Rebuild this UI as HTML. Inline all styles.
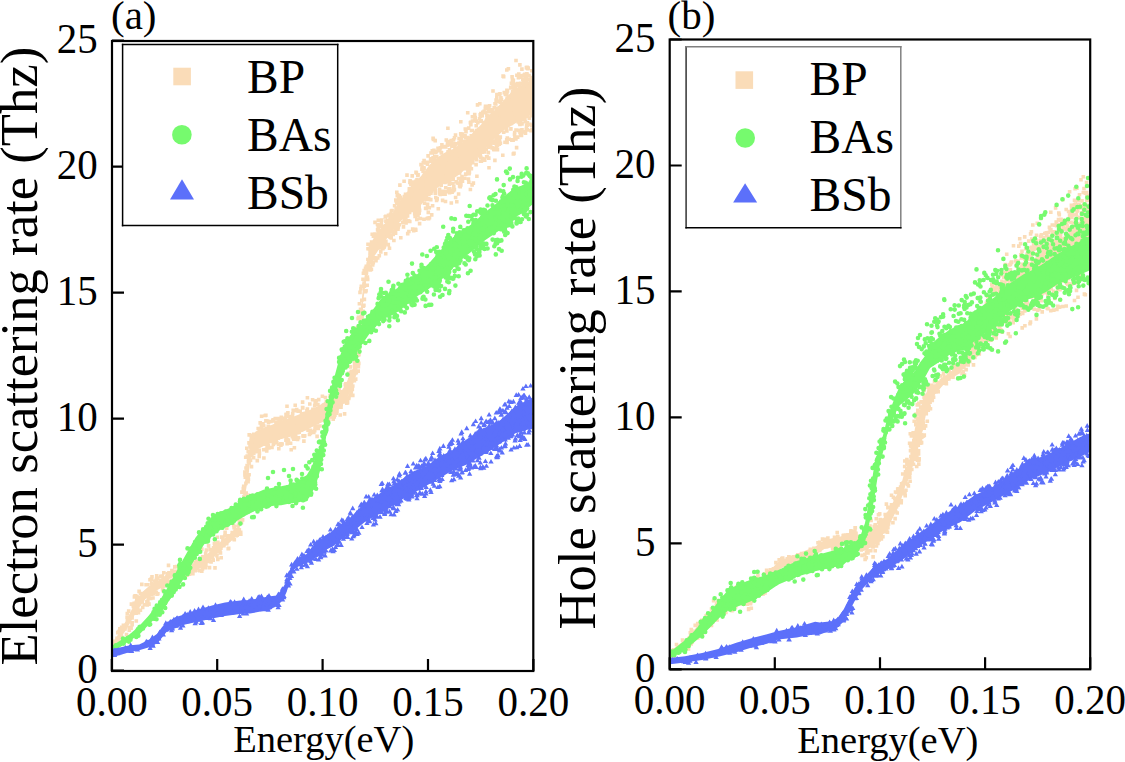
<!DOCTYPE html>
<html><head><meta charset="utf-8"><style>
html,body{margin:0;padding:0;background:#fff;width:1125px;height:762px;overflow:hidden}
svg{display:block}
text{font-family:"Liberation Serif",serif;fill:#000}
</style></head><body>
<svg width="1125" height="762" viewBox="0 0 1125 762">
<clipPath id="c10"><rect x="113" y="42" width="419.3" height="628.0"/></clipPath>
<g clip-path="url(#c10)">
<path d="M112.0 644.3L118.5 633.8L127.0 618.9L135.6 601.7L144.0 590.4L152.7 583.0L161.2 579.1L170.0 571.4L180.0 568.8L187.0 569.7L195.6 563.8L204.1 556.9L212.7 548.9L221.2 540.9L229.7 534.1L238.3 526.3L241.7 508.0L245.0 481.4L248.5 456.1L250.5 439.8L255.6 431.5L264.1 427.9L272.7 424.5L281.2 421.1L289.7 418.1L298.3 414.7L306.8 411.3L315.3 407.6L323.9 402.8L337.0 398.0L344.0 386.9L350.0 375.4L355.0 362.9L357.5 351.2L358.5 336.5L360.5 312.0L362.2 295.0L365.6 268.3L369.0 252.0L374.1 236.5L382.7 225.5L390.0 218.5L397.9 203.3L405.7 193.4L413.6 184.0L421.5 175.6L429.4 165.1L437.2 157.6L445.1 152.6L453.0 149.0L460.9 143.8L468.7 136.9L475.9 129.7L485.1 120.5L494.2 110.8L503.4 100.6L512.6 90.7L521.8 85.3L533.0 78.5L533.0 113.4L521.8 119.4L512.6 125.0L503.4 130.4L494.2 139.2L485.1 148.5L475.9 158.3L468.7 166.1L460.9 173.2L453.0 179.0L445.1 182.0L437.2 187.9L429.4 194.6L421.5 204.5L413.6 210.4L405.7 216.6L397.9 224.1L390.0 234.8L382.7 243.7L374.1 256.6L369.0 268.4L365.6 282.7L362.2 309.0L360.5 328.0L358.5 351.5L357.5 365.8L355.0 379.1L350.0 392.6L344.0 403.1L337.0 412.0L323.9 421.4L315.3 425.3L306.8 430.1L298.3 433.5L289.7 437.0L281.2 439.1L272.7 442.5L264.1 445.8L255.6 450.5L250.5 457.9L248.5 474.9L245.0 496.1L241.7 519.0L238.3 533.2L229.7 542.4L221.2 549.1L212.7 558.4L204.1 565.7L195.6 570.7L187.0 575.1L180.0 575.2L170.0 578.6L161.2 587.9L152.7 592.5L144.0 600.6L135.6 613.3L127.0 628.4L118.5 640.7L112.0 648.7Z" fill="#fadcb8"/>
<path d="M113.5 647.2h0M114.1 642.7h0M114.5 641.4h0M117.0 638.4h0M117.8 632.7h0M117.8 640.7h0M117.9 639.7h0M118.3 632.0h0M119.1 640.6h0M119.2 631.4h0M119.8 628.7h0M120.8 634.0h0M121.3 634.4h0M121.5 629.4h0M121.6 627.4h0M121.7 630.8h0M121.8 637.2h0M122.8 629.8h0M123.0 629.4h0M123.4 625.4h0M125.0 629.0h0M126.5 634.6h0M127.1 617.3h0M127.3 613.5h0M127.4 619.8h0M128.7 611.1h0M128.9 620.0h0M129.2 627.7h0M129.3 630.3h0M130.9 627.4h0M131.1 628.2h0M131.4 604.1h0M131.9 622.8h0M132.0 615.6h0M132.1 617.9h0M132.2 622.8h0M132.2 624.6h0M132.9 612.8h0M133.2 605.0h0M133.4 606.5h0M133.8 612.4h0M134.2 603.3h0M134.4 597.0h0M134.7 596.1h0M134.9 612.9h0M135.3 612.1h0M135.7 604.0h0M135.8 595.9h0M135.9 604.2h0M136.1 613.1h0M136.2 602.4h0M136.3 621.0h0M136.4 608.9h0M136.8 600.2h0M136.8 596.7h0M137.7 609.3h0M138.5 612.8h0M138.9 597.8h0M139.1 602.0h0M139.1 591.4h0M139.4 603.9h0M140.4 593.6h0M140.4 610.3h0M141.4 597.5h0M141.8 584.4h0M142.2 593.5h0M142.3 601.9h0M142.7 607.5h0M142.7 595.4h0M142.7 598.9h0M144.3 604.7h0M144.7 593.0h0M145.5 594.0h0M145.6 593.8h0M146.1 584.8h0M146.9 601.7h0M147.3 604.9h0M147.8 584.7h0M147.9 601.2h0M148.3 597.8h0M148.6 598.2h0M149.0 604.1h0M149.0 596.6h0M150.0 579.7h0M150.3 591.3h0M150.7 598.4h0M151.2 579.1h0M151.5 594.1h0M151.7 583.1h0M152.0 576.9h0M152.8 591.5h0M153.0 598.0h0M153.0 594.0h0M153.2 593.4h0M153.9 590.9h0M154.8 581.0h0M154.8 585.8h0M154.8 589.9h0M155.9 582.9h0M156.3 592.3h0M156.4 579.3h0M156.6 581.6h0M156.7 575.9h0M156.7 585.7h0M157.0 594.3h0M157.4 578.2h0M157.6 578.1h0M157.9 593.8h0M160.7 586.2h0M160.8 576.2h0M161.1 580.2h0M162.2 576.1h0M162.6 589.4h0M162.6 587.0h0M162.9 582.3h0M163.1 578.5h0M163.2 590.6h0M163.8 572.8h0M163.9 585.9h0M165.5 584.3h0M165.7 582.1h0M166.1 579.7h0M166.6 584.7h0M166.7 577.4h0M167.5 576.4h0M167.5 573.7h0M167.6 580.9h0M168.5 565.4h0M168.9 572.9h0M169.3 581.8h0M169.7 574.0h0M170.1 582.6h0M170.6 573.6h0M171.9 570.5h0M171.9 580.2h0M172.9 581.0h0M173.1 571.7h0M173.2 572.8h0M173.3 574.2h0M174.3 573.0h0M174.8 566.9h0M174.9 571.4h0M176.6 566.5h0M177.3 576.5h0M177.9 579.7h0M179.8 572.7h0M180.2 571.0h0M181.0 574.5h0M182.0 577.6h0M182.5 570.2h0M183.8 568.4h0M184.2 569.9h0M184.5 572.6h0M186.8 573.8h0M187.0 575.1h0M187.3 574.4h0M187.4 574.6h0M188.6 568.4h0M189.5 574.2h0M190.4 569.6h0M191.9 567.3h0M192.9 573.7h0M193.0 567.5h0M193.8 565.4h0M193.9 565.3h0M195.0 562.6h0M195.0 570.8h0M195.4 570.8h0M195.5 563.3h0M195.9 570.3h0M196.0 570.1h0M196.3 561.3h0M196.5 554.1h0M196.8 568.0h0M198.4 562.3h0M199.6 563.2h0M199.8 570.7h0M200.3 566.6h0M200.5 561.6h0M200.5 559.6h0M201.8 571.1h0M201.8 549.1h0M202.5 568.9h0M202.8 556.7h0M203.4 567.0h0M204.0 563.9h0M204.9 562.5h0M205.2 559.0h0M205.5 567.8h0M205.7 553.2h0M205.9 565.0h0M206.3 556.7h0M206.4 550.0h0M207.8 556.7h0M208.5 561.5h0M208.6 545.9h0M208.7 556.9h0M208.9 559.5h0M209.2 561.0h0M209.5 567.6h0M210.2 549.6h0M211.1 561.9h0M211.1 549.9h0M211.2 557.5h0M212.5 557.6h0M213.2 560.1h0M213.6 547.9h0M213.6 548.3h0M214.4 543.5h0M214.8 548.9h0M214.8 546.6h0M214.9 543.2h0M215.0 567.9h0M215.8 551.9h0M216.0 550.7h0M216.8 552.0h0M216.9 555.7h0M216.9 544.2h0M217.3 537.3h0M217.8 542.2h0M217.8 559.4h0M218.0 543.4h0M219.3 545.9h0M219.6 549.7h0M220.0 551.1h0M220.5 553.0h0M220.9 548.2h0M221.2 557.7h0M221.7 537.1h0M222.6 544.5h0M222.9 539.3h0M223.3 541.3h0M223.9 545.6h0M224.9 535.7h0M225.1 532.2h0M226.7 528.1h0M226.7 543.7h0M226.8 540.1h0M227.9 540.3h0M228.1 535.9h0M228.2 548.7h0M228.7 548.2h0M228.8 540.0h0M229.9 537.9h0M230.2 538.3h0M231.4 538.8h0M232.2 532.6h0M233.0 536.3h0M233.7 525.4h0M233.8 532.7h0M234.1 527.6h0M234.3 539.7h0M234.7 526.8h0M235.2 531.6h0M235.5 529.7h0M235.7 535.3h0M236.3 535.7h0M236.7 533.3h0M237.2 535.3h0M238.1 532.1h0M238.1 530.9h0M238.4 533.0h0M238.4 525.1h0M238.8 533.5h0M239.3 521.3h0M239.3 529.7h0M239.7 518.6h0M240.4 520.7h0M240.7 532.4h0M240.8 534.2h0M241.5 522.8h0M241.9 492.1h0M242.0 513.4h0M242.2 500.1h0M242.2 514.0h0M242.2 510.2h0M242.5 503.5h0M242.6 519.9h0M242.9 504.9h0M243.2 514.8h0M243.3 488.5h0M243.4 510.0h0M243.6 504.0h0M243.7 486.4h0M243.8 492.1h0M243.9 496.5h0M244.9 472.0h0M244.9 473.9h0M245.0 475.2h0M245.0 495.5h0M245.2 501.8h0M245.3 477.2h0M245.3 494.3h0M245.5 498.8h0M245.7 457.2h0M245.7 496.4h0M245.9 483.4h0M245.9 499.0h0M246.0 468.0h0M246.2 493.0h0M246.8 448.3h0M246.9 475.4h0M247.0 469.2h0M247.1 465.5h0M247.2 456.0h0M247.2 470.0h0M248.1 476.2h0M248.1 481.7h0M248.2 451.7h0M248.3 495.3h0M248.4 479.3h0M248.4 461.4h0M248.7 461.1h0M248.9 458.4h0M249.0 442.9h0M249.1 462.9h0M249.1 474.7h0M249.2 434.9h0M249.5 453.8h0M249.8 460.5h0M250.0 444.6h0M250.2 445.8h0M250.5 460.1h0M250.6 447.0h0M251.0 441.0h0M251.3 437.4h0M251.4 443.8h0M251.5 466.6h0M251.5 449.3h0M251.7 454.5h0M251.8 455.8h0M252.1 435.4h0M252.2 437.8h0M252.3 438.7h0M252.9 437.5h0M253.2 451.9h0M253.3 447.7h0M253.6 457.7h0M253.8 434.4h0M253.8 453.5h0M254.4 445.5h0M255.4 448.2h0M255.7 451.7h0M255.7 443.8h0M255.8 449.1h0M256.0 446.2h0M256.2 446.6h0M256.3 449.3h0M256.7 451.2h0M257.1 445.8h0M257.3 460.6h0M257.3 444.7h0M257.8 443.1h0M258.2 428.5h0M258.9 434.5h0M259.2 456.4h0M259.2 450.3h0M259.2 442.2h0M259.4 432.0h0M259.4 434.8h0M259.4 453.2h0M260.1 434.6h0M260.2 422.9h0M261.4 426.1h0M261.4 427.8h0M261.6 416.3h0M261.8 440.6h0M262.0 429.9h0M263.0 423.8h0M263.7 449.8h0M263.7 426.0h0M263.9 458.0h0M264.0 435.7h0M264.3 435.2h0M264.7 440.8h0M264.7 434.2h0M265.0 430.9h0M265.2 415.5h0M265.3 444.2h0M265.8 449.5h0M265.9 430.8h0M265.9 420.9h0M265.9 415.3h0M266.0 432.0h0M266.4 442.3h0M266.7 451.0h0M266.8 449.4h0M266.9 428.5h0M267.1 446.2h0M267.5 421.0h0M267.6 437.5h0M267.9 440.3h0M268.3 426.4h0M268.4 445.5h0M268.5 433.9h0M268.5 428.0h0M268.6 422.2h0M268.7 426.9h0M268.9 448.0h0M270.4 441.2h0M270.8 429.2h0M270.9 421.5h0M271.7 431.2h0M272.0 447.5h0M272.3 439.9h0M272.3 431.8h0M272.5 437.9h0M272.5 432.2h0M272.8 420.9h0M273.1 419.7h0M273.3 444.4h0M273.7 443.4h0M274.7 435.2h0M275.0 429.5h0M275.2 418.6h0M275.3 442.1h0M275.5 430.7h0M275.5 425.7h0M276.0 422.5h0M276.2 440.9h0M276.8 427.1h0M276.8 442.8h0M278.0 438.2h0M278.5 418.6h0M278.5 444.5h0M278.7 429.4h0M278.8 418.5h0M278.8 448.7h0M279.1 421.8h0M279.4 428.0h0M279.8 422.2h0M280.5 437.3h0M280.6 423.0h0M280.7 422.1h0M280.8 431.1h0M280.9 443.9h0M280.9 445.3h0M281.3 417.3h0M281.4 418.6h0M281.6 418.2h0M281.7 432.1h0M282.1 444.0h0M282.1 426.5h0M282.2 424.5h0M283.3 423.5h0M283.5 418.5h0M283.9 430.5h0M284.0 433.7h0M284.3 422.6h0M284.5 421.6h0M285.3 432.2h0M285.5 418.0h0M285.9 440.3h0M286.0 414.7h0M286.0 432.5h0M286.2 438.0h0M286.2 414.2h0M287.0 406.3h0M287.1 443.8h0M287.2 416.3h0M287.6 425.3h0M287.8 428.3h0M287.8 439.6h0M287.9 412.7h0M288.2 423.3h0M288.5 440.5h0M289.9 416.5h0M290.1 419.9h0M290.3 429.4h0M290.6 443.2h0M291.2 449.7h0M291.6 418.8h0M291.6 429.4h0M291.7 420.8h0M291.8 428.0h0M292.1 425.5h0M292.3 436.6h0M292.4 417.2h0M292.4 427.0h0M292.7 413.8h0M292.9 429.9h0M293.2 410.4h0M293.4 438.2h0M293.4 424.2h0M293.7 433.9h0M293.8 439.2h0M293.9 421.2h0M293.9 422.5h0M294.4 447.7h0M294.4 422.1h0M294.7 431.6h0M294.7 439.1h0M295.0 434.1h0M295.2 405.2h0M295.7 436.3h0M296.5 410.6h0M296.7 409.5h0M297.4 438.5h0M297.6 426.2h0M297.6 439.5h0M297.8 432.8h0M298.3 411.1h0M298.6 437.8h0M298.8 424.3h0M299.0 419.5h0M299.2 432.1h0M299.8 411.3h0M300.2 411.3h0M300.5 425.6h0M300.8 423.4h0M301.3 429.9h0M301.3 417.8h0M301.5 426.9h0M301.5 414.4h0M301.8 429.5h0M301.8 413.9h0M302.1 423.9h0M302.6 402.1h0M302.6 407.5h0M302.8 407.9h0M303.0 435.9h0M303.9 441.1h0M304.0 436.2h0M304.0 424.7h0M304.3 423.8h0M304.6 424.5h0M304.6 413.6h0M304.7 435.7h0M305.3 418.1h0M305.7 413.3h0M305.7 428.2h0M305.8 423.0h0M306.9 410.7h0M307.4 397.7h0M307.4 409.0h0M307.4 413.6h0M307.6 419.4h0M307.7 412.2h0M307.7 417.5h0M308.0 430.3h0M309.5 434.4h0M309.8 404.0h0M310.0 422.0h0M310.4 433.2h0M310.5 430.2h0M310.7 416.2h0M310.8 413.1h0M310.9 424.4h0M312.6 399.8h0M312.8 413.8h0M312.9 409.3h0M313.1 409.6h0M313.1 420.2h0M313.3 431.5h0M313.8 409.4h0M313.8 432.4h0M314.1 410.9h0M314.2 419.1h0M314.4 413.3h0M314.7 430.6h0M314.7 405.5h0M314.8 409.7h0M314.8 411.4h0M315.0 426.3h0M315.1 427.6h0M315.2 402.1h0M315.5 403.2h0M315.9 413.4h0M316.0 413.7h0M316.3 400.7h0M316.4 412.1h0M316.8 426.1h0M316.9 413.3h0M316.9 426.9h0M317.1 422.3h0M317.1 436.4h0M317.3 428.2h0M317.5 427.8h0M317.8 417.6h0M317.9 404.5h0M318.1 408.7h0M318.2 428.4h0M318.3 418.0h0M318.7 399.6h0M319.2 420.7h0M319.3 408.9h0M319.7 413.2h0M320.0 426.0h0M320.1 418.7h0M320.3 411.7h0M320.3 407.8h0M320.8 406.7h0M322.0 420.1h0M322.4 396.3h0M322.7 408.6h0M323.1 418.1h0M323.6 405.1h0M324.3 417.7h0M324.4 426.2h0M324.7 426.4h0M325.4 397.5h0M325.5 404.0h0M326.0 417.0h0M326.1 422.3h0M326.2 414.2h0M326.2 425.2h0M326.3 401.6h0M327.5 421.8h0M327.8 420.7h0M327.9 410.4h0M328.0 418.7h0M328.0 408.1h0M328.7 418.8h0M328.7 419.6h0M328.9 414.4h0M329.3 404.5h0M329.7 416.1h0M330.1 395.6h0M330.4 408.8h0M330.8 417.0h0M330.9 403.5h0M331.2 412.2h0M331.3 405.7h0M332.9 399.0h0M332.9 402.3h0M333.2 419.3h0M333.7 405.2h0M334.2 417.0h0M334.2 405.3h0M334.5 404.4h0M334.9 415.1h0M335.1 405.2h0M335.2 405.3h0M335.8 394.9h0M335.9 409.3h0M336.0 412.8h0M336.3 400.6h0M336.3 410.3h0M336.4 413.1h0M336.4 392.2h0M337.0 411.2h0M337.3 394.6h0M338.7 393.6h0M339.1 389.6h0M339.3 407.1h0M339.8 406.5h0M340.1 403.2h0M340.2 415.0h0M340.2 393.6h0M340.7 400.4h0M340.7 391.7h0M341.0 407.2h0M341.2 404.5h0M341.5 399.1h0M341.7 393.8h0M341.8 399.1h0M341.8 401.5h0M342.4 401.1h0M342.9 397.5h0M343.4 402.0h0M343.6 394.9h0M344.5 401.1h0M344.6 413.9h0M344.7 397.8h0M345.0 397.4h0M345.0 390.6h0M345.3 384.8h0M345.5 400.2h0M345.6 391.4h0M345.8 386.8h0M345.8 391.6h0M345.9 383.9h0M346.3 387.8h0M346.4 399.6h0M346.8 403.1h0M347.1 400.5h0M347.2 400.4h0M347.5 400.5h0M347.6 402.8h0M348.3 375.2h0M348.5 398.4h0M348.6 373.3h0M348.8 398.4h0M349.0 397.0h0M349.0 382.9h0M349.7 379.9h0M350.1 375.6h0M350.2 395.0h0M350.4 366.9h0M350.9 372.7h0M351.0 393.1h0M351.1 395.4h0M351.2 380.5h0M351.3 391.5h0M351.4 371.4h0M351.8 378.1h0M351.9 386.2h0M352.3 389.4h0M352.6 379.2h0M352.8 386.0h0M352.8 395.4h0M353.9 373.7h0M354.1 374.9h0M354.2 380.5h0M354.4 348.1h0M354.4 380.7h0M354.5 366.0h0M354.6 362.9h0M354.8 367.1h0M354.9 373.4h0M355.0 367.1h0M355.1 362.9h0M355.5 350.6h0M355.6 368.7h0M355.6 342.9h0M355.7 379.1h0M356.3 372.6h0M356.6 366.7h0M356.9 361.8h0M356.9 328.1h0M357.2 350.0h0M357.3 341.3h0M357.3 336.5h0M357.7 355.2h0M357.8 362.1h0M358.0 361.4h0M358.1 318.7h0M358.2 371.1h0M358.2 349.2h0M358.3 348.7h0M358.4 366.7h0M358.5 317.3h0M358.8 338.0h0M358.8 363.4h0M358.9 354.7h0M358.9 326.6h0M359.2 349.1h0M359.2 332.6h0M359.4 303.7h0M359.7 317.2h0M360.0 326.1h0M360.0 292.4h0M360.2 336.8h0M360.2 342.2h0M360.5 309.3h0M360.6 342.0h0M360.9 288.7h0M360.9 311.4h0M361.2 309.7h0M361.2 316.6h0M361.3 318.5h0M361.3 286.3h0M361.8 300.3h0M362.0 342.3h0M362.1 311.2h0M362.2 316.6h0M363.0 311.3h0M363.0 279.3h0M363.2 306.1h0M363.4 273.3h0M363.9 323.1h0M363.9 305.4h0M363.9 284.7h0M364.1 283.0h0M364.2 270.5h0M364.4 299.4h0M364.4 286.3h0M365.3 291.1h0M365.5 268.4h0M365.5 291.7h0M366.1 273.1h0M366.1 290.7h0M366.1 269.1h0M366.3 266.4h0M366.4 272.1h0M366.5 272.8h0M366.9 269.4h0M367.2 285.2h0M367.4 279.2h0M367.4 267.0h0M367.4 277.0h0M367.7 279.4h0M367.9 259.5h0M368.0 244.3h0M368.0 248.7h0M368.4 263.8h0M368.9 261.4h0M368.9 262.8h0M369.2 262.1h0M369.3 248.9h0M369.3 248.5h0M369.7 259.2h0M369.9 261.7h0M370.0 262.1h0M370.1 259.3h0M370.1 252.4h0M370.2 253.4h0M370.3 266.7h0M370.5 246.1h0M370.5 269.9h0M370.9 256.2h0M371.1 244.7h0M371.4 269.3h0M371.6 253.6h0M371.6 242.1h0M371.7 260.5h0M372.2 234.3h0M372.5 245.8h0M372.6 245.2h0M372.7 265.0h0M373.3 262.6h0M373.4 236.1h0M373.6 258.4h0M374.5 241.4h0M374.8 257.9h0M374.9 234.1h0M375.0 222.4h0M375.6 236.0h0M376.0 260.7h0M376.1 258.5h0M377.0 240.2h0M377.5 224.5h0M377.6 229.9h0M377.8 258.0h0M378.0 247.6h0M378.2 227.5h0M378.3 220.3h0M378.5 232.9h0M378.7 244.8h0M379.2 242.2h0M379.3 232.9h0M379.3 255.7h0M379.6 225.1h0M379.6 230.9h0M380.1 234.7h0M380.2 239.3h0M380.4 248.0h0M380.8 251.9h0M380.8 244.8h0M380.9 237.9h0M381.0 232.6h0M381.4 223.6h0M381.7 226.2h0M381.7 220.1h0M381.8 244.7h0M381.9 247.2h0M381.9 242.4h0M382.2 231.2h0M382.9 248.7h0M383.1 237.5h0M383.2 226.9h0M383.3 237.5h0M383.3 226.5h0M383.6 247.5h0M383.8 240.2h0M383.9 234.2h0M384.2 246.9h0M384.6 245.6h0M384.6 231.1h0M385.2 241.7h0M385.3 216.9h0M385.5 243.5h0M385.7 253.8h0M385.8 227.7h0M385.9 221.1h0M385.9 241.3h0M385.9 216.4h0M387.6 231.1h0M387.7 220.6h0M387.9 235.5h0M388.1 236.2h0M388.1 225.4h0M388.3 244.6h0M388.5 215.3h0M389.0 229.2h0M389.3 230.2h0M389.5 248.3h0M390.0 217.3h0M390.1 237.3h0M390.5 214.4h0M390.6 235.0h0M390.8 218.7h0M391.0 221.1h0M391.2 237.9h0M391.3 222.2h0M391.4 211.0h0M391.8 219.6h0M392.0 214.9h0M392.1 210.6h0M392.6 215.8h0M392.7 231.3h0M393.2 234.5h0M393.9 240.5h0M394.0 231.0h0M394.6 205.8h0M395.2 221.0h0M395.5 230.3h0M395.5 227.1h0M395.6 233.2h0M395.8 200.0h0M395.8 224.4h0M396.1 209.5h0M396.2 209.1h0M396.3 201.1h0M396.4 213.3h0M396.6 215.0h0M396.6 223.8h0M396.7 203.2h0M396.8 192.2h0M397.2 214.6h0M397.3 195.8h0M397.4 228.6h0M397.7 194.9h0M397.8 201.8h0M398.0 229.1h0M398.3 201.6h0M398.3 227.0h0M398.6 217.8h0M398.6 196.0h0M398.7 199.0h0M398.8 210.5h0M399.2 209.8h0M399.2 224.8h0M399.2 195.9h0M399.3 215.0h0M399.9 199.0h0M399.9 185.1h0M400.5 197.4h0M400.8 237.8h0M401.1 208.1h0M401.5 203.2h0M402.3 209.7h0M402.4 211.6h0M402.5 216.1h0M402.7 222.7h0M402.9 208.0h0M403.3 216.9h0M403.4 216.2h0M403.5 226.9h0M403.6 215.4h0M404.1 181.2h0M404.1 221.2h0M404.4 210.8h0M404.5 196.6h0M404.5 205.7h0M404.7 218.6h0M404.7 218.9h0M405.4 221.4h0M405.5 194.3h0M405.8 217.2h0M405.9 216.8h0M406.1 222.9h0M406.8 202.0h0M407.0 175.1h0M407.3 203.5h0M407.4 199.8h0M407.4 200.8h0M407.6 216.0h0M407.6 221.0h0M407.7 233.6h0M407.7 210.5h0M407.8 208.0h0M408.3 197.6h0M408.3 205.5h0M408.4 205.7h0M408.6 203.4h0M408.6 220.7h0M408.6 210.7h0M408.6 206.6h0M408.9 231.5h0M409.1 212.4h0M409.3 189.4h0M409.4 188.8h0M409.5 212.1h0M409.6 212.5h0M409.7 208.1h0M409.8 221.5h0M409.9 182.4h0M410.1 180.9h0M410.3 205.3h0M410.9 184.4h0M411.0 192.7h0M411.1 202.1h0M411.2 202.5h0M412.1 203.0h0M412.2 182.1h0M412.2 175.9h0M412.4 182.2h0M412.4 210.4h0M412.5 185.9h0M412.6 206.5h0M412.7 229.1h0M412.9 201.6h0M413.7 230.6h0M414.2 196.4h0M414.2 185.2h0M414.4 195.6h0M414.6 186.1h0M414.7 213.7h0M414.8 184.6h0M414.8 197.7h0M414.9 210.8h0M415.0 194.7h0M415.1 216.5h0M415.2 192.3h0M415.5 229.2h0M415.6 198.0h0M415.6 208.7h0M415.8 230.1h0M415.9 181.3h0M416.0 199.8h0M416.0 194.1h0M416.0 172.2h0M416.2 195.8h0M416.4 210.1h0M416.4 207.3h0M416.4 173.0h0M416.4 202.3h0M416.7 199.9h0M416.8 219.5h0M417.0 179.8h0M417.0 213.4h0M417.2 182.9h0M417.5 185.8h0M417.6 198.3h0M417.7 195.6h0M417.8 208.3h0M417.8 205.5h0M417.8 175.4h0M418.0 215.7h0M418.1 183.2h0M418.1 174.7h0M418.2 202.1h0M418.2 182.7h0M418.8 207.9h0M419.0 183.0h0M419.0 209.0h0M419.2 213.2h0M419.2 206.9h0M419.2 202.3h0M419.6 210.4h0M419.6 223.6h0M420.4 218.5h0M420.5 181.5h0M421.0 164.6h0M421.2 187.5h0M421.3 192.8h0M421.4 188.7h0M421.7 190.6h0M421.9 191.0h0M421.9 169.1h0M422.2 188.5h0M422.2 167.0h0M422.4 188.2h0M422.6 197.7h0M422.6 191.1h0M423.1 171.3h0M423.1 196.6h0M423.3 162.7h0M423.5 196.3h0M423.8 167.9h0M424.0 219.2h0M424.0 163.0h0M424.1 177.3h0M424.1 160.5h0M424.1 168.2h0M424.4 175.1h0M424.5 203.2h0M424.8 175.5h0M425.0 198.1h0M425.1 190.0h0M425.2 189.4h0M425.6 208.3h0M425.7 194.4h0M426.0 199.4h0M426.1 208.4h0M426.1 199.4h0M426.1 175.3h0M426.2 181.3h0M426.4 192.9h0M426.4 186.4h0M426.5 173.1h0M426.5 195.6h0M426.5 189.6h0M426.7 193.1h0M426.9 184.7h0M427.2 218.5h0M427.2 172.3h0M427.5 164.2h0M427.5 183.3h0M427.5 206.0h0M427.6 204.3h0M427.7 162.3h0M428.1 155.9h0M428.1 177.4h0M428.2 199.4h0M428.2 218.0h0M428.3 212.4h0M428.5 182.2h0M428.6 218.6h0M428.7 198.9h0M428.7 173.3h0M428.9 194.4h0M429.0 193.6h0M429.2 182.7h0M429.3 207.7h0M429.5 217.8h0M430.5 199.7h0M430.6 159.6h0M430.7 173.0h0M430.8 161.3h0M430.8 161.3h0M430.8 199.6h0M430.9 193.3h0M431.0 153.0h0M431.1 186.2h0M431.2 158.8h0M431.4 191.4h0M431.7 214.9h0M431.8 181.9h0M432.3 150.9h0M432.3 152.7h0M432.6 184.8h0M432.6 205.8h0M432.7 184.3h0M432.7 181.1h0M432.8 179.7h0M432.9 189.8h0M433.0 161.5h0M433.1 138.3h0M433.1 181.6h0M433.1 157.7h0M433.3 189.2h0M433.3 178.9h0M433.4 139.5h0M433.6 178.0h0M434.0 150.2h0M434.4 159.3h0M434.7 156.2h0M434.8 185.6h0M435.0 184.0h0M435.1 189.8h0M435.1 162.5h0M435.2 140.6h0M435.3 193.1h0M435.3 180.2h0M435.3 190.6h0M435.4 190.5h0M435.5 152.1h0M435.5 180.2h0M435.6 169.9h0M435.6 161.5h0M435.8 197.5h0M436.0 175.1h0M436.0 164.9h0M436.2 178.9h0M436.3 164.6h0M436.3 151.7h0M436.5 185.2h0M436.6 200.5h0M436.7 156.5h0M437.1 164.9h0M437.2 198.9h0M437.5 167.5h0M437.8 183.3h0M437.8 181.1h0M437.9 162.6h0M438.0 148.3h0M438.3 208.7h0M438.4 150.2h0M438.4 160.5h0M438.6 177.5h0M439.3 169.6h0M439.5 150.6h0M439.5 193.0h0M439.6 189.4h0M439.7 161.5h0M439.8 149.3h0M440.0 175.4h0M440.1 194.4h0M440.2 175.5h0M440.4 193.7h0M440.4 147.7h0M440.6 182.4h0M440.7 174.4h0M440.8 179.0h0M440.9 169.8h0M441.2 161.9h0M441.2 185.2h0M441.3 152.6h0M441.3 194.1h0M441.5 152.9h0M441.5 168.3h0M441.7 168.9h0M441.9 181.9h0M441.9 144.9h0M442.1 147.0h0M442.2 164.8h0M442.4 191.3h0M442.6 200.4h0M442.6 176.5h0M442.9 174.5h0M443.7 194.3h0M443.7 172.1h0M443.8 179.1h0M443.9 166.4h0M444.1 168.3h0M444.1 146.6h0M444.2 177.2h0M444.3 178.3h0M444.5 192.9h0M444.8 191.9h0M445.0 182.5h0M445.1 194.3h0M445.1 163.3h0M445.4 155.6h0M445.5 201.5h0M445.7 187.7h0M445.7 163.8h0M445.7 147.0h0M446.0 160.0h0M446.0 179.0h0M446.3 191.8h0M446.3 140.0h0M447.4 145.3h0M447.5 176.9h0M447.5 142.1h0M447.5 177.0h0M447.5 143.5h0M447.7 159.3h0M447.8 164.3h0M447.9 168.5h0M447.9 128.3h0M447.9 143.1h0M448.0 152.8h0M448.0 181.8h0M448.1 151.9h0M448.3 154.3h0M448.3 166.4h0M448.3 191.5h0M448.4 143.4h0M448.6 141.5h0M448.8 189.1h0M449.3 144.6h0M449.3 184.1h0M449.5 149.8h0M449.6 188.8h0M449.6 192.7h0M449.7 162.5h0M449.7 176.4h0M449.7 181.0h0M449.8 190.3h0M450.5 165.6h0M450.6 159.6h0M450.7 160.2h0M450.9 177.2h0M451.0 170.8h0M451.2 140.5h0M451.2 152.9h0M451.3 203.0h0M451.6 142.2h0M451.8 157.9h0M451.9 144.1h0M451.9 146.3h0M452.1 192.1h0M452.1 159.3h0M452.1 190.8h0M452.4 162.9h0M452.5 158.7h0M452.8 163.3h0M452.9 183.5h0M453.1 173.6h0M453.2 179.3h0M453.4 190.7h0M453.5 188.9h0M453.6 139.9h0M453.6 162.9h0M453.8 186.5h0M454.2 173.7h0M454.4 189.6h0M454.5 137.8h0M454.6 169.2h0M455.0 147.3h0M455.0 145.5h0M455.1 154.1h0M455.3 152.7h0M455.3 148.9h0M455.4 143.9h0M455.5 135.1h0M455.6 197.5h0M455.8 155.2h0M456.0 169.5h0M456.2 181.8h0M456.8 201.7h0M457.0 167.9h0M457.4 183.0h0M457.7 150.2h0M457.8 161.0h0M457.8 170.9h0M457.8 148.9h0M458.5 178.6h0M458.6 194.0h0M458.8 164.8h0M458.8 143.0h0M458.8 161.3h0M458.8 155.4h0M459.0 183.1h0M459.1 138.6h0M459.3 146.0h0M459.6 173.0h0M459.6 186.0h0M459.7 143.7h0M460.0 163.1h0M460.1 169.9h0M460.1 158.2h0M460.2 142.6h0M460.2 166.0h0M460.2 142.9h0M460.3 186.7h0M460.6 151.5h0M460.6 149.4h0M460.7 133.9h0M460.7 140.9h0M460.8 182.0h0M460.8 121.8h0M460.9 185.0h0M461.0 146.2h0M461.2 179.6h0M461.4 137.4h0M461.5 138.6h0M461.6 152.7h0M461.6 164.1h0M461.8 167.8h0M462.0 176.5h0M462.4 134.0h0M462.5 181.2h0M462.6 149.2h0M462.7 151.7h0M462.8 150.7h0M463.1 151.6h0M463.1 154.4h0M463.2 158.2h0M463.3 158.9h0M463.4 166.9h0M464.1 159.2h0M464.3 148.4h0M464.3 141.6h0M464.8 178.3h0M464.9 135.8h0M464.9 157.9h0M465.1 136.1h0M465.1 158.9h0M465.1 166.3h0M465.2 147.0h0M465.3 129.0h0M465.4 152.7h0M465.5 168.7h0M465.5 154.6h0M465.5 149.2h0M465.7 174.1h0M465.7 137.6h0M466.0 131.7h0M466.2 154.8h0M466.3 142.7h0M466.6 155.4h0M466.6 159.5h0M466.8 153.4h0M466.8 147.8h0M466.9 159.3h0M467.2 147.7h0M467.2 137.6h0M467.7 112.7h0M467.8 158.2h0M467.9 171.2h0M468.1 170.4h0M468.1 169.5h0M468.2 167.8h0M468.5 171.4h0M468.5 179.1h0M468.5 160.8h0M468.7 153.2h0M468.7 169.5h0M468.7 128.1h0M468.9 182.2h0M469.1 173.8h0M469.2 141.9h0M469.3 140.5h0M469.4 172.2h0M469.4 141.9h0M470.0 166.9h0M470.2 151.3h0M470.2 142.3h0M470.4 189.5h0M470.4 163.3h0M470.4 122.7h0M470.5 162.8h0M470.7 122.4h0M470.8 153.2h0M470.9 124.6h0M471.0 149.9h0M471.1 159.6h0M471.1 152.8h0M471.2 142.8h0M471.3 135.7h0M471.4 168.7h0M471.5 130.5h0M471.8 159.5h0M471.9 162.3h0M471.9 153.0h0M471.9 145.2h0M472.0 145.1h0M472.0 138.4h0M472.1 184.9h0M472.1 161.4h0M472.4 116.8h0M472.4 121.0h0M472.5 147.3h0M472.5 130.5h0M472.7 162.7h0M473.0 149.8h0M473.4 183.1h0M473.9 139.9h0M474.1 137.1h0M474.5 155.0h0M474.6 120.6h0M474.6 135.6h0M474.7 134.8h0M474.7 145.3h0M474.7 114.6h0M474.8 132.4h0M475.2 117.6h0M475.9 158.9h0M476.1 164.6h0M476.2 125.8h0M476.3 136.0h0M476.5 159.7h0M476.7 121.1h0M476.8 130.5h0M476.9 152.2h0M476.9 176.3h0M477.1 143.7h0M477.2 134.8h0M477.2 131.6h0M477.3 134.4h0M477.4 145.7h0M477.5 104.9h0M477.7 138.4h0M477.8 122.8h0M478.4 144.5h0M478.4 130.1h0M478.9 156.0h0M479.1 147.0h0M479.4 153.7h0M479.5 118.8h0M479.5 129.3h0M479.8 103.8h0M479.9 146.5h0M480.2 114.9h0M480.3 154.5h0M480.4 131.7h0M480.5 116.2h0M480.5 161.3h0M480.7 150.1h0M480.8 121.1h0M480.8 157.3h0M480.9 113.6h0M481.0 149.0h0M481.2 120.9h0M481.4 145.7h0M481.4 161.3h0M481.4 131.7h0M481.6 113.6h0M481.7 151.7h0M482.1 128.3h0M482.2 115.6h0M482.3 152.1h0M482.3 130.8h0M482.4 158.6h0M482.8 112.4h0M482.8 137.5h0M482.8 143.7h0M482.9 136.9h0M482.9 159.1h0M483.2 151.9h0M483.4 133.4h0M483.5 122.6h0M483.5 159.3h0M483.8 124.0h0M483.9 134.8h0M484.0 144.9h0M484.1 111.3h0M484.1 141.3h0M484.2 150.5h0M484.4 148.5h0M484.5 152.0h0M484.5 147.5h0M484.6 140.4h0M484.6 147.2h0M484.7 160.1h0M485.2 130.1h0M485.3 108.3h0M485.5 131.3h0M485.5 106.2h0M485.8 112.6h0M486.1 121.4h0M486.2 149.2h0M486.3 134.4h0M486.6 135.2h0M486.6 156.8h0M486.8 125.1h0M486.9 138.4h0M486.9 119.4h0M486.9 115.4h0M487.1 156.8h0M487.5 143.1h0M487.7 132.4h0M487.7 116.0h0M488.0 128.2h0M488.3 109.4h0M488.4 152.6h0M488.4 147.1h0M488.5 111.1h0M488.5 106.6h0M488.7 142.7h0M488.7 145.5h0M488.7 106.3h0M488.8 158.1h0M489.0 167.7h0M489.6 105.7h0M490.2 128.7h0M490.3 111.7h0M490.7 146.0h0M490.8 125.3h0M491.0 109.7h0M491.2 119.2h0M491.3 116.1h0M491.3 135.2h0M491.5 116.3h0M491.5 142.4h0M491.5 116.0h0M491.5 141.9h0M491.7 139.0h0M491.8 115.9h0M492.1 111.6h0M492.1 147.9h0M492.1 134.7h0M492.4 112.3h0M492.4 130.1h0M492.5 141.9h0M493.0 91.0h0M493.2 118.3h0M493.3 129.7h0M493.7 114.2h0M493.7 149.4h0M493.7 125.0h0M493.9 115.7h0M493.9 135.1h0M494.0 135.4h0M494.1 148.4h0M494.2 149.8h0M494.2 107.9h0M494.2 121.0h0M494.4 143.1h0M494.7 126.0h0M494.8 121.5h0M494.9 160.4h0M495.0 103.8h0M495.1 132.2h0M495.3 132.4h0M495.7 112.3h0M495.8 104.0h0M495.9 140.5h0M496.1 100.1h0M496.1 125.7h0M496.1 123.0h0M496.3 115.7h0M496.4 146.7h0M496.5 139.9h0M496.5 119.8h0M496.6 145.2h0M496.8 97.7h0M496.8 98.7h0M496.8 136.8h0M496.9 94.5h0M497.0 111.1h0M497.1 118.0h0M497.3 108.2h0M497.3 139.3h0M497.4 108.7h0M497.5 145.7h0M497.5 149.7h0M497.5 144.0h0M497.6 131.0h0M497.6 136.8h0M497.7 129.8h0M498.0 101.3h0M498.4 128.7h0M498.5 129.0h0M498.6 110.4h0M498.8 138.5h0M499.3 140.4h0M499.3 144.2h0M499.4 94.3h0M499.6 107.9h0M499.6 140.3h0M499.9 111.6h0M500.0 93.7h0M500.2 102.2h0M500.3 137.1h0M500.4 143.2h0M500.7 124.1h0M500.8 124.6h0M500.9 97.8h0M501.3 119.9h0M501.5 99.6h0M501.5 108.6h0M501.6 129.6h0M502.5 110.2h0M502.6 107.7h0M502.7 116.6h0M502.8 155.2h0M503.1 76.1h0M503.2 127.4h0M503.3 120.1h0M503.4 108.5h0M503.4 123.4h0M503.6 111.1h0M503.7 132.3h0M503.7 76.6h0M503.9 118.4h0M504.3 92.6h0M504.7 92.7h0M504.7 105.1h0M504.9 115.3h0M505.0 142.2h0M505.1 115.7h0M505.2 102.0h0M505.4 94.5h0M505.5 126.9h0M505.5 118.4h0M505.6 127.6h0M505.8 103.1h0M505.8 118.8h0M506.0 122.6h0M506.1 106.0h0M506.3 114.2h0M506.5 103.6h0M506.6 128.5h0M506.7 102.3h0M506.7 103.9h0M506.7 108.6h0M506.7 139.9h0M506.8 70.0h0M506.9 94.4h0M506.9 131.0h0M506.9 90.3h0M507.1 116.9h0M507.1 98.4h0M507.1 142.4h0M507.3 138.0h0M507.5 90.9h0M507.6 112.9h0M508.4 97.8h0M508.4 68.7h0M508.6 111.7h0M508.9 105.2h0M508.9 104.5h0M509.1 117.8h0M509.2 139.2h0M509.4 113.9h0M509.5 111.7h0M509.7 103.5h0M510.3 105.2h0M510.5 117.6h0M510.7 121.0h0M510.7 88.0h0M510.7 87.3h0M510.8 119.6h0M510.9 128.9h0M510.9 112.5h0M510.9 122.5h0M511.1 96.5h0M511.4 83.2h0M511.4 123.4h0M511.5 114.0h0M511.6 119.1h0M511.9 140.2h0M512.0 108.7h0M512.1 76.7h0M512.2 102.9h0M512.3 94.4h0M512.3 97.0h0M512.4 139.8h0M512.4 79.8h0M512.6 91.9h0M512.7 118.3h0M512.7 100.3h0M512.8 118.3h0M512.9 82.0h0M513.0 85.2h0M513.1 140.2h0M513.3 154.0h0M513.3 117.7h0M513.3 108.9h0M513.3 120.0h0M513.4 80.4h0M513.5 102.6h0M513.7 84.1h0M514.0 153.4h0M514.1 91.5h0M514.2 88.9h0M514.5 134.5h0M514.7 132.5h0M514.7 98.6h0M514.9 137.3h0M515.2 114.7h0M515.3 113.9h0M515.4 138.6h0M515.6 86.2h0M515.7 101.5h0M515.8 93.3h0M515.9 84.3h0M515.9 139.0h0M516.0 130.0h0M516.0 60.5h0M516.3 99.1h0M516.4 107.2h0M516.5 85.4h0M516.6 147.6h0M516.6 93.0h0M516.7 93.6h0M516.7 113.4h0M516.9 75.2h0M517.0 109.6h0M517.7 137.1h0M517.7 117.2h0M517.8 83.6h0M517.8 115.1h0M517.8 89.9h0M517.8 104.9h0M518.0 106.8h0M518.0 102.1h0M518.1 115.9h0M518.3 95.1h0M518.3 121.9h0M518.4 77.6h0M518.8 130.4h0M518.8 120.3h0M518.8 74.1h0M518.9 104.5h0M519.2 110.9h0M519.4 101.1h0M519.5 122.9h0M519.6 86.5h0M519.8 110.8h0M519.9 124.5h0M519.9 64.9h0M520.0 132.4h0M520.0 77.2h0M520.1 131.3h0M520.3 94.2h0M520.3 132.1h0M520.6 134.9h0M520.6 83.3h0M520.6 121.9h0M520.8 106.3h0M520.9 75.7h0M521.4 95.7h0M521.5 135.4h0M521.5 131.9h0M521.5 97.7h0M521.7 93.0h0M521.7 115.3h0M521.7 109.1h0M521.9 69.1h0M522.0 129.9h0M522.0 105.4h0M522.0 123.9h0M522.2 119.6h0M522.3 83.6h0M522.3 102.2h0M522.6 118.9h0M522.8 99.2h0M522.8 101.9h0M522.8 79.4h0M523.0 104.0h0M523.2 131.9h0M523.4 99.4h0M523.4 86.4h0M523.5 75.4h0M523.8 112.0h0M523.9 82.2h0M524.3 102.3h0M524.6 96.6h0M524.6 83.2h0M524.8 97.5h0M524.9 74.3h0M524.9 119.3h0M525.3 77.2h0M525.4 121.7h0M525.5 112.3h0M525.5 115.8h0M525.5 77.0h0M525.5 133.1h0M525.6 98.0h0M525.6 81.5h0M525.7 85.3h0M525.8 92.4h0M525.8 107.4h0M526.0 95.5h0M526.0 91.7h0M526.2 79.0h0M526.3 129.4h0M526.4 77.3h0M526.4 67.6h0M526.5 82.8h0M526.6 125.6h0M526.9 92.4h0M526.9 73.9h0M526.9 108.9h0M527.1 67.3h0M527.1 95.4h0M527.1 75.1h0M527.1 68.0h0M527.4 125.1h0M527.4 129.9h0M527.4 122.7h0M527.6 116.5h0M527.9 68.6h0M528.2 100.1h0M528.2 68.0h0M528.4 109.8h0M528.6 112.4h0M529.1 75.5h0M529.1 90.4h0M529.2 87.6h0M529.3 79.2h0M529.3 118.3h0M529.6 105.2h0M529.9 105.1h0M529.9 124.4h0M530.2 100.8h0M530.4 86.1h0M530.8 82.9h0M530.9 107.7h0M531.0 130.7h0M531.3 94.2h0M531.4 115.6h0M531.4 77.5h0M531.8 70.7h0M531.8 125.3h0M531.8 78.9h0M531.9 81.9h0M532.0 129.3h0M532.1 98.6h0" stroke="#fadcb8" stroke-width="3.6" stroke-linecap="square" fill="none"/>
<path d="M112.0 645.7L120.0 640.8L130.0 634.0L139.2 626.0L148.4 615.9L157.5 604.5L162.5 595.9L169.0 585.0L178.5 567.5L187.0 552.6L195.6 537.4L204.1 526.8L212.7 515.3L221.2 511.4L229.7 508.0L238.3 502.8L246.8 497.7L255.3 493.2L264.1 489.6L272.7 487.8L281.2 486.3L289.7 484.6L298.3 481.3L306.8 475.1L312.0 466.3L316.0 455.6L320.0 446.1L322.5 433.2L325.0 417.4L328.0 402.7L330.0 392.4L335.0 374.8L340.0 355.8L345.0 343.1L350.0 335.4L355.0 329.6L361.2 324.9L370.0 313.5L381.8 297.8L393.6 290.4L405.4 282.9L417.2 274.2L429.0 263.2L439.2 251.8L448.4 242.0L457.5 233.6L466.7 227.9L475.9 220.6L485.1 212.0L494.2 205.2L503.4 197.0L512.6 189.4L521.8 185.4L533.0 180.0L533.0 204.0L521.8 213.4L512.6 218.7L503.4 227.7L494.2 234.1L485.1 240.2L475.9 248.0L466.7 255.6L457.5 262.6L448.4 274.0L439.2 281.2L429.0 288.8L417.2 296.3L405.4 306.1L393.6 314.6L381.8 319.8L370.0 332.9L361.2 345.8L355.0 354.4L350.0 360.6L345.0 368.9L340.0 381.2L335.0 395.2L330.0 411.6L328.0 424.3L325.0 444.6L322.5 458.8L320.0 470.9L316.0 484.4L312.0 492.7L306.8 499.9L298.3 502.4L289.7 503.6L281.2 505.3L272.7 505.8L264.1 507.7L255.3 510.8L246.8 514.9L238.3 519.9L229.7 525.8L221.2 529.2L212.7 535.7L204.1 544.6L195.6 557.8L187.0 573.2L178.5 587.0L169.0 601.0L162.5 610.6L157.5 616.0L148.4 624.9L139.2 634.8L130.0 640.6L120.0 647.2L112.0 651.3Z" fill="#76fa6e"/>
<path d="M115.1 648.3h0M115.9 645.4h0M115.9 647.2h0M117.2 645.7h0M123.0 638.6h0M123.4 640.1h0M123.6 643.6h0M127.8 638.0h0M128.9 641.6h0M130.5 639.8h0M132.5 635.2h0M135.8 633.8h0M136.3 637.0h0M137.8 629.4h0M138.4 635.8h0M138.6 629.5h0M139.4 627.4h0M140.0 626.7h0M141.4 628.8h0M141.5 627.6h0M143.0 628.4h0M148.6 622.7h0M149.4 624.7h0M150.2 624.2h0M150.3 617.7h0M153.6 612.1h0M153.9 618.8h0M154.6 608.9h0M156.5 619.3h0M156.8 605.6h0M157.9 614.7h0M158.9 608.3h0M159.1 612.8h0M159.7 614.8h0M160.1 602.4h0M161.9 600.1h0M162.3 612.3h0M163.8 598.8h0M164.2 591.4h0M164.7 597.7h0M165.2 602.1h0M165.2 603.2h0M165.2 608.0h0M165.5 594.1h0M166.9 595.8h0M167.3 585.5h0M167.6 598.8h0M168.6 597.2h0M170.9 589.5h0M171.1 584.4h0M171.6 581.9h0M171.7 587.3h0M171.7 584.1h0M171.8 595.6h0M171.9 585.9h0M172.7 592.4h0M173.4 582.4h0M173.7 592.1h0M174.3 581.3h0M174.8 575.4h0M175.7 589.5h0M176.6 575.4h0M179.0 579.3h0M179.2 565.4h0M179.4 586.9h0M179.5 568.0h0M179.7 576.5h0M180.0 559.9h0M180.2 563.7h0M180.9 574.2h0M182.1 572.0h0M182.2 573.5h0M182.2 576.7h0M183.1 584.4h0M183.4 570.9h0M183.6 568.9h0M184.5 571.5h0M184.9 578.0h0M186.8 562.3h0M187.5 548.4h0M187.5 573.9h0M188.6 572.1h0M188.6 564.4h0M189.0 569.7h0M190.3 554.5h0M190.3 567.8h0M191.3 548.6h0M192.7 549.6h0M193.1 552.3h0M193.2 548.5h0M193.5 551.0h0M194.4 544.7h0M194.8 557.8h0M195.0 549.4h0M195.1 542.0h0M195.7 552.7h0M196.6 554.0h0M198.0 541.9h0M199.0 532.4h0M199.2 541.4h0M199.3 547.8h0M199.4 545.3h0M199.6 546.7h0M199.8 558.9h0M199.9 539.8h0M200.2 551.7h0M200.6 544.2h0M201.0 537.4h0M203.1 529.4h0M203.1 531.5h0M203.5 539.6h0M205.8 541.7h0M206.2 536.0h0M206.2 526.9h0M206.7 540.7h0M207.0 537.6h0M207.6 541.4h0M207.7 523.3h0M208.0 541.1h0M208.2 538.5h0M208.5 518.7h0M208.8 532.0h0M209.3 532.1h0M211.7 534.2h0M212.3 531.7h0M213.0 515.1h0M213.1 523.2h0M213.1 534.4h0M214.5 525.6h0M214.8 539.2h0M215.2 527.4h0M215.4 529.8h0M215.5 524.7h0M216.5 531.3h0M217.7 514.1h0M217.7 523.5h0M217.8 516.9h0M218.4 515.9h0M218.9 518.5h0M220.8 514.8h0M221.0 513.3h0M221.0 519.7h0M221.4 522.1h0M221.9 527.7h0M222.0 514.1h0M222.4 527.8h0M222.7 518.0h0M224.2 512.7h0M224.5 516.3h0M225.5 516.4h0M225.7 511.5h0M227.1 520.5h0M227.3 512.0h0M227.6 524.7h0M230.9 522.8h0M231.1 521.6h0M231.2 516.9h0M231.6 508.1h0M232.4 522.7h0M232.5 510.9h0M233.0 521.0h0M233.5 514.0h0M234.2 520.8h0M235.8 504.5h0M236.8 510.9h0M239.0 510.0h0M239.6 512.3h0M239.9 501.4h0M240.2 499.8h0M240.4 523.6h0M241.9 505.4h0M242.0 513.6h0M242.4 509.9h0M242.6 513.7h0M243.7 512.1h0M243.9 498.9h0M244.5 507.4h0M245.0 504.9h0M246.5 499.8h0M247.7 511.9h0M247.8 511.1h0M248.0 497.3h0M248.6 504.2h0M250.1 509.8h0M250.8 497.9h0M250.9 496.1h0M251.7 496.8h0M251.8 509.4h0M252.1 517.3h0M252.8 495.6h0M253.8 506.0h0M253.8 517.1h0M256.0 508.9h0M256.5 506.4h0M256.9 502.4h0M257.5 507.3h0M257.5 494.2h0M257.5 511.5h0M258.1 502.3h0M258.3 499.6h0M258.3 498.4h0M258.7 504.9h0M259.7 506.8h0M260.9 498.7h0M261.2 509.3h0M262.5 498.7h0M263.4 505.1h0M263.4 495.4h0M264.6 493.8h0M264.7 500.4h0M265.0 501.9h0M266.3 506.8h0M267.0 488.5h0M267.9 506.2h0M268.1 495.5h0M268.7 495.4h0M269.4 504.9h0M271.4 500.0h0M272.0 503.8h0M272.0 498.0h0M272.0 497.9h0M272.3 502.2h0M274.3 493.0h0M275.4 499.1h0M276.4 506.1h0M277.2 492.3h0M277.2 499.2h0M278.5 488.6h0M278.6 501.6h0M279.0 488.0h0M279.4 500.1h0M279.4 494.2h0M280.4 489.2h0M280.4 491.8h0M281.0 494.7h0M284.1 490.1h0M284.2 489.8h0M284.3 489.9h0M284.7 492.3h0M285.0 497.7h0M285.7 494.9h0M286.7 496.2h0M286.9 492.9h0M287.1 492.9h0M287.2 494.0h0M287.4 493.4h0M287.5 501.1h0M287.8 487.4h0M288.9 501.9h0M289.2 487.9h0M290.3 499.9h0M290.6 480.6h0M290.9 484.4h0M291.1 495.9h0M292.0 487.9h0M292.5 506.0h0M293.1 484.6h0M293.5 500.5h0M293.8 489.2h0M294.9 499.9h0M295.1 493.4h0M295.2 486.7h0M296.1 503.1h0M296.6 479.9h0M298.6 487.6h0M299.1 484.7h0M301.2 490.3h0M302.2 490.8h0M302.2 478.6h0M302.6 489.3h0M302.7 500.2h0M302.9 485.2h0M302.9 507.8h0M303.4 492.4h0M303.7 500.1h0M304.3 497.6h0M305.7 478.5h0M306.0 499.1h0M306.2 486.4h0M306.4 494.3h0M306.7 490.5h0M307.3 496.5h0M307.4 483.5h0M307.5 491.1h0M307.7 468.4h0M308.4 483.0h0M308.7 482.5h0M308.9 484.5h0M309.3 462.2h0M309.4 491.7h0M309.5 491.4h0M309.6 477.5h0M311.0 494.8h0M311.3 493.3h0M311.7 487.1h0M312.2 460.1h0M312.5 483.0h0M313.3 485.3h0M313.5 466.9h0M314.1 478.6h0M314.3 454.7h0M314.7 478.0h0M314.9 474.2h0M314.9 487.9h0M315.1 482.3h0M315.1 474.0h0M315.2 457.7h0M315.3 463.5h0M315.3 484.6h0M315.7 470.7h0M316.1 455.3h0M316.1 488.8h0M316.7 466.3h0M316.8 450.5h0M316.9 476.3h0M317.3 451.1h0M317.4 468.4h0M318.1 455.7h0M318.9 442.1h0M319.1 458.2h0M319.2 458.3h0M319.6 453.2h0M319.7 441.6h0M320.2 453.3h0M320.3 442.4h0M320.3 457.8h0M320.8 447.5h0M320.9 464.0h0M321.2 459.7h0M321.7 449.8h0M321.8 469.2h0M322.3 432.2h0M322.5 436.3h0M323.3 455.1h0M323.5 444.3h0M323.8 450.6h0M324.1 426.8h0M324.1 442.2h0M325.1 433.8h0M325.1 444.8h0M325.6 420.7h0M325.8 422.3h0M325.9 431.8h0M326.1 427.4h0M326.3 428.6h0M326.3 420.8h0M326.4 426.8h0M326.4 430.0h0M326.6 409.0h0M327.5 414.3h0M327.7 421.8h0M327.7 401.2h0M327.8 424.3h0M328.2 415.3h0M328.4 422.9h0M329.5 414.2h0M330.1 390.9h0M330.4 407.6h0M330.4 410.4h0M330.7 406.9h0M330.8 397.3h0M330.8 402.5h0M330.9 405.7h0M331.6 403.2h0M332.1 387.5h0M332.6 402.2h0M333.4 381.9h0M333.9 386.1h0M334.6 377.7h0M334.8 387.1h0M335.3 378.9h0M336.1 396.7h0M336.1 390.5h0M336.2 382.4h0M337.0 393.6h0M337.8 379.1h0M337.8 380.5h0M338.7 381.9h0M339.1 383.6h0M339.1 361.9h0M339.1 357.9h0M339.6 370.7h0M339.7 380.5h0M340.0 383.8h0M340.0 385.9h0M340.2 380.9h0M340.5 380.8h0M340.7 364.6h0M341.0 357.4h0M341.0 365.8h0M341.7 380.1h0M341.7 349.5h0M342.0 350.3h0M342.0 373.2h0M342.2 349.2h0M342.8 370.9h0M343.3 355.4h0M343.7 341.8h0M344.5 353.0h0M344.5 354.7h0M344.8 346.6h0M344.8 341.2h0M345.2 351.6h0M345.3 348.9h0M345.7 367.4h0M345.7 364.5h0M346.2 331.0h0M347.1 365.9h0M347.4 354.8h0M347.4 338.3h0M347.4 374.5h0M347.9 356.2h0M348.7 345.2h0M349.1 359.5h0M349.2 343.1h0M349.5 362.0h0M350.4 361.1h0M350.6 347.4h0M350.7 342.8h0M350.8 360.0h0M351.6 347.4h0M351.9 331.7h0M352.4 355.7h0M352.5 354.4h0M352.8 342.5h0M353.2 328.2h0M353.8 358.7h0M354.2 330.6h0M354.3 341.5h0M354.4 340.1h0M355.0 349.7h0M355.1 353.8h0M355.4 329.5h0M356.2 356.8h0M356.7 337.2h0M356.8 339.6h0M357.3 360.7h0M357.9 331.0h0M357.9 347.4h0M358.6 326.1h0M358.8 328.4h0M359.1 327.2h0M359.5 351.6h0M359.7 346.7h0M359.9 331.0h0M360.5 322.3h0M360.9 326.8h0M361.1 330.4h0M361.9 341.6h0M362.8 333.7h0M362.9 338.3h0M363.1 313.4h0M363.8 320.9h0M364.1 323.8h0M364.3 334.0h0M364.4 312.7h0M365.4 320.5h0M365.4 343.0h0M365.6 333.7h0M366.7 330.6h0M368.0 316.8h0M368.0 323.8h0M368.5 316.8h0M368.7 321.7h0M369.3 340.9h0M370.0 315.7h0M370.9 317.5h0M371.2 332.2h0M371.8 314.2h0M372.4 311.9h0M372.5 329.8h0M373.4 329.7h0M373.7 315.3h0M374.0 325.5h0M374.3 323.9h0M374.6 324.4h0M374.6 319.2h0M375.1 319.4h0M375.2 323.4h0M375.9 330.7h0M377.0 321.1h0M377.6 303.9h0M377.8 323.0h0M378.0 311.3h0M378.4 306.0h0M378.6 298.2h0M378.8 297.9h0M379.0 324.1h0M379.3 294.5h0M380.7 295.8h0M380.8 291.9h0M380.9 314.2h0M381.8 309.3h0M383.2 321.1h0M383.7 298.0h0M383.8 300.8h0M384.5 312.3h0M384.6 319.8h0M385.1 309.3h0M385.8 292.7h0M387.0 309.2h0M387.1 311.1h0M387.3 295.5h0M387.5 311.4h0M387.5 298.3h0M387.7 300.2h0M388.2 298.1h0M388.5 281.7h0M389.1 301.1h0M389.1 308.3h0M389.3 326.3h0M389.3 320.5h0M389.6 317.2h0M389.8 299.0h0M390.5 313.0h0M390.8 293.2h0M391.0 306.0h0M391.6 292.6h0M391.8 290.0h0M392.9 293.6h0M393.1 289.0h0M393.2 286.9h0M393.4 285.8h0M394.4 306.9h0M394.4 317.3h0M394.7 316.2h0M395.4 314.8h0M395.5 310.3h0M396.2 294.9h0M396.5 302.5h0M397.0 316.1h0M397.8 302.5h0M397.9 320.2h0M398.1 309.5h0M398.4 294.4h0M398.4 283.8h0M399.4 303.0h0M400.0 288.0h0M400.1 309.1h0M400.2 289.9h0M401.1 311.3h0M401.2 287.1h0M401.9 295.8h0M402.3 292.5h0M402.4 287.1h0M402.5 284.9h0M402.8 288.5h0M403.7 300.7h0M404.5 305.6h0M404.6 296.4h0M404.8 312.4h0M405.2 297.8h0M405.3 298.7h0M405.3 284.2h0M405.3 306.3h0M405.4 283.2h0M405.6 282.2h0M405.8 280.9h0M406.0 282.6h0M406.3 293.4h0M406.9 308.1h0M407.1 301.7h0M407.4 274.8h0M407.8 279.2h0M409.2 299.6h0M409.4 288.2h0M409.6 288.3h0M409.6 301.5h0M411.3 299.6h0M411.6 304.5h0M411.7 278.5h0M412.0 263.6h0M412.4 287.1h0M412.5 305.2h0M412.6 292.5h0M412.8 273.0h0M413.6 300.9h0M413.6 279.8h0M414.3 289.1h0M414.4 275.6h0M414.6 304.8h0M415.0 285.2h0M415.7 298.6h0M415.8 276.2h0M416.4 280.6h0M416.9 300.5h0M417.0 292.5h0M417.1 287.5h0M418.0 282.6h0M418.0 287.4h0M418.3 279.3h0M419.5 270.8h0M419.6 290.4h0M420.5 292.1h0M420.9 286.7h0M421.5 266.5h0M421.5 264.7h0M421.8 288.5h0M421.9 270.2h0M422.2 276.4h0M422.3 254.5h0M422.5 298.7h0M422.8 297.6h0M423.0 268.6h0M423.4 278.6h0M423.6 296.7h0M423.7 273.5h0M423.9 268.1h0M424.0 278.0h0M424.0 281.6h0M424.1 280.6h0M424.1 272.3h0M424.8 269.6h0M425.4 299.5h0M425.6 305.9h0M425.7 275.5h0M426.1 288.6h0M426.9 256.0h0M427.2 291.7h0M427.6 282.0h0M428.1 272.7h0M429.1 304.9h0M429.9 280.2h0M430.0 275.2h0M430.6 250.7h0M430.7 280.5h0M431.0 264.2h0M431.3 304.7h0M431.8 273.3h0M432.5 285.4h0M432.6 268.2h0M432.9 277.5h0M433.8 283.7h0M433.9 294.5h0M434.3 248.7h0M434.5 286.8h0M435.6 289.9h0M435.9 277.7h0M436.1 286.0h0M436.2 252.0h0M436.3 271.2h0M436.7 283.0h0M436.8 247.3h0M437.2 271.7h0M437.4 286.8h0M437.5 256.3h0M437.5 254.7h0M438.1 261.3h0M438.2 268.0h0M438.5 269.4h0M438.7 282.9h0M438.7 258.3h0M438.8 259.4h0M439.2 290.4h0M439.4 251.9h0M439.7 281.1h0M439.7 272.3h0M439.8 280.2h0M439.9 258.9h0M440.1 296.7h0M440.9 259.7h0M441.1 286.1h0M441.3 260.9h0M441.5 275.9h0M441.9 270.9h0M442.2 261.9h0M442.5 295.0h0M442.8 261.1h0M443.2 226.7h0M443.6 275.7h0M443.7 247.5h0M443.8 265.1h0M445.0 244.0h0M445.0 288.9h0M445.2 243.5h0M445.5 253.0h0M445.6 277.4h0M445.9 261.7h0M446.1 245.6h0M446.4 240.9h0M446.8 241.9h0M446.8 276.5h0M447.1 244.2h0M447.3 237.8h0M447.3 281.5h0M447.7 256.9h0M448.2 236.7h0M448.3 235.0h0M448.3 274.0h0M448.7 282.3h0M448.8 256.4h0M448.9 277.9h0M449.0 268.6h0M449.1 293.2h0M449.2 271.9h0M449.4 263.9h0M449.4 291.0h0M449.6 258.5h0M449.9 238.1h0M449.9 258.5h0M450.4 252.5h0M450.5 267.2h0M450.8 277.9h0M450.8 241.9h0M451.4 218.4h0M451.4 262.5h0M451.8 258.9h0M451.8 245.3h0M452.4 278.4h0M452.8 278.7h0M452.8 259.2h0M453.2 231.4h0M453.2 228.7h0M453.4 278.6h0M453.5 260.6h0M454.6 271.1h0M454.6 239.1h0M454.8 275.9h0M454.8 256.5h0M454.9 264.9h0M454.9 219.0h0M455.1 254.0h0M455.4 285.6h0M455.7 262.3h0M456.1 236.8h0M456.5 252.0h0M456.9 264.3h0M456.9 235.2h0M457.0 233.4h0M457.0 250.3h0M457.3 240.3h0M457.4 262.9h0M457.5 263.1h0M457.6 268.0h0M458.3 263.1h0M458.7 269.0h0M458.7 276.2h0M459.2 246.2h0M459.2 263.1h0M459.7 232.4h0M459.8 242.4h0M459.9 253.6h0M460.2 235.1h0M460.3 226.9h0M460.3 258.2h0M460.5 260.6h0M460.7 249.3h0M462.0 250.8h0M462.4 241.3h0M462.5 247.9h0M463.4 250.9h0M463.4 237.9h0M463.5 251.7h0M463.5 248.1h0M463.7 230.3h0M464.0 240.2h0M464.1 242.6h0M464.5 263.3h0M464.6 235.2h0M464.8 230.3h0M465.0 242.1h0M465.3 257.0h0M465.7 264.5h0M466.0 235.7h0M466.3 215.7h0M467.0 250.0h0M467.5 257.4h0M467.6 228.2h0M467.8 259.5h0M467.9 273.2h0M468.3 221.8h0M468.4 236.2h0M468.8 216.0h0M468.9 242.1h0M468.9 260.1h0M469.3 258.3h0M469.4 249.7h0M469.7 243.9h0M469.7 206.0h0M470.6 270.8h0M471.1 216.3h0M471.2 227.8h0M471.5 244.5h0M471.9 241.6h0M472.2 219.4h0M473.1 234.6h0M473.4 223.2h0M473.5 214.7h0M473.8 233.6h0M473.8 245.1h0M473.9 229.1h0M474.0 251.7h0M474.3 244.5h0M475.0 254.5h0M475.3 259.3h0M475.6 214.7h0M475.7 235.0h0M475.8 247.5h0M475.8 220.0h0M476.1 230.9h0M476.3 235.0h0M476.4 255.5h0M476.4 230.6h0M476.5 246.7h0M476.7 256.4h0M476.7 228.3h0M477.1 249.5h0M477.1 230.4h0M477.2 211.3h0M477.5 254.1h0M477.5 249.3h0M478.7 225.6h0M479.4 251.9h0M479.5 211.8h0M479.6 255.4h0M479.8 211.2h0M479.9 238.2h0M480.1 243.0h0M480.5 235.2h0M480.6 209.6h0M480.9 224.2h0M481.0 246.3h0M481.0 248.2h0M481.1 244.3h0M481.3 213.6h0M482.0 217.7h0M482.2 239.3h0M482.3 221.3h0M482.4 233.2h0M482.8 221.6h0M483.3 246.7h0M483.7 209.7h0M484.0 214.1h0M484.0 243.5h0M484.6 248.9h0M485.0 210.2h0M485.2 217.4h0M485.3 219.5h0M486.4 243.9h0M486.9 233.1h0M486.9 222.5h0M487.1 232.4h0M487.2 230.1h0M487.5 205.5h0M487.6 248.5h0M487.9 223.9h0M488.2 216.3h0M489.3 198.1h0M489.7 221.5h0M489.8 230.1h0M490.0 197.2h0M490.1 220.4h0M490.8 199.4h0M490.9 213.4h0M491.1 215.2h0M491.5 216.9h0M491.9 222.8h0M491.9 211.1h0M491.9 228.1h0M492.0 200.1h0M492.0 220.6h0M492.1 227.7h0M492.5 229.4h0M492.5 205.3h0M492.6 239.6h0M492.7 200.1h0M493.4 213.7h0M493.4 208.2h0M493.6 195.3h0M493.6 233.3h0M493.8 233.0h0M494.3 246.2h0M495.1 223.6h0M495.5 194.1h0M495.5 243.9h0M495.6 218.7h0M495.7 240.3h0M495.8 212.4h0M495.8 254.4h0M495.9 200.8h0M497.0 179.4h0M497.1 243.2h0M497.5 212.4h0M497.5 239.8h0M497.8 228.3h0M498.3 228.7h0M498.7 206.8h0M498.7 213.7h0M499.0 249.1h0M499.5 241.0h0M499.5 206.0h0M499.9 217.5h0M500.0 203.1h0M500.0 190.5h0M500.5 229.3h0M501.1 201.6h0M501.4 240.4h0M501.7 250.8h0M501.9 224.8h0M502.2 217.6h0M502.3 219.2h0M502.4 197.6h0M502.9 196.4h0M503.1 229.8h0M503.1 212.5h0M503.2 201.3h0M503.3 191.2h0M503.5 197.9h0M503.7 215.5h0M503.7 185.1h0M504.1 231.8h0M504.2 193.8h0M504.4 209.0h0M504.4 215.2h0M504.4 226.0h0M504.6 199.9h0M504.9 227.9h0M505.2 230.7h0M505.2 234.9h0M505.3 215.5h0M505.4 200.4h0M505.6 214.1h0M506.0 171.6h0M506.3 216.8h0M506.9 216.0h0M507.1 173.0h0M507.2 201.8h0M507.4 221.4h0M507.5 201.7h0M507.6 233.1h0M507.7 215.6h0M507.7 225.4h0M507.8 205.5h0M508.4 220.3h0M508.6 220.4h0M509.0 197.2h0M509.6 225.0h0M509.8 168.6h0M510.0 179.4h0M510.1 199.4h0M511.3 223.1h0M511.4 219.7h0M511.6 209.4h0M511.9 201.3h0M512.3 213.8h0M512.4 226.4h0M512.5 210.7h0M512.7 192.6h0M513.0 177.1h0M513.3 189.8h0M513.3 218.2h0M513.6 200.0h0M513.7 214.1h0M514.4 186.6h0M514.5 189.6h0M514.8 195.6h0M514.8 209.7h0M515.1 213.0h0M515.2 193.5h0M515.5 189.0h0M515.6 187.3h0M515.9 218.2h0M516.2 202.8h0M516.4 187.2h0M516.5 223.1h0M516.6 223.4h0M516.9 197.1h0M517.0 221.3h0M517.4 201.2h0M517.6 212.7h0M517.6 180.9h0M517.9 177.8h0M518.0 206.3h0M518.1 218.5h0M518.8 221.9h0M519.0 196.8h0M519.6 202.4h0M520.4 210.8h0M520.6 221.9h0M521.1 188.3h0M521.4 176.8h0M521.7 173.9h0M522.0 219.3h0M522.2 210.6h0M522.4 211.4h0M522.5 194.0h0M522.6 197.1h0M522.7 190.8h0M523.3 201.4h0M523.3 175.6h0M523.9 214.1h0M523.9 182.2h0M524.4 203.8h0M524.5 198.9h0M525.2 189.8h0M525.4 208.8h0M525.4 210.4h0M525.8 182.8h0M525.9 216.4h0M526.2 186.5h0M526.2 173.1h0M526.3 209.0h0M526.6 168.4h0M527.1 214.9h0M527.2 208.4h0M527.8 187.7h0M527.9 173.2h0M528.0 204.1h0M528.8 219.0h0M528.8 174.7h0M529.7 194.3h0M529.8 176.1h0M530.0 201.2h0M530.5 212.1h0M530.7 182.4h0M531.1 198.0h0M531.2 177.6h0M531.3 176.0h0M531.6 181.0h0M532.3 188.9h0" stroke="#76fa6e" stroke-width="4.6" stroke-linecap="round" fill="none"/>
<path d="M268.0 478.0h0M273.0 472.0h0M279.0 484.0h0M284.0 470.0h0M289.0 476.0h0M293.0 469.0h0M298.0 481.0h0M302.0 474.0h0M306.0 466.0h0M276.0 488.0h0M381.0 289.0h0M384.0 293.0h0M352.0 318.0h0M358.0 312.0h0" stroke="#76fa6e" stroke-width="4.6" stroke-linecap="round" fill="none"/>
<path d="M112.0 648.8L121.0 647.3L130.0 645.3L139.2 644.5L148.4 639.9L157.5 633.6L162.1 627.1L166.7 622.5L175.9 617.1L185.1 614.3L194.3 610.7L203.5 607.9L212.0 605.6L225.0 602.6L240.0 600.6L250.0 600.1L259.2 598.2L268.4 596.4L276.8 595.5L282.7 588.3L286.2 581.4L288.6 574.5L291.0 566.3L294.5 560.6L300.4 556.5L306.3 554.2L312.2 546.7L318.1 542.3L324.0 536.4L332.7 531.1L341.0 524.3L349.2 518.8L358.4 509.6L367.6 501.3L376.8 495.7L386.0 488.6L395.1 484.7L404.3 477.6L413.1 471.5L426.3 466.2L439.4 456.8L452.5 450.3L465.7 440.1L481.2 429.2L498.3 422.1L515.4 406.5L533.0 397.3L533.0 428.0L515.4 433.2L498.3 444.9L481.2 455.9L465.7 464.9L452.5 470.4L439.4 478.2L426.3 485.8L413.1 493.0L404.3 497.9L395.1 504.5L386.0 509.7L376.8 515.6L367.6 519.7L358.4 527.3L349.2 533.7L341.0 539.7L332.7 546.6L324.0 550.7L318.1 556.6L312.2 559.4L306.3 563.6L300.4 564.9L294.5 569.0L291.0 576.3L288.6 585.9L286.2 593.1L282.7 600.3L276.8 606.2L268.4 609.9L259.2 611.8L250.0 613.6L240.0 613.9L225.0 615.9L212.0 618.4L203.5 620.5L194.3 622.5L185.1 624.5L175.9 628.1L166.7 631.8L162.1 637.4L157.5 642.9L148.4 647.6L139.2 650.3L130.0 652.1L121.0 654.7L112.0 656.7Z" fill="#5c70fa"/>
<path d="M114.4 647.8l2.7 4.6h-5.3zM114.5 652.3l2.7 4.6h-5.3zM114.8 651.3l2.7 4.6h-5.3zM115.1 648.1l2.7 4.6h-5.3zM116.0 649.5l2.7 4.6h-5.3zM117.7 650.7l2.7 4.6h-5.3zM125.4 645.0l2.7 4.6h-5.3zM125.9 646.6l2.7 4.6h-5.3zM126.7 646.5l2.7 4.6h-5.3zM129.7 648.1l2.7 4.6h-5.3zM130.4 645.0l2.7 4.6h-5.3zM130.7 642.6l2.7 4.6h-5.3zM131.2 648.4l2.7 4.6h-5.3zM131.3 644.6l2.7 4.6h-5.3zM131.6 648.2l2.7 4.6h-5.3zM134.1 645.2l2.7 4.6h-5.3zM137.4 647.0l2.7 4.6h-5.3zM144.7 641.5l2.7 4.6h-5.3zM146.3 638.8l2.7 4.6h-5.3zM147.4 639.4l2.7 4.6h-5.3zM148.1 639.8l2.7 4.6h-5.3zM149.9 642.4l2.7 4.6h-5.3zM150.1 645.3l2.7 4.6h-5.3zM150.7 639.7l2.7 4.6h-5.3zM152.4 641.5l2.7 4.6h-5.3zM152.4 634.6l2.7 4.6h-5.3zM152.7 640.0l2.7 4.6h-5.3zM153.1 643.1l2.7 4.6h-5.3zM157.6 639.4l2.7 4.6h-5.3zM158.9 635.9l2.7 4.6h-5.3zM159.4 631.2l2.7 4.6h-5.3zM159.7 629.5l2.7 4.6h-5.3zM160.0 630.0l2.7 4.6h-5.3zM163.3 631.9l2.7 4.6h-5.3zM163.9 625.4l2.7 4.6h-5.3zM165.3 627.2l2.7 4.6h-5.3zM165.8 620.3l2.7 4.6h-5.3zM165.9 621.5l2.7 4.6h-5.3zM166.2 626.9l2.7 4.6h-5.3zM167.5 621.3l2.7 4.6h-5.3zM170.0 621.9l2.7 4.6h-5.3zM170.3 619.0l2.7 4.6h-5.3zM171.4 621.1l2.7 4.6h-5.3zM171.6 627.6l2.7 4.6h-5.3zM172.5 626.0l2.7 4.6h-5.3zM173.9 616.8l2.7 4.6h-5.3zM176.2 623.2l2.7 4.6h-5.3zM176.4 616.0l2.7 4.6h-5.3zM177.1 615.2l2.7 4.6h-5.3zM180.4 620.5l2.7 4.6h-5.3zM180.5 625.2l2.7 4.6h-5.3zM182.9 613.8l2.7 4.6h-5.3zM182.9 623.0l2.7 4.6h-5.3zM185.1 611.0l2.7 4.6h-5.3zM185.1 616.2l2.7 4.6h-5.3zM185.4 614.9l2.7 4.6h-5.3zM187.0 618.7l2.7 4.6h-5.3zM187.2 611.8l2.7 4.6h-5.3zM190.2 609.1l2.7 4.6h-5.3zM191.0 610.4l2.7 4.6h-5.3zM191.2 614.2l2.7 4.6h-5.3zM193.7 614.8l2.7 4.6h-5.3zM194.6 607.9l2.7 4.6h-5.3zM195.1 620.6l2.7 4.6h-5.3zM196.1 619.1l2.7 4.6h-5.3zM198.5 614.7l2.7 4.6h-5.3zM198.5 606.6l2.7 4.6h-5.3zM198.8 616.1l2.7 4.6h-5.3zM199.2 617.2l2.7 4.6h-5.3zM201.2 620.3l2.7 4.6h-5.3zM202.5 619.9l2.7 4.6h-5.3zM202.6 614.7l2.7 4.6h-5.3zM203.0 604.4l2.7 4.6h-5.3zM205.0 610.6l2.7 4.6h-5.3zM206.2 615.5l2.7 4.6h-5.3zM207.1 615.3l2.7 4.6h-5.3zM208.4 605.3l2.7 4.6h-5.3zM209.2 609.7l2.7 4.6h-5.3zM209.9 608.6l2.7 4.6h-5.3zM210.5 615.6l2.7 4.6h-5.3zM212.4 608.8l2.7 4.6h-5.3zM212.8 608.3l2.7 4.6h-5.3zM212.9 605.4l2.7 4.6h-5.3zM213.5 617.4l2.7 4.6h-5.3zM215.5 602.3l2.7 4.6h-5.3zM216.2 605.4l2.7 4.6h-5.3zM217.1 610.7l2.7 4.6h-5.3zM219.0 606.5l2.7 4.6h-5.3zM219.1 605.3l2.7 4.6h-5.3zM220.4 608.2l2.7 4.6h-5.3zM220.9 606.7l2.7 4.6h-5.3zM220.9 605.3l2.7 4.6h-5.3zM221.3 608.9l2.7 4.6h-5.3zM221.3 612.4l2.7 4.6h-5.3zM222.4 604.4l2.7 4.6h-5.3zM225.0 610.0l2.7 4.6h-5.3zM227.4 610.2l2.7 4.6h-5.3zM230.3 599.0l2.7 4.6h-5.3zM231.2 610.2l2.7 4.6h-5.3zM231.3 599.8l2.7 4.6h-5.3zM232.8 609.6l2.7 4.6h-5.3zM233.5 601.5l2.7 4.6h-5.3zM234.2 606.2l2.7 4.6h-5.3zM234.3 606.2l2.7 4.6h-5.3zM234.6 599.3l2.7 4.6h-5.3zM234.6 606.3l2.7 4.6h-5.3zM234.7 604.9l2.7 4.6h-5.3zM236.7 605.8l2.7 4.6h-5.3zM237.1 606.0l2.7 4.6h-5.3zM237.3 604.2l2.7 4.6h-5.3zM237.7 606.3l2.7 4.6h-5.3zM239.6 613.4l2.7 4.6h-5.3zM243.0 602.0l2.7 4.6h-5.3zM243.0 607.8l2.7 4.6h-5.3zM243.1 611.0l2.7 4.6h-5.3zM243.4 608.1l2.7 4.6h-5.3zM243.7 596.6l2.7 4.6h-5.3zM244.2 604.9l2.7 4.6h-5.3zM246.6 610.9l2.7 4.6h-5.3zM247.7 603.3l2.7 4.6h-5.3zM248.5 605.5l2.7 4.6h-5.3zM249.1 598.3l2.7 4.6h-5.3zM251.2 601.5l2.7 4.6h-5.3zM251.5 604.6l2.7 4.6h-5.3zM251.6 607.4l2.7 4.6h-5.3zM251.7 595.9l2.7 4.6h-5.3zM252.4 598.4l2.7 4.6h-5.3zM253.7 603.4l2.7 4.6h-5.3zM254.7 601.0l2.7 4.6h-5.3zM255.9 600.1l2.7 4.6h-5.3zM256.1 604.7l2.7 4.6h-5.3zM257.2 597.6l2.7 4.6h-5.3zM258.0 594.8l2.7 4.6h-5.3zM258.7 604.0l2.7 4.6h-5.3zM259.0 597.2l2.7 4.6h-5.3zM259.0 596.6l2.7 4.6h-5.3zM259.1 593.9l2.7 4.6h-5.3zM261.4 593.5l2.7 4.6h-5.3zM262.6 606.7l2.7 4.6h-5.3zM263.2 604.2l2.7 4.6h-5.3zM263.8 606.3l2.7 4.6h-5.3zM264.0 601.2l2.7 4.6h-5.3zM265.0 598.1l2.7 4.6h-5.3zM265.7 606.6l2.7 4.6h-5.3zM266.8 604.3l2.7 4.6h-5.3zM267.3 594.4l2.7 4.6h-5.3zM268.2 607.1l2.7 4.6h-5.3zM268.8 604.9l2.7 4.6h-5.3zM269.0 592.9l2.7 4.6h-5.3zM269.7 604.3l2.7 4.6h-5.3zM270.0 595.4l2.7 4.6h-5.3zM273.8 597.0l2.7 4.6h-5.3zM273.9 598.9l2.7 4.6h-5.3zM278.1 602.3l2.7 4.6h-5.3zM278.1 601.3l2.7 4.6h-5.3zM278.1 604.7l2.7 4.6h-5.3zM278.4 591.4l2.7 4.6h-5.3zM279.0 602.5l2.7 4.6h-5.3zM279.1 595.4l2.7 4.6h-5.3zM282.3 590.6l2.7 4.6h-5.3zM282.4 586.2l2.7 4.6h-5.3zM282.6 596.9l2.7 4.6h-5.3zM283.4 586.5l2.7 4.6h-5.3zM283.7 594.6l2.7 4.6h-5.3zM284.0 586.8l2.7 4.6h-5.3zM284.0 593.3l2.7 4.6h-5.3zM286.6 578.9l2.7 4.6h-5.3zM286.7 572.6l2.7 4.6h-5.3zM286.8 576.7l2.7 4.6h-5.3zM287.5 582.6l2.7 4.6h-5.3zM287.7 578.6l2.7 4.6h-5.3zM288.5 582.9l2.7 4.6h-5.3zM289.2 570.5l2.7 4.6h-5.3zM289.8 570.2l2.7 4.6h-5.3zM289.9 572.3l2.7 4.6h-5.3zM289.9 575.3l2.7 4.6h-5.3zM290.0 580.9l2.7 4.6h-5.3zM291.5 573.4l2.7 4.6h-5.3zM291.6 561.8l2.7 4.6h-5.3zM292.6 564.4l2.7 4.6h-5.3zM293.8 568.8l2.7 4.6h-5.3zM294.9 561.2l2.7 4.6h-5.3zM295.0 562.0l2.7 4.6h-5.3zM296.5 561.6l2.7 4.6h-5.3zM296.6 560.7l2.7 4.6h-5.3zM296.8 566.1l2.7 4.6h-5.3zM297.3 559.7l2.7 4.6h-5.3zM297.5 556.0l2.7 4.6h-5.3zM298.8 558.4l2.7 4.6h-5.3zM299.7 555.8l2.7 4.6h-5.3zM300.5 558.8l2.7 4.6h-5.3zM300.6 561.4l2.7 4.6h-5.3zM301.3 564.7l2.7 4.6h-5.3zM301.9 562.4l2.7 4.6h-5.3zM301.9 551.6l2.7 4.6h-5.3zM302.1 555.4l2.7 4.6h-5.3zM302.8 554.4l2.7 4.6h-5.3zM304.0 552.7l2.7 4.6h-5.3zM305.2 562.1l2.7 4.6h-5.3zM305.9 561.1l2.7 4.6h-5.3zM307.0 548.4l2.7 4.6h-5.3zM307.4 563.7l2.7 4.6h-5.3zM308.0 547.8l2.7 4.6h-5.3zM308.0 555.9l2.7 4.6h-5.3zM308.8 556.9l2.7 4.6h-5.3zM308.9 546.9l2.7 4.6h-5.3zM309.4 548.4l2.7 4.6h-5.3zM310.6 542.0l2.7 4.6h-5.3zM310.7 558.5l2.7 4.6h-5.3zM311.4 560.1l2.7 4.6h-5.3zM312.4 546.7l2.7 4.6h-5.3zM312.9 545.7l2.7 4.6h-5.3zM313.3 555.8l2.7 4.6h-5.3zM313.6 538.8l2.7 4.6h-5.3zM314.7 549.1l2.7 4.6h-5.3zM314.9 541.0l2.7 4.6h-5.3zM315.1 547.8l2.7 4.6h-5.3zM315.3 546.7l2.7 4.6h-5.3zM315.6 544.1l2.7 4.6h-5.3zM315.9 545.5l2.7 4.6h-5.3zM316.0 556.4l2.7 4.6h-5.3zM316.0 541.5l2.7 4.6h-5.3zM316.2 551.9l2.7 4.6h-5.3zM316.2 548.7l2.7 4.6h-5.3zM317.0 539.2l2.7 4.6h-5.3zM318.6 557.0l2.7 4.6h-5.3zM318.8 551.6l2.7 4.6h-5.3zM319.2 540.5l2.7 4.6h-5.3zM319.4 538.1l2.7 4.6h-5.3zM319.5 537.3l2.7 4.6h-5.3zM320.5 537.1l2.7 4.6h-5.3zM320.6 551.6l2.7 4.6h-5.3zM320.7 554.6l2.7 4.6h-5.3zM320.7 553.3l2.7 4.6h-5.3zM321.6 548.7l2.7 4.6h-5.3zM321.6 543.1l2.7 4.6h-5.3zM321.9 542.3l2.7 4.6h-5.3zM322.2 551.4l2.7 4.6h-5.3zM322.6 539.8l2.7 4.6h-5.3zM323.0 534.0l2.7 4.6h-5.3zM323.4 542.7l2.7 4.6h-5.3zM324.1 549.1l2.7 4.6h-5.3zM324.5 541.6l2.7 4.6h-5.3zM324.9 538.6l2.7 4.6h-5.3zM324.9 547.9l2.7 4.6h-5.3zM325.0 544.1l2.7 4.6h-5.3zM325.1 552.8l2.7 4.6h-5.3zM325.7 541.8l2.7 4.6h-5.3zM325.9 547.7l2.7 4.6h-5.3zM326.1 534.5l2.7 4.6h-5.3zM326.8 537.1l2.7 4.6h-5.3zM326.9 538.6l2.7 4.6h-5.3zM327.8 533.6l2.7 4.6h-5.3zM328.2 539.2l2.7 4.6h-5.3zM328.4 534.5l2.7 4.6h-5.3zM329.4 532.0l2.7 4.6h-5.3zM329.6 540.9l2.7 4.6h-5.3zM330.4 538.3l2.7 4.6h-5.3zM330.5 526.9l2.7 4.6h-5.3zM330.7 547.8l2.7 4.6h-5.3zM331.0 539.8l2.7 4.6h-5.3zM332.0 531.3l2.7 4.6h-5.3zM332.1 540.9l2.7 4.6h-5.3zM332.2 531.6l2.7 4.6h-5.3zM332.3 530.6l2.7 4.6h-5.3zM332.5 546.3l2.7 4.6h-5.3zM333.1 548.6l2.7 4.6h-5.3zM334.3 547.5l2.7 4.6h-5.3zM334.5 529.4l2.7 4.6h-5.3zM335.4 526.4l2.7 4.6h-5.3zM335.4 531.8l2.7 4.6h-5.3zM335.5 544.4l2.7 4.6h-5.3zM336.8 542.3l2.7 4.6h-5.3zM337.0 538.8l2.7 4.6h-5.3zM337.2 527.4l2.7 4.6h-5.3zM337.4 533.5l2.7 4.6h-5.3zM337.5 537.2l2.7 4.6h-5.3zM337.7 526.3l2.7 4.6h-5.3zM337.7 541.4l2.7 4.6h-5.3zM337.9 521.6l2.7 4.6h-5.3zM338.6 533.7l2.7 4.6h-5.3zM338.9 521.5l2.7 4.6h-5.3zM339.5 539.1l2.7 4.6h-5.3zM340.0 525.4l2.7 4.6h-5.3zM340.3 522.8l2.7 4.6h-5.3zM340.9 533.7l2.7 4.6h-5.3zM341.2 542.4l2.7 4.6h-5.3zM341.8 517.2l2.7 4.6h-5.3zM342.1 526.5l2.7 4.6h-5.3zM342.1 529.9l2.7 4.6h-5.3zM342.6 526.4l2.7 4.6h-5.3zM343.1 518.1l2.7 4.6h-5.3zM343.4 536.2l2.7 4.6h-5.3zM343.8 520.2l2.7 4.6h-5.3zM344.0 519.5l2.7 4.6h-5.3zM344.2 534.5l2.7 4.6h-5.3zM344.5 531.6l2.7 4.6h-5.3zM344.7 528.0l2.7 4.6h-5.3zM345.6 527.7l2.7 4.6h-5.3zM346.0 524.7l2.7 4.6h-5.3zM347.0 524.2l2.7 4.6h-5.3zM347.1 531.5l2.7 4.6h-5.3zM347.1 534.1l2.7 4.6h-5.3zM347.3 516.3l2.7 4.6h-5.3zM347.4 519.4l2.7 4.6h-5.3zM347.6 530.0l2.7 4.6h-5.3zM347.7 534.4l2.7 4.6h-5.3zM348.5 515.0l2.7 4.6h-5.3zM349.8 523.5l2.7 4.6h-5.3zM350.3 509.9l2.7 4.6h-5.3zM350.8 510.9l2.7 4.6h-5.3zM351.7 536.0l2.7 4.6h-5.3zM352.0 528.3l2.7 4.6h-5.3zM352.1 529.6l2.7 4.6h-5.3zM352.4 514.4l2.7 4.6h-5.3zM352.6 527.8l2.7 4.6h-5.3zM352.7 505.6l2.7 4.6h-5.3zM353.2 533.6l2.7 4.6h-5.3zM353.2 525.9l2.7 4.6h-5.3zM353.8 519.3l2.7 4.6h-5.3zM353.9 532.7l2.7 4.6h-5.3zM354.5 522.4l2.7 4.6h-5.3zM355.3 520.2l2.7 4.6h-5.3zM355.4 530.5l2.7 4.6h-5.3zM355.5 516.3l2.7 4.6h-5.3zM355.5 525.1l2.7 4.6h-5.3zM355.6 516.2l2.7 4.6h-5.3zM355.7 528.6l2.7 4.6h-5.3zM355.8 522.0l2.7 4.6h-5.3zM355.9 529.2l2.7 4.6h-5.3zM355.9 522.3l2.7 4.6h-5.3zM356.8 509.9l2.7 4.6h-5.3zM357.0 526.7l2.7 4.6h-5.3zM357.2 531.4l2.7 4.6h-5.3zM358.2 515.1l2.7 4.6h-5.3zM358.2 516.4l2.7 4.6h-5.3zM358.8 530.1l2.7 4.6h-5.3zM358.9 507.7l2.7 4.6h-5.3zM360.3 503.0l2.7 4.6h-5.3zM360.8 502.5l2.7 4.6h-5.3zM361.0 517.0l2.7 4.6h-5.3zM361.1 506.2l2.7 4.6h-5.3zM361.3 501.5l2.7 4.6h-5.3zM361.5 516.7l2.7 4.6h-5.3zM362.0 524.5l2.7 4.6h-5.3zM362.0 513.9l2.7 4.6h-5.3zM362.6 508.7l2.7 4.6h-5.3zM362.9 517.0l2.7 4.6h-5.3zM363.1 508.8l2.7 4.6h-5.3zM363.3 502.7l2.7 4.6h-5.3zM364.0 506.1l2.7 4.6h-5.3zM364.1 499.8l2.7 4.6h-5.3zM364.6 500.1l2.7 4.6h-5.3zM365.5 502.4l2.7 4.6h-5.3zM366.1 493.8l2.7 4.6h-5.3zM366.4 509.7l2.7 4.6h-5.3zM366.5 515.2l2.7 4.6h-5.3zM366.7 507.4l2.7 4.6h-5.3zM366.7 509.7l2.7 4.6h-5.3zM366.9 520.4l2.7 4.6h-5.3zM367.0 508.7l2.7 4.6h-5.3zM367.6 506.0l2.7 4.6h-5.3zM367.8 517.0l2.7 4.6h-5.3zM368.2 502.6l2.7 4.6h-5.3zM368.7 501.4l2.7 4.6h-5.3zM368.7 504.0l2.7 4.6h-5.3zM368.7 493.9l2.7 4.6h-5.3zM368.9 504.7l2.7 4.6h-5.3zM369.1 498.7l2.7 4.6h-5.3zM369.2 517.7l2.7 4.6h-5.3zM369.5 518.6l2.7 4.6h-5.3zM369.8 496.6l2.7 4.6h-5.3zM369.8 513.8l2.7 4.6h-5.3zM370.3 508.3l2.7 4.6h-5.3zM370.7 498.5l2.7 4.6h-5.3zM370.7 508.5l2.7 4.6h-5.3zM371.9 501.2l2.7 4.6h-5.3zM372.0 496.4l2.7 4.6h-5.3zM372.6 501.5l2.7 4.6h-5.3zM373.2 515.5l2.7 4.6h-5.3zM373.4 521.8l2.7 4.6h-5.3zM373.7 498.7l2.7 4.6h-5.3zM373.8 499.7l2.7 4.6h-5.3zM374.2 491.9l2.7 4.6h-5.3zM374.4 512.1l2.7 4.6h-5.3zM374.5 514.0l2.7 4.6h-5.3zM374.6 496.3l2.7 4.6h-5.3zM374.8 502.9l2.7 4.6h-5.3zM374.9 502.6l2.7 4.6h-5.3zM375.0 517.0l2.7 4.6h-5.3zM375.8 520.6l2.7 4.6h-5.3zM375.9 497.0l2.7 4.6h-5.3zM375.9 512.9l2.7 4.6h-5.3zM376.3 512.7l2.7 4.6h-5.3zM376.4 501.4l2.7 4.6h-5.3zM376.9 513.6l2.7 4.6h-5.3zM377.0 514.1l2.7 4.6h-5.3zM377.0 496.0l2.7 4.6h-5.3zM377.3 492.4l2.7 4.6h-5.3zM378.4 509.2l2.7 4.6h-5.3zM379.2 495.7l2.7 4.6h-5.3zM379.2 495.1l2.7 4.6h-5.3zM380.0 514.1l2.7 4.6h-5.3zM380.1 501.9l2.7 4.6h-5.3zM380.2 502.7l2.7 4.6h-5.3zM381.2 481.3l2.7 4.6h-5.3zM381.3 498.3l2.7 4.6h-5.3zM381.3 509.3l2.7 4.6h-5.3zM381.9 487.6l2.7 4.6h-5.3zM382.2 480.4l2.7 4.6h-5.3zM382.4 504.3l2.7 4.6h-5.3zM382.5 505.0l2.7 4.6h-5.3zM382.5 486.5l2.7 4.6h-5.3zM382.8 495.3l2.7 4.6h-5.3zM383.4 501.0l2.7 4.6h-5.3zM383.7 505.0l2.7 4.6h-5.3zM384.0 494.6l2.7 4.6h-5.3zM384.3 488.8l2.7 4.6h-5.3zM384.4 505.7l2.7 4.6h-5.3zM384.6 510.3l2.7 4.6h-5.3zM384.6 499.0l2.7 4.6h-5.3zM384.6 511.3l2.7 4.6h-5.3zM385.1 507.2l2.7 4.6h-5.3zM385.2 488.2l2.7 4.6h-5.3zM385.3 493.9l2.7 4.6h-5.3zM385.3 504.5l2.7 4.6h-5.3zM385.3 493.1l2.7 4.6h-5.3zM385.4 488.6l2.7 4.6h-5.3zM386.1 495.5l2.7 4.6h-5.3zM386.1 505.1l2.7 4.6h-5.3zM386.2 490.5l2.7 4.6h-5.3zM386.6 484.9l2.7 4.6h-5.3zM386.7 500.9l2.7 4.6h-5.3zM387.2 509.1l2.7 4.6h-5.3zM387.6 485.3l2.7 4.6h-5.3zM387.7 481.6l2.7 4.6h-5.3zM388.4 484.4l2.7 4.6h-5.3zM388.8 497.0l2.7 4.6h-5.3zM388.9 495.9l2.7 4.6h-5.3zM388.9 494.2l2.7 4.6h-5.3zM389.1 488.5l2.7 4.6h-5.3zM389.3 481.4l2.7 4.6h-5.3zM389.5 503.6l2.7 4.6h-5.3zM389.6 503.4l2.7 4.6h-5.3zM389.6 508.7l2.7 4.6h-5.3zM389.7 488.8l2.7 4.6h-5.3zM390.6 487.0l2.7 4.6h-5.3zM391.1 511.7l2.7 4.6h-5.3zM391.2 497.0l2.7 4.6h-5.3zM392.1 493.5l2.7 4.6h-5.3zM392.4 499.0l2.7 4.6h-5.3zM392.4 499.3l2.7 4.6h-5.3zM393.3 504.5l2.7 4.6h-5.3zM393.3 505.6l2.7 4.6h-5.3zM393.4 475.7l2.7 4.6h-5.3zM393.8 478.7l2.7 4.6h-5.3zM394.1 511.8l2.7 4.6h-5.3zM394.1 481.1l2.7 4.6h-5.3zM394.1 494.9l2.7 4.6h-5.3zM394.6 498.5l2.7 4.6h-5.3zM394.6 480.4l2.7 4.6h-5.3zM395.4 500.7l2.7 4.6h-5.3zM395.8 508.3l2.7 4.6h-5.3zM396.0 498.1l2.7 4.6h-5.3zM396.6 482.8l2.7 4.6h-5.3zM397.0 497.8l2.7 4.6h-5.3zM397.0 501.6l2.7 4.6h-5.3zM397.2 476.8l2.7 4.6h-5.3zM397.3 495.9l2.7 4.6h-5.3zM397.4 495.1l2.7 4.6h-5.3zM397.5 493.9l2.7 4.6h-5.3zM397.6 507.0l2.7 4.6h-5.3zM397.7 499.2l2.7 4.6h-5.3zM398.0 487.6l2.7 4.6h-5.3zM398.6 501.6l2.7 4.6h-5.3zM399.0 478.2l2.7 4.6h-5.3zM399.1 473.0l2.7 4.6h-5.3zM399.3 499.0l2.7 4.6h-5.3zM399.3 482.0l2.7 4.6h-5.3zM399.4 481.8l2.7 4.6h-5.3zM399.4 471.1l2.7 4.6h-5.3zM399.5 489.3l2.7 4.6h-5.3zM399.7 471.4l2.7 4.6h-5.3zM400.0 487.8l2.7 4.6h-5.3zM400.6 482.9l2.7 4.6h-5.3zM401.0 497.8l2.7 4.6h-5.3zM401.5 478.7l2.7 4.6h-5.3zM401.9 488.5l2.7 4.6h-5.3zM402.4 493.1l2.7 4.6h-5.3zM403.7 493.9l2.7 4.6h-5.3zM403.9 491.1l2.7 4.6h-5.3zM404.2 488.8l2.7 4.6h-5.3zM404.3 477.8l2.7 4.6h-5.3zM404.5 492.2l2.7 4.6h-5.3zM404.7 479.6l2.7 4.6h-5.3zM405.0 476.4l2.7 4.6h-5.3zM405.1 490.6l2.7 4.6h-5.3zM405.1 470.1l2.7 4.6h-5.3zM405.4 483.9l2.7 4.6h-5.3zM405.6 477.5l2.7 4.6h-5.3zM405.7 469.8l2.7 4.6h-5.3zM405.9 495.3l2.7 4.6h-5.3zM406.0 481.7l2.7 4.6h-5.3zM406.6 495.0l2.7 4.6h-5.3zM406.9 473.6l2.7 4.6h-5.3zM407.1 496.1l2.7 4.6h-5.3zM407.5 463.3l2.7 4.6h-5.3zM408.1 494.2l2.7 4.6h-5.3zM408.2 492.4l2.7 4.6h-5.3zM408.4 481.5l2.7 4.6h-5.3zM408.8 496.8l2.7 4.6h-5.3zM408.9 495.2l2.7 4.6h-5.3zM409.1 495.1l2.7 4.6h-5.3zM409.5 493.8l2.7 4.6h-5.3zM409.9 477.0l2.7 4.6h-5.3zM409.9 482.2l2.7 4.6h-5.3zM410.0 472.6l2.7 4.6h-5.3zM410.1 487.8l2.7 4.6h-5.3zM411.0 468.4l2.7 4.6h-5.3zM411.2 480.3l2.7 4.6h-5.3zM411.4 490.1l2.7 4.6h-5.3zM411.5 487.9l2.7 4.6h-5.3zM411.9 492.0l2.7 4.6h-5.3zM412.0 494.0l2.7 4.6h-5.3zM412.3 477.8l2.7 4.6h-5.3zM413.2 461.0l2.7 4.6h-5.3zM413.6 490.2l2.7 4.6h-5.3zM413.7 474.9l2.7 4.6h-5.3zM414.6 470.6l2.7 4.6h-5.3zM414.7 480.4l2.7 4.6h-5.3zM414.9 488.8l2.7 4.6h-5.3zM415.4 465.0l2.7 4.6h-5.3zM415.8 472.6l2.7 4.6h-5.3zM416.6 485.9l2.7 4.6h-5.3zM416.6 481.2l2.7 4.6h-5.3zM416.7 462.8l2.7 4.6h-5.3zM416.8 464.6l2.7 4.6h-5.3zM416.9 492.1l2.7 4.6h-5.3zM417.0 492.6l2.7 4.6h-5.3zM417.0 495.7l2.7 4.6h-5.3zM417.8 480.1l2.7 4.6h-5.3zM417.9 469.6l2.7 4.6h-5.3zM418.0 486.0l2.7 4.6h-5.3zM418.3 471.4l2.7 4.6h-5.3zM418.7 463.0l2.7 4.6h-5.3zM418.8 477.5l2.7 4.6h-5.3zM419.4 463.8l2.7 4.6h-5.3zM419.5 491.0l2.7 4.6h-5.3zM419.8 489.8l2.7 4.6h-5.3zM420.1 466.8l2.7 4.6h-5.3zM420.5 457.7l2.7 4.6h-5.3zM421.2 475.3l2.7 4.6h-5.3zM421.4 485.4l2.7 4.6h-5.3zM421.5 481.0l2.7 4.6h-5.3zM421.6 463.3l2.7 4.6h-5.3zM421.9 480.0l2.7 4.6h-5.3zM422.1 476.9l2.7 4.6h-5.3zM422.3 491.1l2.7 4.6h-5.3zM422.9 480.9l2.7 4.6h-5.3zM423.0 480.7l2.7 4.6h-5.3zM423.1 482.9l2.7 4.6h-5.3zM423.4 462.8l2.7 4.6h-5.3zM424.0 460.6l2.7 4.6h-5.3zM424.1 460.6l2.7 4.6h-5.3zM424.5 478.9l2.7 4.6h-5.3zM424.6 493.4l2.7 4.6h-5.3zM424.7 457.0l2.7 4.6h-5.3zM425.0 475.4l2.7 4.6h-5.3zM425.0 461.8l2.7 4.6h-5.3zM425.5 477.1l2.7 4.6h-5.3zM425.8 455.7l2.7 4.6h-5.3zM425.9 488.7l2.7 4.6h-5.3zM425.9 456.0l2.7 4.6h-5.3zM425.9 490.8l2.7 4.6h-5.3zM426.2 484.4l2.7 4.6h-5.3zM427.1 473.0l2.7 4.6h-5.3zM428.0 460.9l2.7 4.6h-5.3zM428.2 474.1l2.7 4.6h-5.3zM428.2 471.4l2.7 4.6h-5.3zM428.3 460.1l2.7 4.6h-5.3zM428.3 461.8l2.7 4.6h-5.3zM428.4 471.5l2.7 4.6h-5.3zM428.5 471.3l2.7 4.6h-5.3zM429.0 470.5l2.7 4.6h-5.3zM429.2 475.2l2.7 4.6h-5.3zM430.3 487.2l2.7 4.6h-5.3zM430.5 474.6l2.7 4.6h-5.3zM430.6 478.0l2.7 4.6h-5.3zM430.7 456.8l2.7 4.6h-5.3zM430.9 471.9l2.7 4.6h-5.3zM431.0 489.3l2.7 4.6h-5.3zM431.4 455.1l2.7 4.6h-5.3zM431.5 477.9l2.7 4.6h-5.3zM431.5 473.7l2.7 4.6h-5.3zM431.5 454.3l2.7 4.6h-5.3zM431.6 479.1l2.7 4.6h-5.3zM431.7 472.1l2.7 4.6h-5.3zM432.6 450.5l2.7 4.6h-5.3zM433.1 472.4l2.7 4.6h-5.3zM433.2 467.0l2.7 4.6h-5.3zM433.2 481.2l2.7 4.6h-5.3zM433.3 472.5l2.7 4.6h-5.3zM433.9 467.3l2.7 4.6h-5.3zM434.0 459.9l2.7 4.6h-5.3zM434.2 465.9l2.7 4.6h-5.3zM434.3 483.2l2.7 4.6h-5.3zM434.5 477.5l2.7 4.6h-5.3zM435.0 457.3l2.7 4.6h-5.3zM435.8 466.7l2.7 4.6h-5.3zM436.7 458.5l2.7 4.6h-5.3zM437.8 472.8l2.7 4.6h-5.3zM437.9 484.5l2.7 4.6h-5.3zM438.8 448.4l2.7 4.6h-5.3zM438.9 477.0l2.7 4.6h-5.3zM438.9 472.0l2.7 4.6h-5.3zM438.9 466.3l2.7 4.6h-5.3zM439.1 465.6l2.7 4.6h-5.3zM439.2 451.9l2.7 4.6h-5.3zM439.2 448.0l2.7 4.6h-5.3zM439.5 452.2l2.7 4.6h-5.3zM439.6 466.2l2.7 4.6h-5.3zM439.8 478.4l2.7 4.6h-5.3zM439.8 445.8l2.7 4.6h-5.3zM439.8 483.6l2.7 4.6h-5.3zM440.0 451.2l2.7 4.6h-5.3zM440.1 453.7l2.7 4.6h-5.3zM440.1 456.4l2.7 4.6h-5.3zM440.3 477.1l2.7 4.6h-5.3zM441.0 455.6l2.7 4.6h-5.3zM441.2 469.1l2.7 4.6h-5.3zM441.3 462.0l2.7 4.6h-5.3zM441.5 460.4l2.7 4.6h-5.3zM441.7 472.5l2.7 4.6h-5.3zM441.9 470.8l2.7 4.6h-5.3zM442.0 458.2l2.7 4.6h-5.3zM442.0 461.3l2.7 4.6h-5.3zM442.2 465.1l2.7 4.6h-5.3zM442.2 476.5l2.7 4.6h-5.3zM443.3 443.3l2.7 4.6h-5.3zM443.4 467.5l2.7 4.6h-5.3zM443.4 443.3l2.7 4.6h-5.3zM443.7 453.0l2.7 4.6h-5.3zM444.3 455.9l2.7 4.6h-5.3zM444.4 467.6l2.7 4.6h-5.3zM444.5 464.2l2.7 4.6h-5.3zM444.7 460.5l2.7 4.6h-5.3zM445.4 467.8l2.7 4.6h-5.3zM447.7 453.2l2.7 4.6h-5.3zM447.8 454.6l2.7 4.6h-5.3zM448.4 450.4l2.7 4.6h-5.3zM448.5 458.8l2.7 4.6h-5.3zM448.8 444.2l2.7 4.6h-5.3zM448.8 459.6l2.7 4.6h-5.3zM448.9 458.4l2.7 4.6h-5.3zM449.2 441.7l2.7 4.6h-5.3zM449.8 459.0l2.7 4.6h-5.3zM450.0 447.4l2.7 4.6h-5.3zM450.3 463.5l2.7 4.6h-5.3zM450.3 441.5l2.7 4.6h-5.3zM450.5 440.0l2.7 4.6h-5.3zM450.8 469.5l2.7 4.6h-5.3zM451.6 477.7l2.7 4.6h-5.3zM451.7 463.8l2.7 4.6h-5.3zM452.0 440.5l2.7 4.6h-5.3zM452.1 456.7l2.7 4.6h-5.3zM452.4 437.2l2.7 4.6h-5.3zM452.5 459.1l2.7 4.6h-5.3zM452.8 457.9l2.7 4.6h-5.3zM453.0 462.0l2.7 4.6h-5.3zM453.3 472.1l2.7 4.6h-5.3zM453.4 464.1l2.7 4.6h-5.3zM453.6 468.7l2.7 4.6h-5.3zM453.8 464.4l2.7 4.6h-5.3zM453.9 476.6l2.7 4.6h-5.3zM454.0 461.9l2.7 4.6h-5.3zM454.0 450.3l2.7 4.6h-5.3zM454.7 461.7l2.7 4.6h-5.3zM454.9 446.2l2.7 4.6h-5.3zM454.9 459.5l2.7 4.6h-5.3zM455.2 461.6l2.7 4.6h-5.3zM455.5 463.2l2.7 4.6h-5.3zM455.5 471.5l2.7 4.6h-5.3zM455.6 449.5l2.7 4.6h-5.3zM456.1 466.0l2.7 4.6h-5.3zM456.4 471.1l2.7 4.6h-5.3zM456.4 458.4l2.7 4.6h-5.3zM457.2 457.8l2.7 4.6h-5.3zM457.6 451.7l2.7 4.6h-5.3zM457.9 471.0l2.7 4.6h-5.3zM458.0 437.8l2.7 4.6h-5.3zM458.1 452.8l2.7 4.6h-5.3zM458.5 473.2l2.7 4.6h-5.3zM458.7 440.3l2.7 4.6h-5.3zM459.1 442.8l2.7 4.6h-5.3zM459.2 444.6l2.7 4.6h-5.3zM459.6 467.0l2.7 4.6h-5.3zM459.7 442.7l2.7 4.6h-5.3zM459.7 448.6l2.7 4.6h-5.3zM460.2 465.3l2.7 4.6h-5.3zM460.4 464.2l2.7 4.6h-5.3zM460.6 474.8l2.7 4.6h-5.3zM460.7 453.9l2.7 4.6h-5.3zM461.0 430.9l2.7 4.6h-5.3zM461.7 429.3l2.7 4.6h-5.3zM461.8 469.8l2.7 4.6h-5.3zM462.2 469.5l2.7 4.6h-5.3zM462.4 440.0l2.7 4.6h-5.3zM462.6 452.9l2.7 4.6h-5.3zM462.7 450.7l2.7 4.6h-5.3zM462.9 435.7l2.7 4.6h-5.3zM463.4 439.4l2.7 4.6h-5.3zM463.5 453.5l2.7 4.6h-5.3zM463.6 441.1l2.7 4.6h-5.3zM463.6 454.9l2.7 4.6h-5.3zM463.9 443.5l2.7 4.6h-5.3zM464.6 444.2l2.7 4.6h-5.3zM465.2 444.7l2.7 4.6h-5.3zM465.5 467.4l2.7 4.6h-5.3zM466.0 450.9l2.7 4.6h-5.3zM466.2 444.9l2.7 4.6h-5.3zM466.6 446.3l2.7 4.6h-5.3zM466.7 425.6l2.7 4.6h-5.3zM467.1 459.4l2.7 4.6h-5.3zM467.9 466.3l2.7 4.6h-5.3zM468.0 462.7l2.7 4.6h-5.3zM468.3 466.0l2.7 4.6h-5.3zM468.4 442.9l2.7 4.6h-5.3zM468.4 465.1l2.7 4.6h-5.3zM468.5 440.9l2.7 4.6h-5.3zM468.9 449.5l2.7 4.6h-5.3zM469.0 460.1l2.7 4.6h-5.3zM469.0 460.8l2.7 4.6h-5.3zM469.6 471.1l2.7 4.6h-5.3zM469.6 455.4l2.7 4.6h-5.3zM469.9 462.3l2.7 4.6h-5.3zM470.0 460.8l2.7 4.6h-5.3zM470.3 432.8l2.7 4.6h-5.3zM471.4 464.8l2.7 4.6h-5.3zM471.8 439.5l2.7 4.6h-5.3zM471.9 442.8l2.7 4.6h-5.3zM472.1 447.1l2.7 4.6h-5.3zM472.3 445.4l2.7 4.6h-5.3zM472.5 449.7l2.7 4.6h-5.3zM472.9 457.8l2.7 4.6h-5.3zM473.1 444.7l2.7 4.6h-5.3zM473.3 421.6l2.7 4.6h-5.3zM474.0 464.1l2.7 4.6h-5.3zM474.7 437.9l2.7 4.6h-5.3zM474.9 433.5l2.7 4.6h-5.3zM475.0 443.3l2.7 4.6h-5.3zM475.1 463.2l2.7 4.6h-5.3zM475.2 431.1l2.7 4.6h-5.3zM475.3 463.0l2.7 4.6h-5.3zM475.6 433.0l2.7 4.6h-5.3zM475.6 418.5l2.7 4.6h-5.3zM475.9 442.7l2.7 4.6h-5.3zM476.0 464.4l2.7 4.6h-5.3zM476.1 452.5l2.7 4.6h-5.3zM476.1 441.6l2.7 4.6h-5.3zM476.3 436.7l2.7 4.6h-5.3zM476.7 446.9l2.7 4.6h-5.3zM477.0 440.4l2.7 4.6h-5.3zM477.1 429.9l2.7 4.6h-5.3zM477.2 447.5l2.7 4.6h-5.3zM477.4 440.2l2.7 4.6h-5.3zM477.4 457.7l2.7 4.6h-5.3zM477.4 447.5l2.7 4.6h-5.3zM477.6 441.4l2.7 4.6h-5.3zM477.8 438.2l2.7 4.6h-5.3zM477.9 441.6l2.7 4.6h-5.3zM478.6 428.8l2.7 4.6h-5.3zM478.7 423.8l2.7 4.6h-5.3zM478.7 443.5l2.7 4.6h-5.3zM479.1 455.1l2.7 4.6h-5.3zM479.3 440.3l2.7 4.6h-5.3zM479.4 443.4l2.7 4.6h-5.3zM479.6 436.0l2.7 4.6h-5.3zM479.6 450.8l2.7 4.6h-5.3zM479.8 446.4l2.7 4.6h-5.3zM479.8 438.9l2.7 4.6h-5.3zM480.0 450.8l2.7 4.6h-5.3zM480.1 430.2l2.7 4.6h-5.3zM480.2 434.7l2.7 4.6h-5.3zM480.3 460.0l2.7 4.6h-5.3zM480.4 464.5l2.7 4.6h-5.3zM480.7 465.6l2.7 4.6h-5.3zM480.7 425.8l2.7 4.6h-5.3zM480.9 433.2l2.7 4.6h-5.3zM481.2 415.6l2.7 4.6h-5.3zM481.2 419.9l2.7 4.6h-5.3zM481.8 428.6l2.7 4.6h-5.3zM482.8 430.3l2.7 4.6h-5.3zM482.8 464.3l2.7 4.6h-5.3zM482.9 437.8l2.7 4.6h-5.3zM483.3 464.9l2.7 4.6h-5.3zM483.6 444.5l2.7 4.6h-5.3zM483.7 465.2l2.7 4.6h-5.3zM483.8 448.9l2.7 4.6h-5.3zM484.0 422.5l2.7 4.6h-5.3zM484.0 427.2l2.7 4.6h-5.3zM484.2 439.4l2.7 4.6h-5.3zM484.3 421.3l2.7 4.6h-5.3zM484.7 430.3l2.7 4.6h-5.3zM485.3 435.6l2.7 4.6h-5.3zM485.3 435.3l2.7 4.6h-5.3zM485.4 458.5l2.7 4.6h-5.3zM486.1 447.3l2.7 4.6h-5.3zM486.1 418.5l2.7 4.6h-5.3zM486.1 449.5l2.7 4.6h-5.3zM486.2 445.0l2.7 4.6h-5.3zM486.4 463.2l2.7 4.6h-5.3zM486.8 447.8l2.7 4.6h-5.3zM487.6 426.4l2.7 4.6h-5.3zM488.0 446.3l2.7 4.6h-5.3zM488.2 419.3l2.7 4.6h-5.3zM488.3 438.7l2.7 4.6h-5.3zM488.4 426.2l2.7 4.6h-5.3zM488.7 423.8l2.7 4.6h-5.3zM489.1 412.0l2.7 4.6h-5.3zM489.1 423.4l2.7 4.6h-5.3zM489.2 427.3l2.7 4.6h-5.3zM489.4 443.1l2.7 4.6h-5.3zM490.4 417.2l2.7 4.6h-5.3zM490.8 418.0l2.7 4.6h-5.3zM490.8 450.5l2.7 4.6h-5.3zM491.0 420.1l2.7 4.6h-5.3zM491.0 458.9l2.7 4.6h-5.3zM491.1 444.5l2.7 4.6h-5.3zM491.2 445.5l2.7 4.6h-5.3zM491.4 424.4l2.7 4.6h-5.3zM492.0 419.9l2.7 4.6h-5.3zM492.1 427.1l2.7 4.6h-5.3zM492.4 419.1l2.7 4.6h-5.3zM492.5 419.8l2.7 4.6h-5.3zM492.7 440.3l2.7 4.6h-5.3zM492.7 419.6l2.7 4.6h-5.3zM493.4 426.6l2.7 4.6h-5.3zM494.3 441.7l2.7 4.6h-5.3zM494.4 429.8l2.7 4.6h-5.3zM494.6 446.4l2.7 4.6h-5.3zM494.8 415.6l2.7 4.6h-5.3zM494.9 437.2l2.7 4.6h-5.3zM495.3 430.2l2.7 4.6h-5.3zM495.7 446.3l2.7 4.6h-5.3zM496.1 423.3l2.7 4.6h-5.3zM496.2 422.4l2.7 4.6h-5.3zM496.2 409.9l2.7 4.6h-5.3zM496.5 453.6l2.7 4.6h-5.3zM496.6 443.0l2.7 4.6h-5.3zM496.6 427.5l2.7 4.6h-5.3zM496.7 423.3l2.7 4.6h-5.3zM496.7 419.5l2.7 4.6h-5.3zM496.7 445.3l2.7 4.6h-5.3zM496.9 454.7l2.7 4.6h-5.3zM497.1 453.5l2.7 4.6h-5.3zM497.1 424.7l2.7 4.6h-5.3zM497.5 454.2l2.7 4.6h-5.3zM497.9 434.6l2.7 4.6h-5.3zM498.0 452.6l2.7 4.6h-5.3zM498.5 439.1l2.7 4.6h-5.3zM498.7 408.6l2.7 4.6h-5.3zM498.9 419.8l2.7 4.6h-5.3zM499.4 407.5l2.7 4.6h-5.3zM499.4 409.3l2.7 4.6h-5.3zM499.5 446.6l2.7 4.6h-5.3zM499.5 447.7l2.7 4.6h-5.3zM499.7 438.7l2.7 4.6h-5.3zM499.7 447.8l2.7 4.6h-5.3zM499.9 406.2l2.7 4.6h-5.3zM500.5 406.9l2.7 4.6h-5.3zM500.6 420.1l2.7 4.6h-5.3zM501.0 423.6l2.7 4.6h-5.3zM501.0 412.2l2.7 4.6h-5.3zM501.3 411.7l2.7 4.6h-5.3zM501.4 445.0l2.7 4.6h-5.3zM502.1 420.7l2.7 4.6h-5.3zM502.2 449.8l2.7 4.6h-5.3zM502.3 419.8l2.7 4.6h-5.3zM502.4 430.8l2.7 4.6h-5.3zM502.6 426.2l2.7 4.6h-5.3zM502.7 436.7l2.7 4.6h-5.3zM502.8 421.9l2.7 4.6h-5.3zM502.9 407.8l2.7 4.6h-5.3zM503.0 416.6l2.7 4.6h-5.3zM503.6 426.4l2.7 4.6h-5.3zM504.0 418.1l2.7 4.6h-5.3zM504.3 443.7l2.7 4.6h-5.3zM504.4 430.7l2.7 4.6h-5.3zM504.4 409.7l2.7 4.6h-5.3zM504.5 401.9l2.7 4.6h-5.3zM505.0 430.0l2.7 4.6h-5.3zM505.2 436.9l2.7 4.6h-5.3zM505.2 401.7l2.7 4.6h-5.3zM505.2 443.3l2.7 4.6h-5.3zM505.2 409.3l2.7 4.6h-5.3zM505.5 408.8l2.7 4.6h-5.3zM505.5 440.8l2.7 4.6h-5.3zM505.9 409.4l2.7 4.6h-5.3zM506.6 419.8l2.7 4.6h-5.3zM506.9 423.0l2.7 4.6h-5.3zM507.0 405.2l2.7 4.6h-5.3zM507.0 423.7l2.7 4.6h-5.3zM507.1 424.7l2.7 4.6h-5.3zM507.6 416.9l2.7 4.6h-5.3zM507.9 428.3l2.7 4.6h-5.3zM508.3 435.2l2.7 4.6h-5.3zM508.6 425.1l2.7 4.6h-5.3zM508.8 398.6l2.7 4.6h-5.3zM508.8 417.2l2.7 4.6h-5.3zM509.0 422.0l2.7 4.6h-5.3zM509.2 403.5l2.7 4.6h-5.3zM510.2 433.7l2.7 4.6h-5.3zM510.5 425.9l2.7 4.6h-5.3zM510.9 399.3l2.7 4.6h-5.3zM511.0 432.2l2.7 4.6h-5.3zM511.0 447.0l2.7 4.6h-5.3zM511.0 433.1l2.7 4.6h-5.3zM511.1 427.8l2.7 4.6h-5.3zM511.9 408.3l2.7 4.6h-5.3zM512.1 416.4l2.7 4.6h-5.3zM512.4 409.6l2.7 4.6h-5.3zM512.4 432.0l2.7 4.6h-5.3zM512.4 431.6l2.7 4.6h-5.3zM512.6 411.9l2.7 4.6h-5.3zM512.9 416.2l2.7 4.6h-5.3zM512.9 410.7l2.7 4.6h-5.3zM513.4 398.8l2.7 4.6h-5.3zM513.8 445.0l2.7 4.6h-5.3zM514.1 413.4l2.7 4.6h-5.3zM515.0 437.9l2.7 4.6h-5.3zM515.4 417.3l2.7 4.6h-5.3zM515.4 404.5l2.7 4.6h-5.3zM515.4 435.8l2.7 4.6h-5.3zM515.9 422.4l2.7 4.6h-5.3zM516.1 423.7l2.7 4.6h-5.3zM516.2 392.3l2.7 4.6h-5.3zM516.2 407.0l2.7 4.6h-5.3zM516.3 420.3l2.7 4.6h-5.3zM516.3 413.0l2.7 4.6h-5.3zM516.7 444.6l2.7 4.6h-5.3zM516.8 419.7l2.7 4.6h-5.3zM517.1 406.9l2.7 4.6h-5.3zM517.1 410.9l2.7 4.6h-5.3zM517.3 411.0l2.7 4.6h-5.3zM517.3 432.5l2.7 4.6h-5.3zM517.4 412.1l2.7 4.6h-5.3zM517.5 410.5l2.7 4.6h-5.3zM518.1 419.1l2.7 4.6h-5.3zM518.2 408.8l2.7 4.6h-5.3zM518.3 412.3l2.7 4.6h-5.3zM518.3 412.4l2.7 4.6h-5.3zM518.5 405.1l2.7 4.6h-5.3zM518.6 392.0l2.7 4.6h-5.3zM518.7 400.2l2.7 4.6h-5.3zM518.7 427.6l2.7 4.6h-5.3zM518.8 423.8l2.7 4.6h-5.3zM518.9 410.2l2.7 4.6h-5.3zM519.1 413.5l2.7 4.6h-5.3zM519.2 433.6l2.7 4.6h-5.3zM519.5 418.5l2.7 4.6h-5.3zM519.6 443.3l2.7 4.6h-5.3zM519.6 401.2l2.7 4.6h-5.3zM519.7 443.5l2.7 4.6h-5.3zM519.8 398.3l2.7 4.6h-5.3zM519.8 413.4l2.7 4.6h-5.3zM520.2 437.5l2.7 4.6h-5.3zM520.2 409.5l2.7 4.6h-5.3zM520.2 431.8l2.7 4.6h-5.3zM520.5 412.1l2.7 4.6h-5.3zM520.7 399.0l2.7 4.6h-5.3zM520.7 406.8l2.7 4.6h-5.3zM520.8 395.4l2.7 4.6h-5.3zM521.1 429.5l2.7 4.6h-5.3zM521.1 401.8l2.7 4.6h-5.3zM521.2 413.9l2.7 4.6h-5.3zM521.2 425.7l2.7 4.6h-5.3zM521.5 435.5l2.7 4.6h-5.3zM521.5 425.1l2.7 4.6h-5.3zM521.8 426.6l2.7 4.6h-5.3zM522.0 394.6l2.7 4.6h-5.3zM522.3 433.4l2.7 4.6h-5.3zM522.6 416.4l2.7 4.6h-5.3zM522.9 394.8l2.7 4.6h-5.3zM522.9 385.9l2.7 4.6h-5.3zM523.4 393.1l2.7 4.6h-5.3zM523.5 426.6l2.7 4.6h-5.3zM523.6 408.9l2.7 4.6h-5.3zM523.8 404.7l2.7 4.6h-5.3zM524.1 425.2l2.7 4.6h-5.3zM524.3 392.7l2.7 4.6h-5.3zM524.4 435.4l2.7 4.6h-5.3zM524.4 429.9l2.7 4.6h-5.3zM524.8 436.4l2.7 4.6h-5.3zM524.9 414.9l2.7 4.6h-5.3zM525.6 405.5l2.7 4.6h-5.3zM525.9 424.7l2.7 4.6h-5.3zM525.9 383.4l2.7 4.6h-5.3zM526.1 398.4l2.7 4.6h-5.3zM526.5 395.9l2.7 4.6h-5.3zM526.6 442.2l2.7 4.6h-5.3zM527.5 405.5l2.7 4.6h-5.3zM527.7 420.0l2.7 4.6h-5.3zM527.9 399.4l2.7 4.6h-5.3zM528.0 399.9l2.7 4.6h-5.3zM528.1 441.9l2.7 4.6h-5.3zM528.7 429.8l2.7 4.6h-5.3zM529.2 394.3l2.7 4.6h-5.3zM529.4 427.7l2.7 4.6h-5.3zM529.9 424.7l2.7 4.6h-5.3zM529.9 420.9l2.7 4.6h-5.3zM530.1 420.5l2.7 4.6h-5.3zM530.6 383.0l2.7 4.6h-5.3zM530.9 397.7l2.7 4.6h-5.3zM531.1 410.4l2.7 4.6h-5.3zM531.5 424.7l2.7 4.6h-5.3z" fill="#5c70fa"/>
</g>
<clipPath id="c20"><rect x="670.7" y="40.5" width="418.5" height="627.8"/></clipPath>
<g clip-path="url(#c20)">
<path d="M670.0 651.6L685.0 639.6L702.0 621.6L719.0 601.2L736.0 590.2L753.0 583.2L760.0 579.4L770.0 570.4L778.4 561.4L796.8 554.0L815.1 546.8L824.3 540.0L833.5 538.0L842.7 536.0L851.9 533.6L863.4 535.4L872.6 528.9L881.8 520.8L891.0 506.1L900.0 488.8L905.0 470.4L910.0 458.0L915.0 428.0L918.0 418.0L921.0 406.0L924.0 398.6L927.0 391.0L930.0 388.0L935.0 384.4L942.8 378.1L951.3 371.2L959.9 364.8L972.4 343.5L985.0 317.8L1004.0 286.6L1024.0 266.7L1046.0 249.6L1067.0 234.0L1090.0 211.3L1090.0 247.7L1067.0 266.0L1046.0 278.4L1024.0 294.3L1004.0 311.4L985.0 337.2L972.4 356.1L959.9 373.2L951.3 378.6L942.8 385.5L935.0 394.6L930.0 403.0L927.0 409.0L924.0 424.4L921.0 436.0L918.0 448.0L915.0 458.0L910.0 476.0L905.0 486.6L900.0 503.2L891.0 521.6L881.8 536.2L872.6 546.5L863.4 550.9L851.9 544.4L842.7 545.0L833.5 547.0L824.3 549.0L815.1 555.2L796.8 561.5L778.4 569.4L770.0 583.6L760.0 592.6L753.0 598.8L736.0 605.8L719.0 613.8L702.0 632.4L685.0 647.4L670.0 656.4Z" fill="#fadcb8"/>
<path d="M671.6 656.1h0M671.6 653.2h0M672.1 653.7h0M672.2 651.6h0M672.7 654.8h0M673.0 651.9h0M673.5 656.5h0M673.5 649.9h0M676.5 644.5h0M676.6 653.3h0M677.7 648.1h0M680.2 648.2h0M682.0 645.8h0M682.5 640.1h0M683.3 650.4h0M685.9 643.3h0M686.0 643.8h0M688.5 649.0h0M688.8 642.9h0M689.6 638.3h0M690.3 632.7h0M691.1 633.0h0M691.1 644.0h0M691.2 635.3h0M691.3 629.6h0M691.7 641.0h0M692.0 631.1h0M692.3 642.0h0M693.4 636.0h0M694.3 634.5h0M694.5 635.2h0M695.2 625.4h0M696.0 625.4h0M697.7 623.5h0M697.8 631.5h0M697.8 637.9h0M697.9 629.2h0M698.5 625.8h0M699.1 627.6h0M699.1 628.2h0M700.0 623.5h0M700.1 627.0h0M700.7 631.9h0M701.5 628.6h0M701.7 620.4h0M702.4 633.4h0M702.9 625.2h0M704.3 619.9h0M705.0 625.3h0M706.2 615.7h0M707.3 615.0h0M708.2 626.2h0M709.1 614.5h0M709.8 622.0h0M710.9 615.2h0M711.4 613.2h0M711.5 625.5h0M711.5 609.0h0M712.3 610.6h0M712.7 609.3h0M712.8 616.5h0M713.0 617.5h0M713.2 621.8h0M713.2 619.4h0M713.5 614.5h0M713.6 600.7h0M713.7 614.4h0M714.1 609.4h0M715.8 619.1h0M716.0 610.3h0M716.0 616.8h0M716.1 610.2h0M716.2 612.1h0M716.4 605.4h0M716.8 611.3h0M717.0 603.3h0M717.1 619.9h0M717.3 607.5h0M718.2 614.0h0M718.3 600.5h0M718.4 602.8h0M719.0 607.7h0M719.3 614.1h0M720.0 606.7h0M720.1 606.9h0M720.2 608.8h0M720.5 610.3h0M720.6 605.3h0M721.7 613.5h0M723.0 609.3h0M723.1 601.5h0M723.3 612.0h0M724.1 604.0h0M724.3 596.7h0M724.5 604.1h0M724.9 601.6h0M725.0 606.4h0M725.9 612.5h0M726.4 599.4h0M728.3 598.3h0M728.4 603.9h0M729.1 599.8h0M729.1 595.4h0M729.4 601.9h0M729.6 597.8h0M729.8 606.5h0M730.0 605.8h0M730.1 601.1h0M730.5 592.1h0M730.9 597.4h0M731.0 594.7h0M731.2 607.0h0M731.8 591.1h0M732.0 594.6h0M732.0 610.7h0M732.3 601.8h0M732.5 604.9h0M732.8 589.7h0M733.7 596.4h0M734.3 590.2h0M734.6 593.1h0M734.7 589.6h0M735.6 606.6h0M735.9 587.9h0M736.7 587.1h0M737.1 593.6h0M738.9 603.4h0M739.0 592.0h0M740.2 597.5h0M740.3 599.1h0M740.3 584.2h0M741.0 598.8h0M741.3 603.5h0M741.4 595.2h0M741.7 603.1h0M741.7 593.6h0M742.5 591.4h0M742.6 600.5h0M742.7 604.0h0M743.3 584.1h0M743.8 588.2h0M744.2 593.1h0M744.3 603.1h0M745.3 584.0h0M746.2 584.5h0M746.6 598.3h0M746.7 586.9h0M746.8 586.7h0M747.2 604.3h0M747.3 585.0h0M747.7 587.0h0M747.8 587.0h0M748.0 590.4h0M748.2 592.2h0M748.2 600.6h0M748.2 589.9h0M748.6 609.4h0M748.6 600.6h0M748.8 608.8h0M749.1 585.0h0M749.6 588.3h0M750.4 603.7h0M750.6 603.7h0M750.8 600.4h0M751.3 601.5h0M751.3 608.2h0M751.4 582.3h0M751.4 596.2h0M751.6 594.5h0M751.7 591.7h0M751.9 594.1h0M752.2 584.5h0M752.6 582.6h0M754.2 590.3h0M754.3 583.3h0M754.5 579.9h0M755.1 585.0h0M755.1 585.8h0M755.4 587.4h0M755.4 590.5h0M755.5 586.0h0M755.9 581.9h0M756.0 578.6h0M756.9 595.0h0M757.2 586.7h0M757.5 584.7h0M757.9 575.2h0M758.1 587.9h0M759.9 589.2h0M760.4 578.5h0M761.3 588.0h0M761.4 594.3h0M761.5 588.8h0M761.6 594.2h0M761.9 588.0h0M763.1 594.0h0M763.7 579.2h0M764.3 574.1h0M765.0 592.9h0M766.0 575.5h0M766.2 583.8h0M766.3 580.5h0M766.5 579.7h0M766.6 570.2h0M766.8 571.7h0M767.2 574.6h0M767.4 575.1h0M767.5 579.9h0M767.7 584.7h0M768.1 576.6h0M768.2 578.6h0M768.4 580.8h0M768.6 572.1h0M768.6 577.9h0M769.0 584.2h0M769.1 577.0h0M769.6 580.8h0M770.4 569.9h0M770.9 578.8h0M771.7 583.4h0M771.7 579.4h0M772.2 580.9h0M772.2 579.9h0M773.4 568.8h0M774.4 580.1h0M775.1 579.9h0M775.4 575.2h0M775.9 562.6h0M776.1 571.1h0M776.3 570.3h0M776.9 567.5h0M777.2 572.4h0M778.0 569.0h0M778.5 571.4h0M779.0 569.4h0M779.2 559.7h0M780.4 561.1h0M780.6 565.8h0M781.0 562.9h0M781.8 558.5h0M782.3 559.2h0M782.7 558.1h0M782.9 559.6h0M783.4 565.2h0M786.0 564.2h0M786.9 563.3h0M787.3 558.7h0M788.8 556.9h0M788.9 563.1h0M789.6 557.8h0M790.4 563.2h0M791.2 557.3h0M791.3 560.8h0M792.9 558.9h0M793.9 556.8h0M793.9 559.3h0M796.1 559.8h0M796.8 562.7h0M796.9 557.3h0M797.5 560.4h0M797.6 558.5h0M797.8 554.8h0M798.8 562.1h0M799.5 555.9h0M800.1 560.9h0M800.2 556.0h0M800.2 556.9h0M800.9 557.4h0M801.5 553.6h0M802.5 553.8h0M803.4 558.5h0M803.6 558.6h0M804.8 554.4h0M807.1 555.5h0M808.6 552.6h0M810.3 549.4h0M810.4 557.8h0M810.7 555.3h0M810.8 552.1h0M812.2 553.2h0M812.9 555.6h0M813.6 550.9h0M813.9 548.2h0M814.5 553.9h0M815.4 549.3h0M816.3 549.2h0M816.6 549.1h0M818.0 542.8h0M819.4 545.0h0M819.7 550.5h0M819.7 542.4h0M819.8 545.5h0M822.5 539.1h0M823.1 546.4h0M823.4 543.6h0M824.7 539.4h0M825.5 539.3h0M826.1 542.4h0M826.7 546.7h0M826.9 539.2h0M827.3 545.6h0M827.4 540.8h0M827.9 542.0h0M827.9 538.1h0M828.7 542.7h0M829.7 543.3h0M829.7 545.2h0M831.4 543.0h0M832.4 546.5h0M832.6 546.6h0M832.7 549.0h0M832.7 544.8h0M834.1 548.2h0M834.4 543.4h0M834.5 537.3h0M836.2 541.6h0M836.5 547.9h0M836.6 541.0h0M837.2 532.5h0M837.5 547.9h0M837.8 536.5h0M837.9 537.2h0M839.6 547.0h0M839.9 545.6h0M842.1 549.9h0M843.2 535.9h0M843.2 538.4h0M843.5 535.2h0M843.5 538.5h0M844.2 535.9h0M844.8 543.6h0M844.9 537.1h0M845.5 535.0h0M845.8 540.7h0M847.7 536.6h0M847.9 541.5h0M848.0 534.7h0M848.3 536.4h0M848.5 546.6h0M849.2 540.2h0M849.6 546.0h0M850.4 537.2h0M850.8 532.1h0M851.0 530.8h0M851.5 538.6h0M851.9 539.8h0M852.0 543.4h0M852.4 535.5h0M852.5 542.8h0M852.8 546.6h0M853.9 532.6h0M854.0 536.4h0M854.0 531.9h0M854.4 533.6h0M854.9 531.3h0M855.1 527.7h0M855.3 527.7h0M855.9 546.2h0M856.0 533.3h0M856.2 540.7h0M856.4 537.5h0M856.9 536.7h0M857.7 548.1h0M858.2 549.1h0M860.5 548.3h0M861.3 550.0h0M861.3 541.8h0M861.6 538.0h0M862.0 555.4h0M862.1 546.7h0M862.5 549.0h0M863.4 541.1h0M864.8 545.7h0M864.8 554.6h0M864.9 531.3h0M865.1 559.4h0M865.6 531.4h0M866.1 533.0h0M866.3 557.7h0M866.5 552.1h0M866.8 548.1h0M867.5 551.0h0M867.8 531.7h0M868.0 553.0h0M868.1 528.2h0M868.1 532.5h0M868.2 530.9h0M868.2 537.3h0M868.2 538.2h0M870.0 526.0h0M870.2 534.9h0M870.5 545.3h0M870.5 544.9h0M870.8 550.7h0M871.1 520.5h0M871.8 545.5h0M872.2 537.3h0M872.5 546.6h0M872.7 546.7h0M873.1 547.0h0M873.1 556.9h0M873.4 535.6h0M873.7 545.2h0M874.0 530.7h0M874.2 531.8h0M874.2 526.6h0M875.1 538.7h0M875.1 539.0h0M875.2 524.9h0M875.2 550.8h0M875.5 528.5h0M875.7 535.2h0M875.7 542.3h0M875.8 541.9h0M876.3 518.7h0M876.5 546.0h0M877.1 538.1h0M877.4 532.2h0M877.8 534.7h0M877.9 543.5h0M878.5 514.7h0M878.7 522.5h0M878.8 538.4h0M879.1 526.9h0M879.1 539.9h0M879.7 513.9h0M879.8 524.8h0M880.2 519.6h0M880.4 532.1h0M880.6 524.0h0M881.0 534.9h0M881.4 538.9h0M881.7 532.3h0M881.9 520.6h0M882.2 523.9h0M882.6 522.8h0M882.8 522.5h0M882.9 536.8h0M883.2 525.3h0M883.5 520.0h0M883.7 525.8h0M884.6 521.0h0M884.7 526.2h0M884.8 531.8h0M885.2 514.5h0M885.5 521.2h0M885.7 517.0h0M886.0 525.4h0M886.4 530.2h0M886.4 504.1h0M886.6 530.5h0M887.2 523.0h0M887.3 523.4h0M887.5 532.2h0M887.5 527.5h0M887.9 527.6h0M887.9 514.3h0M887.9 507.8h0M888.5 524.0h0M888.6 522.3h0M888.7 507.2h0M889.6 513.0h0M891.4 512.2h0M891.5 495.3h0M891.5 504.8h0M892.3 506.1h0M892.4 508.3h0M892.9 509.5h0M892.9 505.0h0M892.9 522.7h0M893.4 497.3h0M894.7 511.6h0M894.7 498.6h0M895.1 518.6h0M895.2 511.2h0M895.5 511.8h0M895.5 492.0h0M895.7 511.6h0M895.7 499.8h0M895.8 505.9h0M896.5 506.6h0M896.5 492.4h0M896.7 500.9h0M897.2 513.0h0M897.5 492.4h0M897.7 489.1h0M898.0 505.0h0M898.5 488.8h0M898.6 491.5h0M900.0 490.3h0M900.6 487.0h0M900.9 491.6h0M901.2 502.6h0M901.3 500.8h0M901.6 483.8h0M901.7 491.9h0M901.9 491.2h0M902.1 489.5h0M902.7 474.0h0M902.7 486.3h0M903.0 492.2h0M903.3 482.7h0M903.9 493.7h0M904.7 466.5h0M904.8 461.0h0M905.0 492.9h0M905.2 495.8h0M905.4 479.8h0M905.5 471.7h0M905.5 481.3h0M905.6 480.5h0M905.7 481.2h0M905.8 473.6h0M905.9 490.3h0M906.1 474.4h0M906.2 472.4h0M906.2 473.0h0M906.8 468.8h0M906.9 459.6h0M906.9 464.3h0M907.6 484.1h0M907.7 461.4h0M907.9 471.7h0M908.0 461.6h0M908.4 485.9h0M908.5 475.9h0M909.0 463.3h0M909.3 474.0h0M909.6 443.3h0M909.7 477.1h0M910.0 473.3h0M910.0 470.8h0M910.1 481.2h0M910.2 468.5h0M910.3 433.8h0M910.5 450.8h0M910.5 464.7h0M910.6 445.4h0M910.9 456.6h0M911.1 461.5h0M911.1 446.8h0M911.2 443.2h0M911.4 436.0h0M911.8 469.5h0M911.8 458.2h0M912.2 452.8h0M912.2 462.0h0M912.4 451.8h0M912.4 447.3h0M912.5 457.2h0M913.2 432.9h0M913.3 450.1h0M913.5 464.3h0M913.7 445.7h0M913.8 440.6h0M914.1 459.4h0M914.2 421.2h0M914.5 439.2h0M914.6 450.4h0M914.6 441.8h0M914.8 440.9h0M914.8 438.8h0M914.9 441.8h0M915.0 435.7h0M915.6 455.0h0M915.8 433.7h0M915.8 414.4h0M915.8 424.7h0M915.8 449.3h0M915.9 451.9h0M916.0 417.3h0M916.1 433.1h0M916.4 448.7h0M916.7 451.0h0M916.7 424.3h0M916.7 466.5h0M916.8 456.8h0M916.8 443.9h0M917.1 432.4h0M917.3 404.9h0M917.5 413.9h0M917.6 458.5h0M917.6 419.0h0M917.7 460.2h0M917.8 410.2h0M917.9 420.0h0M917.9 423.4h0M918.0 420.2h0M918.2 426.0h0M918.3 445.1h0M918.4 437.4h0M918.5 426.4h0M918.6 420.3h0M918.6 454.0h0M918.6 450.8h0M918.7 403.4h0M918.8 412.0h0M918.8 464.1h0M918.9 460.1h0M918.9 404.9h0M918.9 424.3h0M919.2 458.9h0M919.3 411.5h0M919.5 412.6h0M919.5 418.8h0M919.5 440.8h0M919.8 426.1h0M919.8 428.5h0M919.9 438.7h0M920.0 439.4h0M920.2 411.4h0M920.3 416.7h0M920.4 416.2h0M920.5 439.1h0M920.5 416.2h0M920.6 443.2h0M920.7 407.2h0M921.0 429.6h0M921.2 401.9h0M921.3 415.0h0M921.5 434.5h0M921.6 442.6h0M921.8 412.2h0M921.8 437.2h0M922.2 426.7h0M922.4 416.0h0M922.4 425.4h0M922.4 416.6h0M922.6 414.2h0M923.0 436.1h0M923.0 402.2h0M923.1 401.8h0M923.2 425.0h0M923.3 423.0h0M923.7 435.7h0M923.8 405.3h0M923.8 388.6h0M923.9 402.1h0M924.0 410.6h0M924.1 397.5h0M924.1 390.4h0M924.2 428.2h0M924.3 435.1h0M924.4 388.9h0M924.7 402.7h0M924.7 399.1h0M924.9 395.5h0M924.9 410.3h0M925.1 411.1h0M925.3 395.2h0M925.6 425.9h0M925.7 402.0h0M926.2 407.4h0M926.3 406.3h0M926.3 404.3h0M926.3 413.8h0M927.2 387.1h0M927.3 406.7h0M927.3 421.2h0M927.5 404.6h0M927.5 405.9h0M927.8 406.0h0M928.1 386.6h0M928.3 397.9h0M928.3 410.1h0M928.7 405.4h0M929.0 389.1h0M929.0 407.9h0M929.2 407.0h0M929.3 392.7h0M929.4 392.9h0M930.1 402.2h0M930.5 390.5h0M930.5 408.8h0M930.6 392.1h0M930.7 389.9h0M930.7 394.8h0M931.0 391.7h0M931.1 399.5h0M931.1 385.4h0M931.5 387.5h0M932.3 400.5h0M932.3 396.2h0M932.4 386.8h0M932.8 396.1h0M933.4 386.1h0M933.6 397.2h0M934.5 381.7h0M934.9 380.6h0M935.3 389.6h0M935.8 388.0h0M936.0 391.9h0M936.0 386.9h0M937.3 389.7h0M938.1 382.5h0M938.2 391.6h0M939.2 385.0h0M940.0 383.1h0M940.6 376.0h0M941.3 381.1h0M942.0 380.5h0M942.7 379.7h0M943.5 379.4h0M943.6 373.6h0M944.6 377.4h0M944.8 383.1h0M945.8 379.8h0M946.2 381.3h0M946.4 378.4h0M946.4 383.8h0M948.5 375.0h0M948.7 377.3h0M948.9 378.9h0M948.9 376.8h0M949.1 370.2h0M950.5 373.2h0M953.0 377.3h0M953.9 372.0h0M954.1 370.9h0M954.2 368.8h0M954.2 366.2h0M954.5 372.2h0M954.9 365.5h0M955.6 372.1h0M955.8 368.1h0M955.9 372.1h0M957.6 371.6h0M958.4 369.4h0M960.1 361.9h0M960.3 362.2h0M960.9 361.8h0M962.0 373.4h0M962.8 367.1h0M962.9 358.9h0M963.2 371.5h0M963.2 354.2h0M963.9 366.7h0M964.1 357.2h0M964.5 362.5h0M964.5 375.1h0M965.2 361.4h0M965.9 363.8h0M966.1 364.7h0M966.1 369.6h0M967.6 359.0h0M968.2 364.9h0M968.3 354.5h0M968.3 354.2h0M968.5 357.4h0M968.8 361.0h0M969.3 352.0h0M969.8 361.4h0M970.3 350.6h0M971.8 341.6h0M972.0 343.6h0M972.1 339.9h0M972.5 341.5h0M972.6 356.9h0M972.7 357.4h0M973.4 356.2h0M973.5 364.9h0M974.6 351.6h0M974.7 339.2h0M974.9 357.4h0M975.1 332.7h0M975.2 338.1h0M975.4 338.3h0M975.8 337.2h0M975.9 350.7h0M976.0 341.6h0M976.2 341.3h0M976.3 349.2h0M976.3 354.7h0M976.6 343.9h0M977.0 344.0h0M977.2 336.9h0M977.5 349.5h0M978.3 336.5h0M978.4 328.2h0M978.5 335.0h0M978.8 339.5h0M979.1 331.1h0M979.1 352.6h0M979.2 346.5h0M979.3 354.0h0M979.6 345.8h0M979.7 333.0h0M979.9 337.7h0M980.0 339.8h0M980.1 326.9h0M980.3 344.7h0M980.3 329.1h0M980.4 325.6h0M980.7 345.7h0M980.8 322.5h0M981.0 333.4h0M981.2 345.5h0M981.3 334.6h0M981.6 340.9h0M981.8 337.8h0M984.0 340.6h0M984.1 348.7h0M984.3 314.0h0M984.7 310.6h0M984.9 325.1h0M984.9 330.0h0M985.0 322.7h0M985.0 317.0h0M985.4 306.2h0M985.5 324.0h0M985.5 320.7h0M985.8 316.6h0M985.9 343.5h0M986.3 309.2h0M986.4 303.2h0M986.5 336.5h0M986.6 336.9h0M986.6 336.7h0M986.7 314.8h0M986.8 333.4h0M986.8 337.1h0M987.2 337.8h0M987.3 330.5h0M987.4 340.4h0M987.6 296.4h0M987.9 303.9h0M988.0 310.5h0M988.1 321.3h0M988.1 311.2h0M988.2 346.9h0M988.3 336.2h0M988.4 301.8h0M988.6 325.6h0M988.6 336.5h0M988.7 340.5h0M988.8 300.1h0M989.0 324.5h0M989.0 318.1h0M989.3 331.7h0M989.6 329.3h0M989.8 340.3h0M989.9 305.1h0M989.9 305.0h0M990.1 323.7h0M990.1 340.2h0M990.9 340.2h0M991.0 315.0h0M991.3 302.2h0M991.5 301.6h0M991.7 308.0h0M991.8 284.6h0M991.9 307.2h0M992.1 331.0h0M992.4 295.1h0M992.6 304.0h0M992.6 286.7h0M992.6 328.0h0M992.9 302.4h0M993.1 330.3h0M993.2 322.4h0M993.2 305.5h0M993.5 319.3h0M993.5 288.0h0M993.6 315.5h0M993.7 301.3h0M993.8 303.6h0M994.0 336.8h0M994.1 291.5h0M994.8 283.5h0M994.8 314.0h0M995.0 321.0h0M995.1 290.2h0M995.3 332.7h0M995.5 333.3h0M995.8 325.5h0M996.2 337.9h0M996.4 331.4h0M996.5 321.2h0M996.5 334.1h0M996.6 333.5h0M996.7 333.5h0M996.8 318.5h0M996.8 287.3h0M997.2 331.5h0M997.3 304.3h0M997.6 301.9h0M998.0 294.4h0M998.1 287.4h0M998.2 306.3h0M998.9 297.9h0M999.0 289.6h0M999.1 286.8h0M999.2 293.4h0M999.2 285.5h0M999.4 327.7h0M999.4 294.3h0M999.4 320.5h0M999.7 312.1h0M999.7 328.6h0M1000.1 323.6h0M1000.2 305.5h0M1000.3 288.1h0M1000.7 329.8h0M1000.8 315.0h0M1000.8 303.5h0M1001.0 293.8h0M1001.1 296.5h0M1001.3 275.0h0M1001.9 281.2h0M1002.1 290.4h0M1002.3 332.2h0M1002.4 320.7h0M1002.6 282.6h0M1002.7 291.0h0M1002.8 297.2h0M1002.9 299.6h0M1003.0 293.8h0M1003.2 295.6h0M1003.3 310.9h0M1003.5 285.6h0M1003.6 305.4h0M1003.7 277.1h0M1003.7 286.4h0M1003.8 284.7h0M1004.3 307.5h0M1004.3 301.5h0M1004.6 272.5h0M1004.7 307.3h0M1004.9 321.6h0M1005.0 314.2h0M1005.0 283.9h0M1005.1 315.4h0M1005.3 264.5h0M1005.3 294.2h0M1005.5 272.5h0M1005.6 305.4h0M1005.6 304.5h0M1005.6 307.0h0M1006.1 280.3h0M1006.4 319.6h0M1006.5 313.4h0M1006.6 277.6h0M1006.6 279.1h0M1006.6 303.9h0M1006.7 254.2h0M1006.8 311.1h0M1007.0 275.9h0M1007.5 308.5h0M1007.6 298.9h0M1007.8 295.0h0M1007.9 292.8h0M1008.0 279.3h0M1008.0 314.0h0M1008.1 299.2h0M1008.2 322.0h0M1008.2 272.3h0M1008.4 333.8h0M1008.5 305.5h0M1008.8 320.3h0M1009.2 317.1h0M1009.2 314.4h0M1009.3 265.0h0M1009.3 315.4h0M1009.3 282.5h0M1009.4 322.6h0M1009.7 307.5h0M1009.8 288.6h0M1009.8 301.4h0M1009.9 300.1h0M1009.9 308.1h0M1010.0 277.7h0M1010.1 293.3h0M1010.1 336.5h0M1010.3 303.8h0M1010.4 264.4h0M1010.4 269.8h0M1011.1 262.6h0M1011.1 294.3h0M1011.5 273.7h0M1011.5 317.7h0M1011.6 291.6h0M1011.6 283.0h0M1011.7 262.0h0M1011.8 293.3h0M1011.9 312.8h0M1012.2 305.3h0M1012.2 291.7h0M1012.3 316.5h0M1012.5 291.8h0M1012.7 273.7h0M1013.2 322.8h0M1013.4 319.6h0M1013.4 283.1h0M1013.5 245.7h0M1013.6 317.5h0M1013.7 281.7h0M1013.8 290.3h0M1014.2 286.5h0M1014.5 288.0h0M1014.5 294.7h0M1014.9 287.1h0M1014.9 278.2h0M1015.4 302.4h0M1015.4 303.4h0M1015.4 309.9h0M1015.7 260.7h0M1015.7 274.3h0M1015.8 273.5h0M1016.0 309.6h0M1016.1 265.7h0M1016.2 281.9h0M1016.3 299.9h0M1016.5 263.1h0M1016.6 276.8h0M1016.7 281.8h0M1016.8 282.1h0M1017.3 265.2h0M1017.6 281.6h0M1017.7 274.8h0M1017.8 263.3h0M1017.9 269.7h0M1017.9 300.1h0M1018.1 261.3h0M1018.3 295.9h0M1018.4 315.9h0M1018.5 283.4h0M1018.5 288.1h0M1018.6 277.1h0M1018.8 246.1h0M1019.5 295.0h0M1019.7 238.7h0M1020.0 314.2h0M1020.5 268.9h0M1020.5 287.7h0M1020.6 243.6h0M1020.6 300.7h0M1020.8 299.4h0M1020.9 254.9h0M1021.2 267.1h0M1021.2 312.9h0M1021.2 268.1h0M1021.3 256.0h0M1021.4 303.4h0M1021.4 257.9h0M1021.6 271.8h0M1021.6 275.0h0M1021.8 275.8h0M1021.8 305.1h0M1021.8 296.4h0M1021.9 290.9h0M1022.0 304.9h0M1022.0 251.4h0M1022.2 327.9h0M1022.2 264.3h0M1022.2 267.8h0M1022.3 308.4h0M1022.5 265.8h0M1022.7 313.4h0M1022.9 287.2h0M1023.0 280.2h0M1023.3 264.7h0M1023.4 292.5h0M1023.7 280.1h0M1023.8 278.3h0M1023.9 269.4h0M1024.1 300.7h0M1024.2 292.7h0M1024.3 297.2h0M1024.3 284.8h0M1024.5 264.7h0M1024.6 292.7h0M1024.7 236.9h0M1024.8 311.0h0M1024.9 325.7h0M1025.0 259.1h0M1025.1 283.7h0M1025.1 290.2h0M1025.5 272.5h0M1025.5 304.6h0M1025.7 307.6h0M1025.7 263.3h0M1025.7 296.9h0M1025.7 248.5h0M1026.1 295.6h0M1026.1 265.2h0M1026.1 287.3h0M1026.2 296.4h0M1026.2 275.0h0M1026.2 248.6h0M1026.3 267.0h0M1026.4 277.8h0M1026.4 300.7h0M1026.5 282.5h0M1026.6 301.7h0M1026.8 258.5h0M1026.8 304.7h0M1026.8 283.0h0M1026.9 281.0h0M1027.1 273.7h0M1027.1 254.4h0M1027.2 302.5h0M1027.3 283.7h0M1027.5 308.9h0M1027.5 254.8h0M1027.5 284.7h0M1027.5 267.8h0M1027.8 253.5h0M1027.8 264.0h0M1027.9 265.4h0M1028.0 294.2h0M1028.0 295.1h0M1028.1 275.8h0M1028.2 267.9h0M1028.3 285.8h0M1028.7 241.1h0M1029.2 276.7h0M1029.3 307.5h0M1029.3 259.1h0M1030.0 323.7h0M1030.1 286.9h0M1030.2 285.6h0M1030.2 275.7h0M1030.5 322.1h0M1030.6 255.0h0M1030.6 233.9h0M1030.7 307.5h0M1030.7 277.4h0M1030.9 257.9h0M1030.9 284.9h0M1031.0 247.9h0M1031.4 296.9h0M1031.4 231.8h0M1031.4 247.2h0M1031.5 286.7h0M1031.6 253.3h0M1031.8 281.3h0M1031.8 285.6h0M1031.9 281.3h0M1031.9 239.1h0M1031.9 303.2h0M1032.1 284.8h0M1032.3 249.9h0M1032.8 225.0h0M1032.9 277.2h0M1033.0 270.3h0M1033.6 243.9h0M1033.8 287.0h0M1034.0 245.9h0M1034.0 249.3h0M1034.1 276.1h0M1034.2 309.2h0M1034.3 281.6h0M1034.3 277.6h0M1034.4 261.7h0M1034.7 303.2h0M1034.8 279.5h0M1035.1 270.5h0M1035.2 253.9h0M1035.2 281.8h0M1035.5 247.3h0M1035.5 265.0h0M1035.6 282.0h0M1035.6 244.8h0M1035.6 298.0h0M1035.7 245.6h0M1036.4 318.9h0M1036.5 240.6h0M1036.5 235.2h0M1036.6 280.8h0M1036.7 248.2h0M1036.8 280.5h0M1036.9 278.9h0M1037.0 295.7h0M1037.0 259.2h0M1037.1 265.9h0M1037.1 245.5h0M1037.2 270.0h0M1037.2 282.1h0M1037.3 223.2h0M1037.4 247.2h0M1037.4 275.9h0M1037.4 295.5h0M1037.6 302.1h0M1037.6 287.2h0M1037.7 297.4h0M1037.7 310.1h0M1037.8 264.4h0M1038.6 265.6h0M1038.7 272.2h0M1039.0 289.8h0M1039.0 290.5h0M1039.4 309.0h0M1039.4 250.8h0M1039.6 293.2h0M1039.8 291.1h0M1040.1 246.4h0M1040.1 248.5h0M1040.4 270.1h0M1040.6 236.2h0M1040.6 240.4h0M1041.0 218.5h0M1041.1 292.8h0M1041.1 295.3h0M1041.4 234.8h0M1041.4 300.6h0M1041.6 286.6h0M1041.8 244.5h0M1041.8 294.2h0M1041.9 243.9h0M1042.0 276.2h0M1042.2 311.9h0M1042.4 278.2h0M1042.4 264.2h0M1042.6 245.0h0M1043.0 266.6h0M1043.2 250.5h0M1043.2 288.2h0M1043.4 251.4h0M1043.7 287.1h0M1043.8 237.9h0M1044.0 246.1h0M1044.1 290.7h0M1044.1 275.0h0M1044.8 282.9h0M1044.8 261.5h0M1044.8 233.5h0M1045.0 282.4h0M1045.1 285.1h0M1045.1 252.4h0M1045.3 292.7h0M1045.4 264.1h0M1045.5 249.0h0M1045.6 233.4h0M1046.3 269.6h0M1046.3 267.1h0M1046.4 281.0h0M1046.4 253.8h0M1046.4 289.6h0M1046.4 260.1h0M1046.5 232.7h0M1046.5 273.4h0M1046.7 248.8h0M1046.7 235.8h0M1046.7 280.9h0M1046.7 283.5h0M1046.8 254.2h0M1046.8 241.1h0M1047.3 308.3h0M1047.5 267.5h0M1047.7 267.5h0M1047.8 295.6h0M1048.0 308.7h0M1048.2 245.5h0M1048.3 237.4h0M1048.4 265.0h0M1048.5 274.8h0M1048.5 232.5h0M1048.7 251.9h0M1048.8 278.9h0M1049.0 261.0h0M1049.0 246.0h0M1049.2 245.5h0M1049.2 289.8h0M1049.4 227.4h0M1049.5 273.8h0M1049.6 257.0h0M1049.7 244.2h0M1050.1 288.6h0M1050.1 230.1h0M1050.5 240.1h0M1050.5 237.2h0M1050.8 212.3h0M1050.8 310.6h0M1050.9 229.5h0M1051.3 288.5h0M1051.3 283.9h0M1051.8 260.1h0M1051.8 282.7h0M1052.0 280.1h0M1052.1 272.9h0M1052.3 225.0h0M1052.3 258.4h0M1052.4 232.9h0M1052.6 276.1h0M1052.7 233.6h0M1052.7 270.2h0M1052.8 274.8h0M1053.1 270.6h0M1053.2 233.3h0M1053.2 272.6h0M1053.3 277.4h0M1053.4 263.3h0M1053.5 263.0h0M1053.5 249.8h0M1053.5 291.4h0M1053.6 250.4h0M1053.6 285.1h0M1053.6 233.0h0M1053.8 310.1h0M1053.9 294.6h0M1054.0 278.0h0M1054.3 231.7h0M1054.4 265.7h0M1054.5 247.5h0M1054.6 240.8h0M1054.7 277.5h0M1054.8 272.4h0M1054.8 298.5h0M1054.9 243.3h0M1055.0 251.2h0M1055.0 257.9h0M1055.1 225.2h0M1055.3 277.8h0M1055.5 234.2h0M1055.6 207.9h0M1055.6 268.2h0M1055.7 271.5h0M1055.9 250.4h0M1056.0 246.4h0M1056.2 222.1h0M1056.3 258.2h0M1056.4 258.1h0M1056.4 243.9h0M1056.5 262.7h0M1056.5 223.3h0M1056.6 224.9h0M1056.6 225.6h0M1056.9 257.7h0M1056.9 309.5h0M1057.1 242.0h0M1057.2 237.2h0M1057.2 284.3h0M1057.3 252.5h0M1057.8 306.2h0M1057.9 236.2h0M1058.0 242.0h0M1058.1 283.1h0M1058.1 245.6h0M1058.2 289.2h0M1058.2 260.8h0M1058.3 279.2h0M1058.3 224.9h0M1058.5 219.6h0M1058.8 213.0h0M1058.8 286.2h0M1058.8 276.9h0M1059.0 268.6h0M1059.0 249.4h0M1059.1 255.1h0M1059.2 226.7h0M1059.3 273.9h0M1059.3 214.6h0M1059.5 231.2h0M1059.6 307.1h0M1059.7 261.2h0M1059.8 232.8h0M1059.8 264.7h0M1060.0 289.7h0M1060.1 276.2h0M1060.2 239.2h0M1060.4 220.4h0M1060.6 235.1h0M1060.6 238.4h0M1060.8 277.2h0M1061.0 219.2h0M1061.2 248.7h0M1061.3 250.0h0M1061.3 261.7h0M1061.5 265.3h0M1061.6 224.9h0M1061.8 286.8h0M1062.0 250.8h0M1062.5 231.3h0M1062.5 275.1h0M1062.6 229.3h0M1062.7 279.8h0M1062.7 267.1h0M1062.7 272.3h0M1062.8 199.6h0M1062.9 306.5h0M1063.0 241.4h0M1063.0 220.2h0M1063.4 281.0h0M1063.4 244.2h0M1063.5 226.4h0M1063.7 250.6h0M1063.8 240.1h0M1063.9 266.2h0M1064.0 277.0h0M1064.5 266.7h0M1064.6 243.6h0M1064.8 278.8h0M1064.9 256.6h0M1064.9 279.7h0M1065.1 228.9h0M1065.2 267.0h0M1065.2 241.0h0M1065.4 252.7h0M1065.5 259.4h0M1065.9 269.4h0M1065.9 278.9h0M1066.0 260.8h0M1066.2 306.0h0M1066.2 209.5h0M1066.5 224.1h0M1066.7 267.4h0M1066.7 283.3h0M1066.7 273.4h0M1067.1 229.7h0M1067.1 283.2h0M1067.3 236.1h0M1067.4 226.1h0M1067.5 249.6h0M1067.5 221.5h0M1067.6 256.3h0M1067.6 275.0h0M1067.6 248.6h0M1067.6 274.1h0M1067.7 275.5h0M1067.7 284.1h0M1067.8 245.7h0M1067.8 220.9h0M1067.9 240.4h0M1068.1 267.5h0M1068.2 255.0h0M1068.5 268.9h0M1068.6 283.6h0M1068.6 211.5h0M1068.7 248.3h0M1068.8 284.6h0M1068.8 256.6h0M1068.9 278.6h0M1068.9 243.4h0M1069.0 256.9h0M1069.1 270.9h0M1069.1 276.9h0M1069.2 227.8h0M1069.2 255.2h0M1069.5 260.3h0M1069.6 191.8h0M1069.6 215.3h0M1069.7 264.1h0M1069.9 228.9h0M1070.0 257.5h0M1070.3 237.1h0M1070.4 214.5h0M1070.4 272.5h0M1070.5 235.4h0M1070.5 234.4h0M1070.5 232.6h0M1071.0 217.5h0M1071.1 253.6h0M1071.1 222.4h0M1071.3 250.7h0M1071.3 252.4h0M1071.4 205.3h0M1071.4 239.1h0M1071.6 208.1h0M1071.7 284.0h0M1071.7 239.9h0M1071.8 217.0h0M1071.9 273.7h0M1071.9 268.9h0M1071.9 257.5h0M1071.9 216.6h0M1072.0 213.2h0M1072.0 237.6h0M1072.2 240.9h0M1072.7 252.1h0M1073.1 243.8h0M1073.2 282.7h0M1073.3 231.0h0M1073.4 205.6h0M1073.5 237.7h0M1073.5 208.9h0M1073.7 245.7h0M1073.7 210.1h0M1073.7 245.7h0M1073.9 266.2h0M1073.9 261.1h0M1074.0 248.6h0M1074.3 223.9h0M1074.3 270.8h0M1074.4 280.3h0M1074.5 200.2h0M1074.5 300.5h0M1074.5 204.9h0M1074.7 229.5h0M1075.1 263.6h0M1075.1 188.7h0M1075.2 220.1h0M1075.2 223.8h0M1075.2 228.8h0M1075.3 233.5h0M1075.3 220.5h0M1075.4 204.0h0M1075.4 215.0h0M1075.4 226.7h0M1075.7 208.5h0M1075.8 238.9h0M1075.9 282.7h0M1075.9 244.4h0M1075.9 231.8h0M1076.0 221.1h0M1076.1 221.0h0M1076.1 226.4h0M1076.2 263.7h0M1076.3 214.2h0M1076.4 250.4h0M1076.5 224.4h0M1076.5 210.3h0M1076.5 290.4h0M1076.7 240.1h0M1076.7 265.3h0M1076.8 273.7h0M1076.8 252.8h0M1076.9 188.2h0M1077.3 229.4h0M1077.3 276.3h0M1077.4 208.0h0M1077.6 210.9h0M1077.9 256.5h0M1077.9 200.8h0M1078.0 262.1h0M1078.0 270.0h0M1078.0 297.3h0M1078.1 239.8h0M1078.3 279.2h0M1078.3 200.6h0M1078.4 227.4h0M1078.6 204.8h0M1078.7 232.8h0M1078.8 260.8h0M1078.9 274.0h0M1079.0 249.3h0M1079.0 232.7h0M1079.0 217.2h0M1079.2 227.5h0M1079.2 205.1h0M1079.3 277.5h0M1079.4 233.7h0M1079.5 207.3h0M1079.5 194.7h0M1079.8 242.5h0M1080.0 228.4h0M1080.1 239.7h0M1080.3 260.5h0M1080.6 224.2h0M1080.8 242.7h0M1080.9 271.4h0M1081.0 179.8h0M1081.0 270.3h0M1081.1 208.0h0M1081.1 272.3h0M1081.2 251.5h0M1081.2 235.0h0M1081.3 276.0h0M1081.4 262.7h0M1081.4 223.6h0M1081.5 270.6h0M1081.6 212.8h0M1081.6 221.3h0M1081.8 233.8h0M1081.8 226.7h0M1082.0 200.9h0M1082.2 270.9h0M1082.6 252.6h0M1082.7 218.9h0M1082.7 207.4h0M1082.8 205.9h0M1083.1 270.1h0M1083.2 243.2h0M1083.2 212.4h0M1083.3 192.5h0M1083.3 176.8h0M1083.3 226.1h0M1083.3 260.4h0M1083.4 269.6h0M1083.4 205.8h0M1083.6 206.9h0M1083.6 222.2h0M1084.0 209.8h0M1084.0 188.5h0M1084.1 218.9h0M1084.1 205.0h0M1084.2 218.0h0M1084.4 294.1h0M1085.1 265.9h0M1085.2 193.0h0M1085.3 250.1h0M1085.3 294.7h0M1085.5 224.3h0M1085.5 246.3h0M1086.0 193.2h0M1086.4 207.4h0M1086.4 268.9h0M1086.4 253.8h0M1086.5 182.5h0M1086.6 251.4h0M1086.6 192.5h0M1086.7 265.9h0M1086.7 199.4h0M1086.8 195.9h0M1086.9 200.4h0M1087.1 251.3h0M1087.2 200.0h0M1087.3 195.5h0M1087.3 247.2h0M1087.5 205.3h0M1087.7 223.6h0M1087.9 252.6h0M1088.3 209.3h0M1088.4 229.9h0M1088.7 259.3h0" stroke="#fadcb8" stroke-width="3.6" stroke-linecap="square" fill="none"/>
<path d="M670.0 651.9L685.0 640.2L693.6 631.8L702.1 622.0L710.7 611.9L719.2 600.3L727.7 590.5L736.3 585.6L744.8 582.1L753.3 578.7L761.9 576.6L767.0 574.8L778.4 570.0L796.8 561.1L815.1 555.6L833.5 550.4L842.7 548.6L848.7 546.1L851.9 543.3L856.0 541.2L860.0 536.9L865.0 523.0L868.0 506.6L871.0 487.4L874.0 467.1L877.0 456.0L880.0 445.8L884.0 431.7L888.0 414.8L891.0 407.7L895.0 396.7L900.0 385.8L905.0 380.4L910.0 376.1L915.0 370.8L920.0 362.5L925.0 355.9L930.1 345.0L939.3 337.0L948.5 330.6L957.7 325.3L964.9 323.4L974.7 311.4L984.6 304.3L994.4 297.2L1004.3 287.0L1014.1 280.6L1024.0 274.0L1035.5 268.4L1046.0 262.0L1056.5 254.5L1067.0 248.6L1077.6 242.7L1090.0 235.8L1090.0 270.3L1077.6 275.7L1067.0 280.3L1056.5 284.8L1046.0 291.9L1035.5 296.9L1024.0 300.8L1014.1 308.1L1004.3 315.4L994.4 326.5L984.6 333.7L974.7 341.0L964.9 350.0L957.7 351.2L948.5 355.5L939.3 362.0L930.1 368.1L925.0 377.2L920.0 384.0L915.0 392.0L910.0 397.1L905.0 401.2L900.0 405.1L895.0 413.8L891.0 422.6L888.0 430.4L884.0 448.4L880.0 463.2L877.0 481.0L874.0 499.9L871.0 515.6L868.0 529.4L865.0 542.0L860.0 549.1L856.0 555.8L851.9 558.4L848.7 559.9L842.7 565.4L833.5 567.3L815.1 571.2L796.8 576.7L778.4 584.4L767.0 592.2L761.9 595.4L753.3 600.2L744.8 603.7L736.3 607.1L727.7 610.7L719.2 617.9L710.7 626.8L702.1 635.5L693.6 642.7L685.0 649.8L670.0 658.6Z" fill="#76fa6e"/>
<path d="M671.9 651.6h0M673.4 654.8h0M674.3 655.2h0M678.4 652.7h0M679.5 652.1h0M682.4 649.9h0M682.7 650.3h0M685.0 651.9h0M685.5 649.6h0M686.7 640.2h0M688.7 646.0h0M688.8 642.6h0M689.6 639.7h0M691.6 635.2h0M691.9 635.4h0M692.0 636.5h0M693.4 638.6h0M695.3 636.5h0M696.3 635.1h0M696.5 634.0h0M697.8 630.7h0M698.6 635.5h0M700.0 634.4h0M700.7 621.9h0M700.7 626.4h0M702.2 636.4h0M702.5 621.5h0M703.1 626.2h0M703.8 624.0h0M703.9 625.1h0M704.2 620.3h0M704.6 621.1h0M704.9 621.6h0M705.1 618.1h0M705.2 631.9h0M708.1 613.3h0M708.7 618.6h0M709.4 623.7h0M711.7 622.1h0M711.8 614.5h0M712.9 607.8h0M713.0 620.0h0M714.6 598.3h0M714.8 609.8h0M714.9 618.1h0M715.8 613.2h0M717.4 614.5h0M718.6 611.3h0M718.9 601.1h0M719.2 614.5h0M719.4 605.9h0M720.1 614.2h0M720.7 594.3h0M721.1 603.5h0M722.3 597.7h0M722.6 616.6h0M723.6 614.3h0M724.5 599.2h0M724.8 598.8h0M724.9 609.6h0M726.7 600.4h0M727.3 600.2h0M727.5 590.4h0M728.1 603.9h0M728.5 599.1h0M728.7 590.4h0M729.5 596.0h0M730.1 609.6h0M730.7 583.1h0M731.0 587.8h0M731.4 587.5h0M731.6 591.9h0M731.9 591.9h0M732.4 593.7h0M732.7 589.1h0M733.1 591.9h0M733.3 601.8h0M733.9 592.5h0M734.1 596.1h0M734.2 608.9h0M734.4 601.7h0M735.8 590.0h0M737.3 591.6h0M737.9 596.0h0M738.0 597.8h0M738.2 584.6h0M738.4 583.9h0M738.4 584.2h0M739.1 599.3h0M739.9 587.0h0M740.1 611.8h0M741.5 586.4h0M741.5 592.5h0M742.3 582.2h0M742.7 587.2h0M743.3 597.0h0M743.6 604.0h0M744.7 590.0h0M745.1 597.5h0M745.9 599.2h0M747.1 597.6h0M747.2 583.7h0M747.5 599.6h0M747.8 590.0h0M747.9 597.7h0M748.0 590.6h0M748.3 591.6h0M748.4 587.6h0M748.6 584.1h0M748.7 586.1h0M749.2 583.6h0M749.6 591.5h0M751.1 578.6h0M752.3 586.5h0M754.0 582.8h0M754.2 572.0h0M754.2 577.7h0M754.3 600.6h0M755.3 596.9h0M755.9 579.4h0M756.8 585.1h0M757.5 594.4h0M757.6 571.7h0M757.7 594.2h0M758.4 583.6h0M758.5 592.3h0M759.0 595.6h0M759.2 581.4h0M760.3 587.3h0M760.3 580.3h0M760.6 581.7h0M762.1 590.5h0M763.8 574.7h0M763.9 574.9h0M764.6 577.1h0M764.8 580.3h0M764.9 588.6h0M765.3 590.5h0M765.6 585.4h0M766.1 584.6h0M766.2 582.0h0M766.6 585.9h0M767.3 590.0h0M767.5 588.3h0M768.4 583.1h0M769.1 583.1h0M769.8 577.7h0M770.2 573.6h0M771.6 581.6h0M771.8 577.1h0M772.5 578.4h0M772.7 582.4h0M772.7 574.4h0M773.9 580.9h0M775.7 572.6h0M775.7 583.3h0M776.4 583.2h0M777.3 573.8h0M778.4 580.9h0M779.2 575.6h0M781.4 578.2h0M785.7 577.6h0M785.8 569.8h0M786.1 572.9h0M786.3 567.7h0M788.5 565.7h0M788.6 573.7h0M788.7 579.4h0M789.1 577.4h0M790.2 569.7h0M791.2 577.9h0M792.0 573.4h0M792.1 570.3h0M793.6 576.5h0M794.7 581.5h0M795.3 569.3h0M795.4 563.6h0M796.3 564.8h0M797.3 572.9h0M797.4 556.3h0M797.6 574.9h0M798.5 574.8h0M798.7 573.9h0M799.7 568.7h0M799.8 565.0h0M801.5 558.7h0M803.0 562.3h0M803.3 579.6h0M804.1 558.8h0M805.1 560.8h0M806.0 553.6h0M806.7 572.2h0M808.7 564.1h0M808.9 565.9h0M809.2 571.2h0M810.2 557.9h0M811.1 568.4h0M811.8 565.3h0M812.4 570.9h0M812.8 557.8h0M814.7 551.1h0M814.7 557.9h0M814.8 556.4h0M815.7 564.0h0M815.9 567.9h0M816.1 554.3h0M816.8 575.3h0M817.8 575.0h0M821.2 555.2h0M821.7 561.0h0M822.0 569.3h0M824.2 566.5h0M824.3 560.9h0M826.2 565.1h0M827.1 562.9h0M827.1 566.8h0M827.3 557.8h0M827.4 555.9h0M829.2 559.5h0M829.4 569.1h0M830.2 563.5h0M830.6 562.9h0M830.7 563.6h0M831.4 563.6h0M831.6 555.7h0M832.1 566.3h0M833.4 565.1h0M835.0 563.9h0M835.3 558.6h0M835.3 559.3h0M835.8 548.9h0M837.1 552.8h0M838.0 566.4h0M838.7 550.4h0M839.0 556.6h0M841.0 563.4h0M841.2 552.0h0M841.2 566.0h0M841.3 548.8h0M842.0 543.9h0M845.9 542.6h0M846.0 559.8h0M846.1 548.5h0M846.6 545.6h0M846.8 549.9h0M847.1 542.3h0M847.7 558.4h0M847.8 546.7h0M847.8 560.2h0M848.8 549.2h0M848.9 554.1h0M850.2 546.3h0M850.9 542.2h0M851.3 556.8h0M851.4 558.5h0M851.7 555.8h0M852.7 558.1h0M853.4 555.1h0M853.7 556.2h0M853.8 551.8h0M854.3 548.0h0M854.3 543.3h0M855.7 545.8h0M856.5 547.7h0M856.6 546.5h0M856.6 554.8h0M857.7 544.2h0M857.8 554.0h0M860.2 537.5h0M860.5 536.3h0M861.2 537.3h0M861.6 545.9h0M861.7 527.4h0M863.0 542.0h0M863.2 536.9h0M864.1 530.2h0M864.6 543.2h0M864.8 536.0h0M865.1 543.1h0M865.1 533.3h0M865.3 509.1h0M865.6 515.0h0M865.7 534.3h0M865.7 529.3h0M865.8 517.4h0M866.6 531.2h0M868.1 505.5h0M868.2 528.2h0M868.9 528.4h0M869.3 498.3h0M869.4 504.6h0M869.7 514.3h0M869.9 485.5h0M870.0 518.1h0M870.3 529.4h0M870.4 494.3h0M870.6 510.3h0M870.7 513.6h0M871.0 480.7h0M871.3 493.7h0M871.5 500.3h0M871.6 488.0h0M871.8 511.0h0M872.1 507.3h0M872.1 511.1h0M872.5 482.2h0M872.6 467.9h0M872.7 485.0h0M873.1 478.5h0M873.1 507.0h0M873.3 482.6h0M873.7 496.5h0M873.9 500.1h0M874.6 479.8h0M874.8 467.0h0M874.8 488.3h0M874.9 465.0h0M875.0 490.6h0M876.0 466.5h0M876.0 468.0h0M876.0 475.2h0M876.1 463.7h0M876.4 452.8h0M876.6 464.5h0M876.7 466.8h0M876.8 464.8h0M876.8 460.6h0M877.2 459.3h0M877.6 463.5h0M877.9 469.5h0M878.2 457.3h0M878.2 474.5h0M878.6 448.1h0M878.9 463.3h0M879.0 458.2h0M879.0 456.3h0M879.6 441.6h0M879.8 455.6h0M880.5 450.3h0M881.1 445.2h0M881.2 439.9h0M882.6 456.6h0M883.1 443.5h0M883.4 430.6h0M883.6 429.0h0M883.9 448.1h0M883.9 446.8h0M884.1 438.8h0M885.0 442.5h0M885.5 420.5h0M885.7 432.6h0M885.8 432.5h0M886.8 418.5h0M888.6 411.0h0M889.1 421.6h0M889.4 429.4h0M889.7 423.2h0M889.9 412.9h0M890.9 419.5h0M891.1 397.1h0M891.5 406.7h0M892.3 425.9h0M892.3 414.3h0M892.7 410.6h0M892.9 410.8h0M893.5 421.5h0M893.5 409.9h0M893.5 412.8h0M893.6 398.5h0M893.8 413.2h0M895.1 381.6h0M895.2 416.2h0M895.5 418.3h0M896.2 403.8h0M897.4 383.5h0M897.5 416.1h0M897.6 421.4h0M897.8 399.5h0M898.4 394.8h0M898.5 408.9h0M898.5 387.1h0M899.4 416.5h0M899.4 394.3h0M899.5 394.9h0M899.5 396.4h0M899.6 395.7h0M900.0 366.1h0M900.5 410.9h0M900.9 414.6h0M901.8 416.8h0M902.1 385.4h0M902.3 388.8h0M903.0 395.3h0M903.6 374.6h0M904.0 359.6h0M904.1 414.0h0M904.1 404.9h0M904.2 397.7h0M904.5 413.4h0M904.6 398.3h0M904.7 405.1h0M904.7 374.4h0M904.8 379.2h0M905.1 423.3h0M905.1 377.1h0M905.3 383.5h0M905.4 396.2h0M906.0 384.7h0M906.4 373.1h0M906.9 382.8h0M907.0 370.9h0M907.0 395.1h0M907.1 402.1h0M908.1 377.1h0M908.1 401.2h0M908.6 407.7h0M908.7 371.3h0M909.5 403.2h0M909.8 362.2h0M910.0 394.1h0M910.0 374.8h0M910.1 367.7h0M910.4 381.8h0M910.4 388.7h0M910.4 394.9h0M910.7 394.2h0M910.7 382.9h0M911.3 373.2h0M911.6 396.7h0M912.0 370.0h0M912.3 378.5h0M912.3 404.1h0M912.3 367.2h0M912.8 369.9h0M914.1 367.4h0M914.2 400.3h0M914.5 362.2h0M914.5 415.5h0M914.9 363.5h0M915.2 379.4h0M915.3 390.2h0M915.6 361.3h0M915.9 367.9h0M916.0 363.6h0M916.0 360.4h0M916.1 398.8h0M916.1 398.3h0M916.2 374.8h0M916.4 376.5h0M916.5 392.2h0M916.8 390.2h0M916.9 375.4h0M917.7 360.7h0M918.1 392.8h0M918.5 371.5h0M918.7 377.2h0M918.9 386.1h0M919.9 380.8h0M919.9 387.1h0M919.9 373.5h0M921.5 387.0h0M921.7 349.1h0M921.9 367.8h0M922.4 364.3h0M922.4 372.4h0M922.5 367.4h0M922.5 393.7h0M922.6 375.1h0M923.1 363.3h0M923.2 369.6h0M923.4 389.6h0M923.5 381.4h0M923.5 368.6h0M923.5 384.1h0M923.8 346.4h0M923.8 388.3h0M924.5 353.3h0M924.7 382.3h0M924.8 339.4h0M924.9 384.6h0M925.0 379.4h0M925.7 366.1h0M925.7 343.3h0M925.7 354.2h0M925.9 381.6h0M926.4 351.6h0M927.0 324.2h0M927.5 338.2h0M927.7 384.5h0M927.7 356.2h0M928.6 352.7h0M929.0 353.8h0M929.1 346.1h0M929.3 357.8h0M929.8 341.3h0M929.8 348.7h0M931.3 346.2h0M931.3 338.0h0M931.4 332.7h0M931.5 325.8h0M931.7 362.0h0M931.9 332.3h0M932.0 356.1h0M932.0 343.8h0M932.0 360.1h0M932.6 376.0h0M932.9 339.3h0M933.1 360.3h0M933.2 363.1h0M933.3 360.9h0M934.0 369.5h0M934.0 345.6h0M934.3 321.7h0M934.4 370.5h0M934.9 347.6h0M935.2 318.3h0M935.5 379.9h0M935.9 375.3h0M937.0 325.5h0M937.1 319.5h0M937.2 360.7h0M937.4 375.1h0M937.4 377.0h0M937.5 327.1h0M938.0 374.5h0M938.0 345.2h0M938.2 322.3h0M938.6 321.5h0M939.1 342.6h0M939.2 350.7h0M939.5 333.7h0M940.1 335.4h0M940.2 366.4h0M940.7 359.0h0M941.0 317.1h0M941.4 357.9h0M941.6 367.6h0M941.6 336.8h0M941.7 360.4h0M942.2 335.7h0M942.3 331.1h0M942.8 337.1h0M943.0 369.3h0M943.1 314.2h0M943.2 316.6h0M943.5 368.2h0M943.9 347.9h0M943.9 366.3h0M943.9 345.4h0M944.2 364.9h0M944.2 299.4h0M944.4 300.0h0M944.5 326.7h0M944.7 343.1h0M944.8 335.0h0M945.1 369.1h0M945.2 364.7h0M945.9 359.0h0M946.1 367.9h0M946.3 328.2h0M946.4 358.2h0M946.6 371.1h0M947.4 369.6h0M947.9 349.1h0M948.5 325.9h0M948.8 336.6h0M949.1 346.7h0M949.1 362.7h0M949.7 352.0h0M949.9 327.1h0M950.1 337.9h0M950.3 340.7h0M950.7 309.3h0M950.8 331.3h0M951.5 367.6h0M951.9 339.7h0M952.0 338.2h0M952.0 338.1h0M952.0 354.5h0M952.4 350.2h0M952.7 337.7h0M952.7 336.6h0M953.1 359.4h0M953.1 353.4h0M953.1 363.1h0M953.3 360.3h0M953.3 339.5h0M953.4 338.2h0M953.6 316.0h0M953.8 336.5h0M954.0 350.1h0M954.1 345.1h0M954.1 346.8h0M954.6 305.3h0M954.7 309.6h0M954.9 347.6h0M955.2 355.8h0M955.5 359.8h0M956.0 321.0h0M956.2 327.6h0M957.1 341.0h0M957.7 364.4h0M958.1 378.4h0M958.3 321.7h0M958.8 352.3h0M958.8 313.8h0M958.8 305.5h0M958.9 347.4h0M960.3 342.4h0M960.5 378.0h0M960.6 313.3h0M960.7 357.9h0M961.1 361.4h0M961.2 327.0h0M961.4 319.3h0M961.5 341.0h0M961.6 326.0h0M961.6 326.6h0M961.7 300.1h0M962.1 352.6h0M962.6 335.8h0M963.4 361.4h0M963.5 329.1h0M963.6 356.4h0M963.7 358.3h0M963.7 361.9h0M963.9 376.6h0M964.1 307.6h0M964.1 305.6h0M964.2 319.9h0M964.3 356.8h0M964.4 348.2h0M964.5 325.4h0M964.6 309.0h0M964.7 302.1h0M965.5 356.6h0M965.6 353.7h0M965.6 341.0h0M965.8 296.1h0M966.1 323.0h0M966.1 359.3h0M966.5 349.6h0M966.5 307.4h0M966.7 297.6h0M967.3 313.2h0M967.6 352.0h0M967.9 336.9h0M968.1 351.9h0M968.2 305.1h0M968.5 361.4h0M969.0 353.4h0M969.1 348.1h0M969.5 323.5h0M969.5 353.6h0M969.8 331.9h0M970.0 353.0h0M970.4 313.8h0M970.4 304.2h0M970.6 317.7h0M970.8 344.3h0M971.0 294.5h0M971.0 338.3h0M971.1 317.5h0M971.3 318.1h0M971.6 345.5h0M971.9 302.4h0M971.9 315.6h0M972.1 333.8h0M973.3 357.4h0M973.3 335.5h0M973.6 332.8h0M973.8 293.6h0M974.3 313.2h0M975.0 282.4h0M975.0 316.0h0M975.0 338.9h0M975.4 318.9h0M975.9 312.3h0M976.1 330.2h0M976.1 347.4h0M976.4 341.7h0M976.5 269.4h0M977.0 326.3h0M977.0 314.8h0M977.2 306.1h0M977.3 344.9h0M977.7 298.1h0M977.9 353.3h0M978.0 338.3h0M978.1 284.5h0M978.4 310.7h0M978.5 328.6h0M978.6 347.1h0M978.6 309.8h0M978.7 322.3h0M978.7 337.8h0M979.2 350.5h0M979.3 285.0h0M979.7 280.3h0M980.0 280.7h0M980.1 308.0h0M980.3 297.5h0M980.4 301.6h0M980.5 286.5h0M980.7 343.6h0M980.8 301.8h0M981.1 323.2h0M981.2 318.3h0M983.0 311.3h0M983.2 349.3h0M983.2 347.5h0M983.3 335.5h0M983.4 330.1h0M983.4 345.4h0M983.5 280.0h0M983.6 349.5h0M983.9 292.3h0M984.3 272.9h0M984.3 313.0h0M984.7 317.1h0M984.7 337.0h0M984.8 314.6h0M985.7 275.2h0M985.9 343.1h0M986.5 294.9h0M987.0 334.1h0M987.3 335.4h0M987.4 277.8h0M987.5 278.0h0M987.5 347.2h0M987.6 338.2h0M987.7 345.0h0M987.9 300.7h0M988.4 327.6h0M988.4 325.5h0M988.5 330.7h0M989.3 335.0h0M989.7 328.4h0M989.7 291.5h0M989.9 331.2h0M990.0 299.3h0M990.1 310.0h0M990.2 296.4h0M990.3 326.8h0M990.4 348.4h0M990.4 325.1h0M990.4 339.0h0M990.7 322.3h0M990.8 289.9h0M990.9 327.0h0M991.0 280.1h0M991.4 300.8h0M991.5 322.3h0M991.8 339.3h0M992.0 349.7h0M992.2 307.3h0M992.9 321.1h0M993.0 274.7h0M993.1 294.4h0M993.2 279.3h0M993.2 321.4h0M993.5 333.3h0M993.8 282.0h0M994.1 327.6h0M994.9 315.3h0M995.0 321.1h0M995.3 270.1h0M995.4 305.3h0M995.5 330.0h0M995.7 301.5h0M996.1 334.3h0M996.1 293.8h0M996.2 283.1h0M996.2 318.5h0M996.3 274.0h0M996.4 324.1h0M996.7 281.5h0M997.1 270.8h0M997.3 305.4h0M998.0 250.2h0M998.1 351.4h0M998.2 277.3h0M998.7 318.9h0M999.0 324.4h0M999.1 331.0h0M999.1 313.6h0M999.7 284.2h0M1000.1 305.8h0M1000.5 307.3h0M1000.7 322.4h0M1000.7 303.7h0M1001.0 306.6h0M1001.2 284.5h0M1001.3 273.5h0M1001.4 321.9h0M1001.4 270.1h0M1001.6 291.6h0M1001.8 288.1h0M1001.8 324.4h0M1002.0 285.0h0M1002.2 331.5h0M1002.4 320.0h0M1002.4 322.1h0M1002.6 313.7h0M1002.7 285.5h0M1002.8 315.7h0M1003.1 285.2h0M1003.4 258.9h0M1003.7 299.1h0M1004.5 318.1h0M1004.7 298.8h0M1005.1 342.7h0M1005.3 265.9h0M1005.4 267.8h0M1005.8 321.1h0M1006.1 341.5h0M1006.3 277.2h0M1006.3 296.1h0M1006.3 297.3h0M1006.3 296.7h0M1006.3 296.5h0M1006.5 269.0h0M1006.6 291.6h0M1006.8 275.1h0M1007.1 313.1h0M1007.3 278.6h0M1007.3 325.6h0M1007.5 305.2h0M1007.7 317.7h0M1007.8 293.6h0M1007.9 285.2h0M1008.1 318.1h0M1008.2 296.2h0M1008.9 297.8h0M1008.9 277.2h0M1009.2 300.8h0M1009.8 323.7h0M1009.8 274.0h0M1009.9 291.4h0M1010.4 313.4h0M1010.5 299.4h0M1010.8 276.0h0M1011.0 292.5h0M1011.2 276.9h0M1011.8 279.4h0M1011.8 272.8h0M1011.8 287.9h0M1012.0 291.2h0M1012.0 306.8h0M1012.8 297.8h0M1013.0 302.6h0M1013.1 285.7h0M1013.6 307.3h0M1013.7 294.6h0M1014.0 311.2h0M1014.2 278.1h0M1014.6 293.6h0M1014.9 272.3h0M1015.1 301.4h0M1015.1 256.6h0M1015.1 274.7h0M1015.1 275.1h0M1015.2 314.2h0M1015.6 305.4h0M1015.8 333.3h0M1016.4 303.4h0M1016.6 319.9h0M1016.7 265.6h0M1017.3 295.4h0M1017.5 316.6h0M1018.0 273.1h0M1018.1 313.7h0M1018.1 310.7h0M1018.2 304.0h0M1018.2 263.1h0M1018.2 287.5h0M1018.6 269.5h0M1019.6 284.1h0M1020.0 297.3h0M1020.1 305.2h0M1020.8 302.7h0M1021.3 299.9h0M1021.6 288.0h0M1021.9 270.4h0M1022.0 255.8h0M1022.2 287.3h0M1022.5 280.4h0M1022.7 305.2h0M1023.2 280.9h0M1023.4 298.5h0M1023.6 284.7h0M1023.8 282.1h0M1024.1 307.5h0M1024.2 269.7h0M1024.3 256.8h0M1024.3 307.1h0M1024.5 299.1h0M1024.6 282.4h0M1024.6 297.5h0M1024.8 264.5h0M1024.9 299.9h0M1024.9 300.0h0M1025.0 291.1h0M1025.1 244.2h0M1025.4 282.4h0M1025.8 307.0h0M1026.0 262.4h0M1026.1 280.0h0M1026.1 300.0h0M1026.4 258.4h0M1026.6 256.9h0M1026.8 271.6h0M1027.0 247.8h0M1027.4 308.4h0M1027.5 270.2h0M1027.6 287.5h0M1027.6 289.2h0M1028.3 309.8h0M1028.3 293.3h0M1028.4 251.5h0M1029.6 282.1h0M1030.1 289.0h0M1030.2 286.4h0M1030.6 307.8h0M1030.9 283.3h0M1031.0 305.3h0M1031.7 303.4h0M1031.9 264.7h0M1032.2 258.7h0M1032.2 295.4h0M1032.8 305.3h0M1033.0 301.4h0M1033.0 253.5h0M1033.3 240.9h0M1033.7 286.1h0M1034.1 287.6h0M1034.2 268.4h0M1034.3 269.7h0M1034.5 303.6h0M1034.6 290.8h0M1034.9 285.5h0M1035.0 238.5h0M1035.8 260.8h0M1035.9 265.5h0M1035.9 296.1h0M1036.0 261.6h0M1036.2 243.3h0M1036.2 271.7h0M1036.3 299.8h0M1036.5 314.9h0M1036.8 294.0h0M1037.1 268.1h0M1037.3 254.8h0M1037.3 282.6h0M1037.4 305.0h0M1037.4 274.2h0M1037.7 305.1h0M1037.7 302.7h0M1038.2 285.0h0M1038.3 262.8h0M1038.6 282.7h0M1038.7 249.2h0M1038.7 281.8h0M1038.9 283.2h0M1038.9 297.9h0M1038.9 273.4h0M1039.0 250.3h0M1039.0 261.7h0M1039.2 224.4h0M1039.5 294.2h0M1039.5 251.5h0M1039.8 305.9h0M1040.1 278.0h0M1040.2 269.4h0M1040.3 278.6h0M1040.5 290.9h0M1040.7 286.0h0M1040.9 242.5h0M1040.9 297.2h0M1041.0 217.9h0M1041.0 297.1h0M1041.1 216.0h0M1042.0 259.4h0M1042.9 306.8h0M1043.0 260.6h0M1043.4 306.6h0M1043.6 246.9h0M1043.7 240.6h0M1044.1 266.3h0M1044.4 214.6h0M1044.7 267.2h0M1045.3 212.3h0M1045.6 301.1h0M1045.6 283.2h0M1046.3 301.8h0M1046.3 304.7h0M1046.7 243.9h0M1046.8 248.0h0M1047.0 256.7h0M1047.0 303.5h0M1047.2 282.3h0M1047.3 263.1h0M1047.5 273.2h0M1047.7 277.6h0M1048.0 253.3h0M1048.4 297.8h0M1048.5 252.1h0M1048.7 300.2h0M1048.9 239.3h0M1049.0 270.5h0M1049.1 292.9h0M1049.9 285.4h0M1050.5 251.7h0M1050.6 254.5h0M1051.0 303.2h0M1051.0 284.6h0M1051.7 240.6h0M1051.7 270.1h0M1052.2 294.7h0M1052.3 235.8h0M1052.6 275.1h0M1052.9 268.9h0M1053.0 267.0h0M1053.1 244.3h0M1053.2 305.5h0M1053.2 260.4h0M1053.3 284.0h0M1053.6 275.8h0M1054.3 267.5h0M1054.5 264.3h0M1054.6 248.5h0M1054.7 254.0h0M1054.9 297.4h0M1056.2 295.3h0M1056.3 292.8h0M1056.5 276.1h0M1056.5 258.7h0M1056.6 248.3h0M1056.6 204.9h0M1056.8 232.7h0M1056.8 237.9h0M1056.8 269.2h0M1057.2 237.9h0M1057.4 280.3h0M1057.6 269.9h0M1057.6 277.4h0M1057.7 287.5h0M1058.5 277.3h0M1058.7 226.1h0M1059.0 229.1h0M1059.0 250.2h0M1059.3 264.2h0M1059.8 246.5h0M1060.0 284.4h0M1060.2 240.8h0M1060.2 299.8h0M1060.6 270.3h0M1060.8 249.3h0M1060.8 276.5h0M1061.1 287.0h0M1061.1 268.9h0M1061.6 231.4h0M1061.8 263.1h0M1061.9 224.0h0M1062.0 277.3h0M1062.4 199.2h0M1062.5 279.6h0M1062.5 199.3h0M1062.9 287.8h0M1063.8 250.3h0M1063.8 243.5h0M1063.8 256.4h0M1063.9 270.7h0M1064.2 279.2h0M1064.4 280.1h0M1064.4 288.3h0M1064.4 222.9h0M1064.5 249.1h0M1064.7 292.8h0M1064.9 220.7h0M1065.0 242.4h0M1065.3 243.7h0M1065.5 281.2h0M1065.6 280.8h0M1065.9 238.7h0M1066.1 258.4h0M1066.1 233.9h0M1066.1 249.5h0M1066.3 290.8h0M1066.5 261.5h0M1067.1 235.4h0M1067.4 268.4h0M1068.1 219.2h0M1068.1 236.3h0M1068.2 195.6h0M1068.2 270.8h0M1068.4 245.8h0M1068.5 261.8h0M1068.7 253.6h0M1068.7 289.7h0M1068.9 254.2h0M1069.0 294.3h0M1069.6 272.5h0M1069.7 229.7h0M1070.0 261.9h0M1070.1 291.0h0M1070.1 286.4h0M1070.1 248.1h0M1070.5 287.8h0M1070.6 266.9h0M1070.7 269.3h0M1070.8 261.9h0M1070.9 238.0h0M1070.9 266.6h0M1071.2 250.8h0M1071.4 250.0h0M1072.0 266.2h0M1072.1 226.7h0M1072.1 258.5h0M1072.3 309.1h0M1072.3 239.3h0M1072.4 210.8h0M1072.4 253.8h0M1073.2 279.8h0M1073.5 253.5h0M1073.6 209.2h0M1073.7 265.0h0M1074.1 282.8h0M1074.5 260.6h0M1074.6 278.7h0M1075.5 235.2h0M1075.5 261.0h0M1075.9 222.5h0M1076.0 263.4h0M1076.2 222.7h0M1076.3 186.8h0M1076.3 273.8h0M1076.3 225.2h0M1076.3 219.0h0M1076.4 263.7h0M1076.5 274.3h0M1076.5 243.9h0M1076.7 248.2h0M1077.2 278.4h0M1077.4 207.0h0M1077.4 233.9h0M1077.6 274.4h0M1077.9 227.8h0M1078.0 262.0h0M1078.1 307.3h0M1078.3 282.1h0M1078.3 198.2h0M1078.5 234.1h0M1078.7 286.2h0M1078.9 261.5h0M1079.1 281.2h0M1079.2 260.2h0M1079.6 278.2h0M1079.7 225.7h0M1080.0 230.9h0M1080.1 206.7h0M1081.0 260.3h0M1081.5 253.8h0M1081.7 219.1h0M1081.9 243.5h0M1081.9 213.9h0M1082.2 262.6h0M1082.4 240.9h0M1082.4 222.6h0M1082.7 226.0h0M1082.8 236.3h0M1082.9 277.2h0M1082.9 275.7h0M1083.0 279.2h0M1083.0 275.2h0M1083.3 232.9h0M1083.3 285.6h0M1083.5 267.6h0M1083.8 243.8h0M1084.3 209.7h0M1084.4 251.6h0M1084.6 257.6h0M1084.7 234.6h0M1084.7 204.3h0M1084.8 279.9h0M1084.9 260.0h0M1085.4 279.7h0M1085.4 232.5h0M1085.6 238.8h0M1085.9 214.9h0M1086.8 267.9h0M1086.8 225.8h0M1087.2 227.8h0M1087.3 215.9h0M1087.3 233.8h0M1087.4 197.6h0M1087.5 260.4h0M1087.5 231.4h0M1087.6 226.8h0M1087.6 279.5h0M1087.7 277.6h0M1087.9 278.4h0M1087.9 212.6h0M1088.5 206.6h0M1088.6 283.1h0M1088.9 248.8h0" stroke="#76fa6e" stroke-width="4.6" stroke-linecap="round" fill="none"/>
<path d="M902.0 364.0h0M905.0 362.0h0M917.0 344.0h0M918.0 338.0h0M920.0 335.0h0M919.0 347.0h0M1088.0 178.0h0M1087.0 186.0h0" stroke="#76fa6e" stroke-width="4.6" stroke-linecap="round" fill="none"/>
<path d="M670.0 658.0L685.0 656.3L702.1 652.9L719.2 648.7L736.3 642.8L753.3 637.7L767.0 634.3L778.4 630.9L796.8 627.2L815.1 621.8L820.0 622.5L831.8 621.3L837.7 617.7L843.6 609.5L847.2 602.6L850.7 595.6L855.4 586.4L861.3 579.6L867.2 574.0L873.1 567.4L879.0 563.1L886.8 559.3L896.0 550.7L905.1 543.7L914.3 536.4L923.5 530.6L932.7 523.6L941.9 516.5L949.3 511.5L961.0 505.0L975.0 495.0L995.0 485.7L1012.0 473.2L1029.1 461.6L1046.2 455.0L1063.3 446.6L1080.3 437.1L1090.0 433.4L1090.0 451.9L1080.3 456.7L1063.3 464.4L1046.2 473.0L1029.1 480.0L1012.0 490.7L995.0 500.2L975.0 511.0L961.0 521.8L949.3 527.6L941.9 531.5L932.7 537.5L923.5 543.4L914.3 550.4L905.1 558.0L896.0 563.7L886.8 569.9L879.0 573.9L873.1 577.5L867.2 583.8L861.3 590.0L855.4 599.8L850.7 608.4L847.2 615.4L843.6 621.5L837.7 627.6L831.8 629.9L820.0 634.5L815.1 633.7L796.8 637.5L778.4 639.6L767.0 643.7L753.3 647.1L736.3 652.2L719.2 656.6L702.1 660.0L685.0 662.6L670.0 664.3Z" fill="#5c70fa"/>
<path d="M671.4 658.2l2.7 4.6h-5.3zM672.6 656.9l2.7 4.6h-5.3zM677.2 656.0l2.7 4.6h-5.3zM679.6 658.5l2.7 4.6h-5.3zM679.7 657.2l2.7 4.6h-5.3zM683.5 658.7l2.7 4.6h-5.3zM685.3 659.5l2.7 4.6h-5.3zM687.1 658.2l2.7 4.6h-5.3zM688.6 660.2l2.7 4.6h-5.3zM689.9 658.2l2.7 4.6h-5.3zM690.0 654.9l2.7 4.6h-5.3zM691.5 656.3l2.7 4.6h-5.3zM696.0 659.3l2.7 4.6h-5.3zM697.4 652.6l2.7 4.6h-5.3zM698.4 653.4l2.7 4.6h-5.3zM705.4 655.9l2.7 4.6h-5.3zM705.6 650.8l2.7 4.6h-5.3zM705.9 655.6l2.7 4.6h-5.3zM707.9 652.0l2.7 4.6h-5.3zM712.1 652.7l2.7 4.6h-5.3zM716.1 654.4l2.7 4.6h-5.3zM717.9 651.3l2.7 4.6h-5.3zM718.5 649.5l2.7 4.6h-5.3zM718.9 648.5l2.7 4.6h-5.3zM719.2 648.5l2.7 4.6h-5.3zM721.0 649.8l2.7 4.6h-5.3zM721.5 644.3l2.7 4.6h-5.3zM722.6 645.8l2.7 4.6h-5.3zM726.2 645.5l2.7 4.6h-5.3zM726.4 644.0l2.7 4.6h-5.3zM727.6 645.2l2.7 4.6h-5.3zM729.7 644.3l2.7 4.6h-5.3zM729.8 650.2l2.7 4.6h-5.3zM731.8 648.4l2.7 4.6h-5.3zM734.8 649.2l2.7 4.6h-5.3zM739.2 644.0l2.7 4.6h-5.3zM740.5 642.2l2.7 4.6h-5.3zM741.1 647.1l2.7 4.6h-5.3zM741.8 643.9l2.7 4.6h-5.3zM742.7 639.3l2.7 4.6h-5.3zM743.1 644.2l2.7 4.6h-5.3zM747.0 642.2l2.7 4.6h-5.3zM747.6 640.0l2.7 4.6h-5.3zM750.2 643.2l2.7 4.6h-5.3zM751.0 641.5l2.7 4.6h-5.3zM753.3 639.9l2.7 4.6h-5.3zM753.3 636.1l2.7 4.6h-5.3zM755.1 637.1l2.7 4.6h-5.3zM755.7 643.2l2.7 4.6h-5.3zM756.4 644.7l2.7 4.6h-5.3zM756.8 639.7l2.7 4.6h-5.3zM758.8 640.0l2.7 4.6h-5.3zM761.5 639.0l2.7 4.6h-5.3zM761.7 640.1l2.7 4.6h-5.3zM763.0 639.2l2.7 4.6h-5.3zM764.3 638.1l2.7 4.6h-5.3zM766.1 635.9l2.7 4.6h-5.3zM771.5 638.7l2.7 4.6h-5.3zM772.8 632.9l2.7 4.6h-5.3zM774.7 637.5l2.7 4.6h-5.3zM775.0 638.8l2.7 4.6h-5.3zM775.7 631.4l2.7 4.6h-5.3zM776.4 632.9l2.7 4.6h-5.3zM776.7 627.8l2.7 4.6h-5.3zM776.8 631.4l2.7 4.6h-5.3zM778.9 636.8l2.7 4.6h-5.3zM779.6 630.9l2.7 4.6h-5.3zM781.0 632.9l2.7 4.6h-5.3zM784.5 629.9l2.7 4.6h-5.3zM786.5 627.8l2.7 4.6h-5.3zM788.2 628.4l2.7 4.6h-5.3zM788.9 637.0l2.7 4.6h-5.3zM789.2 636.8l2.7 4.6h-5.3zM789.8 629.5l2.7 4.6h-5.3zM791.5 625.2l2.7 4.6h-5.3zM792.3 625.0l2.7 4.6h-5.3zM794.6 632.1l2.7 4.6h-5.3zM796.2 626.5l2.7 4.6h-5.3zM797.8 623.1l2.7 4.6h-5.3zM798.6 629.4l2.7 4.6h-5.3zM800.2 627.2l2.7 4.6h-5.3zM800.7 625.3l2.7 4.6h-5.3zM802.4 629.7l2.7 4.6h-5.3zM804.5 621.0l2.7 4.6h-5.3zM805.3 632.3l2.7 4.6h-5.3zM806.5 626.7l2.7 4.6h-5.3zM806.8 630.7l2.7 4.6h-5.3zM808.5 623.7l2.7 4.6h-5.3zM808.6 627.3l2.7 4.6h-5.3zM810.0 630.3l2.7 4.6h-5.3zM810.9 627.3l2.7 4.6h-5.3zM811.0 628.2l2.7 4.6h-5.3zM812.8 629.9l2.7 4.6h-5.3zM815.6 630.1l2.7 4.6h-5.3zM816.1 623.9l2.7 4.6h-5.3zM817.2 623.3l2.7 4.6h-5.3zM817.3 630.9l2.7 4.6h-5.3zM819.3 623.3l2.7 4.6h-5.3zM819.4 626.9l2.7 4.6h-5.3zM821.3 621.4l2.7 4.6h-5.3zM821.9 627.3l2.7 4.6h-5.3zM824.7 623.7l2.7 4.6h-5.3zM825.5 627.9l2.7 4.6h-5.3zM828.4 626.6l2.7 4.6h-5.3zM829.6 619.5l2.7 4.6h-5.3zM830.3 628.1l2.7 4.6h-5.3zM831.7 625.4l2.7 4.6h-5.3zM831.8 627.0l2.7 4.6h-5.3zM832.1 625.3l2.7 4.6h-5.3zM833.7 617.6l2.7 4.6h-5.3zM833.9 627.0l2.7 4.6h-5.3zM835.7 625.7l2.7 4.6h-5.3zM835.8 620.2l2.7 4.6h-5.3zM836.7 622.5l2.7 4.6h-5.3zM837.6 616.8l2.7 4.6h-5.3zM838.2 621.7l2.7 4.6h-5.3zM840.0 615.6l2.7 4.6h-5.3zM841.9 613.2l2.7 4.6h-5.3zM842.6 610.7l2.7 4.6h-5.3zM843.5 617.8l2.7 4.6h-5.3zM843.7 616.8l2.7 4.6h-5.3zM843.7 615.6l2.7 4.6h-5.3zM844.6 611.2l2.7 4.6h-5.3zM844.7 611.3l2.7 4.6h-5.3zM846.4 609.7l2.7 4.6h-5.3zM846.6 615.9l2.7 4.6h-5.3zM846.7 611.5l2.7 4.6h-5.3zM848.3 601.3l2.7 4.6h-5.3zM848.6 608.2l2.7 4.6h-5.3zM849.7 594.3l2.7 4.6h-5.3zM850.7 599.5l2.7 4.6h-5.3zM850.8 606.3l2.7 4.6h-5.3zM851.2 605.6l2.7 4.6h-5.3zM851.9 610.0l2.7 4.6h-5.3zM852.0 592.0l2.7 4.6h-5.3zM852.3 588.4l2.7 4.6h-5.3zM852.7 605.3l2.7 4.6h-5.3zM853.1 594.8l2.7 4.6h-5.3zM854.2 589.5l2.7 4.6h-5.3zM854.7 588.3l2.7 4.6h-5.3zM855.0 595.7l2.7 4.6h-5.3zM855.6 594.9l2.7 4.6h-5.3zM855.6 590.5l2.7 4.6h-5.3zM856.4 595.5l2.7 4.6h-5.3zM856.7 581.4l2.7 4.6h-5.3zM857.7 585.9l2.7 4.6h-5.3zM858.7 590.7l2.7 4.6h-5.3zM858.8 581.3l2.7 4.6h-5.3zM858.9 589.8l2.7 4.6h-5.3zM859.6 583.4l2.7 4.6h-5.3zM859.9 584.1l2.7 4.6h-5.3zM861.2 587.1l2.7 4.6h-5.3zM861.7 573.9l2.7 4.6h-5.3zM861.9 575.8l2.7 4.6h-5.3zM865.1 579.6l2.7 4.6h-5.3zM865.5 578.2l2.7 4.6h-5.3zM866.4 572.2l2.7 4.6h-5.3zM867.2 574.5l2.7 4.6h-5.3zM867.4 575.3l2.7 4.6h-5.3zM867.7 582.6l2.7 4.6h-5.3zM868.1 577.4l2.7 4.6h-5.3zM869.5 576.2l2.7 4.6h-5.3zM871.0 578.7l2.7 4.6h-5.3zM871.5 571.0l2.7 4.6h-5.3zM871.6 577.4l2.7 4.6h-5.3zM872.0 571.1l2.7 4.6h-5.3zM872.2 568.7l2.7 4.6h-5.3zM873.2 571.9l2.7 4.6h-5.3zM873.2 576.6l2.7 4.6h-5.3zM873.2 566.7l2.7 4.6h-5.3zM873.7 571.4l2.7 4.6h-5.3zM874.1 565.9l2.7 4.6h-5.3zM874.6 560.4l2.7 4.6h-5.3zM874.6 562.4l2.7 4.6h-5.3zM875.8 573.1l2.7 4.6h-5.3zM875.8 561.6l2.7 4.6h-5.3zM875.9 573.0l2.7 4.6h-5.3zM875.9 565.6l2.7 4.6h-5.3zM877.4 568.5l2.7 4.6h-5.3zM878.0 572.7l2.7 4.6h-5.3zM878.5 565.8l2.7 4.6h-5.3zM878.5 562.3l2.7 4.6h-5.3zM878.9 565.7l2.7 4.6h-5.3zM879.6 564.1l2.7 4.6h-5.3zM879.8 566.2l2.7 4.6h-5.3zM880.6 561.1l2.7 4.6h-5.3zM880.8 567.6l2.7 4.6h-5.3zM880.8 573.0l2.7 4.6h-5.3zM880.8 568.7l2.7 4.6h-5.3zM881.3 560.2l2.7 4.6h-5.3zM882.3 569.3l2.7 4.6h-5.3zM882.7 568.9l2.7 4.6h-5.3zM883.5 566.6l2.7 4.6h-5.3zM884.0 558.4l2.7 4.6h-5.3zM884.2 560.0l2.7 4.6h-5.3zM885.8 566.0l2.7 4.6h-5.3zM886.9 561.3l2.7 4.6h-5.3zM887.6 560.2l2.7 4.6h-5.3zM888.2 553.3l2.7 4.6h-5.3zM888.6 559.7l2.7 4.6h-5.3zM889.6 551.1l2.7 4.6h-5.3zM890.0 557.4l2.7 4.6h-5.3zM890.6 564.1l2.7 4.6h-5.3zM891.3 565.6l2.7 4.6h-5.3zM891.6 565.1l2.7 4.6h-5.3zM892.3 560.0l2.7 4.6h-5.3zM892.9 563.2l2.7 4.6h-5.3zM893.0 552.9l2.7 4.6h-5.3zM893.0 551.3l2.7 4.6h-5.3zM893.1 550.3l2.7 4.6h-5.3zM893.6 546.7l2.7 4.6h-5.3zM894.4 562.5l2.7 4.6h-5.3zM895.3 545.7l2.7 4.6h-5.3zM896.3 557.6l2.7 4.6h-5.3zM896.3 551.1l2.7 4.6h-5.3zM896.5 552.0l2.7 4.6h-5.3zM896.5 558.7l2.7 4.6h-5.3zM896.8 554.9l2.7 4.6h-5.3zM897.5 557.9l2.7 4.6h-5.3zM898.0 551.3l2.7 4.6h-5.3zM898.1 549.2l2.7 4.6h-5.3zM898.5 565.3l2.7 4.6h-5.3zM898.8 549.7l2.7 4.6h-5.3zM899.3 545.6l2.7 4.6h-5.3zM899.7 547.1l2.7 4.6h-5.3zM900.3 551.0l2.7 4.6h-5.3zM900.3 540.8l2.7 4.6h-5.3zM900.4 554.9l2.7 4.6h-5.3zM900.6 550.1l2.7 4.6h-5.3zM901.4 556.9l2.7 4.6h-5.3zM901.6 544.7l2.7 4.6h-5.3zM901.9 563.8l2.7 4.6h-5.3zM902.2 546.7l2.7 4.6h-5.3zM902.5 543.1l2.7 4.6h-5.3zM903.2 545.4l2.7 4.6h-5.3zM905.2 547.2l2.7 4.6h-5.3zM905.3 540.5l2.7 4.6h-5.3zM906.3 555.8l2.7 4.6h-5.3zM906.4 540.9l2.7 4.6h-5.3zM907.6 542.8l2.7 4.6h-5.3zM907.6 539.9l2.7 4.6h-5.3zM907.9 556.8l2.7 4.6h-5.3zM909.1 545.5l2.7 4.6h-5.3zM909.4 552.3l2.7 4.6h-5.3zM909.5 538.0l2.7 4.6h-5.3zM909.6 535.9l2.7 4.6h-5.3zM909.9 546.0l2.7 4.6h-5.3zM910.2 540.5l2.7 4.6h-5.3zM910.4 548.1l2.7 4.6h-5.3zM910.4 554.9l2.7 4.6h-5.3zM910.7 545.6l2.7 4.6h-5.3zM911.3 552.3l2.7 4.6h-5.3zM911.6 541.4l2.7 4.6h-5.3zM911.9 550.7l2.7 4.6h-5.3zM912.2 539.5l2.7 4.6h-5.3zM913.3 540.3l2.7 4.6h-5.3zM913.4 547.7l2.7 4.6h-5.3zM913.5 533.6l2.7 4.6h-5.3zM914.6 542.3l2.7 4.6h-5.3zM914.7 541.0l2.7 4.6h-5.3zM915.1 536.2l2.7 4.6h-5.3zM915.6 545.6l2.7 4.6h-5.3zM915.8 535.0l2.7 4.6h-5.3zM916.2 551.1l2.7 4.6h-5.3zM917.1 538.4l2.7 4.6h-5.3zM917.1 532.8l2.7 4.6h-5.3zM917.5 538.2l2.7 4.6h-5.3zM917.5 529.3l2.7 4.6h-5.3zM917.6 543.3l2.7 4.6h-5.3zM917.7 536.2l2.7 4.6h-5.3zM918.1 539.4l2.7 4.6h-5.3zM919.5 548.8l2.7 4.6h-5.3zM919.8 526.1l2.7 4.6h-5.3zM920.3 542.5l2.7 4.6h-5.3zM921.4 530.7l2.7 4.6h-5.3zM921.8 538.0l2.7 4.6h-5.3zM922.3 530.7l2.7 4.6h-5.3zM923.8 528.5l2.7 4.6h-5.3zM924.0 544.8l2.7 4.6h-5.3zM924.3 539.7l2.7 4.6h-5.3zM924.5 535.9l2.7 4.6h-5.3zM924.6 534.1l2.7 4.6h-5.3zM925.1 541.1l2.7 4.6h-5.3zM926.6 522.9l2.7 4.6h-5.3zM927.2 527.4l2.7 4.6h-5.3zM927.4 528.2l2.7 4.6h-5.3zM927.9 537.0l2.7 4.6h-5.3zM929.0 532.5l2.7 4.6h-5.3zM929.4 531.7l2.7 4.6h-5.3zM929.5 530.3l2.7 4.6h-5.3zM930.3 527.7l2.7 4.6h-5.3zM930.4 534.7l2.7 4.6h-5.3zM930.5 536.7l2.7 4.6h-5.3zM930.6 527.8l2.7 4.6h-5.3zM930.8 521.6l2.7 4.6h-5.3zM930.9 524.2l2.7 4.6h-5.3zM931.0 525.2l2.7 4.6h-5.3zM931.4 541.3l2.7 4.6h-5.3zM931.9 534.6l2.7 4.6h-5.3zM932.3 541.8l2.7 4.6h-5.3zM933.3 536.1l2.7 4.6h-5.3zM933.5 538.1l2.7 4.6h-5.3zM933.8 536.7l2.7 4.6h-5.3zM934.3 516.0l2.7 4.6h-5.3zM934.4 526.1l2.7 4.6h-5.3zM935.3 529.8l2.7 4.6h-5.3zM935.6 532.3l2.7 4.6h-5.3zM935.9 528.1l2.7 4.6h-5.3zM936.2 521.4l2.7 4.6h-5.3zM936.8 517.1l2.7 4.6h-5.3zM937.1 531.9l2.7 4.6h-5.3zM937.1 524.4l2.7 4.6h-5.3zM938.0 529.3l2.7 4.6h-5.3zM938.1 529.5l2.7 4.6h-5.3zM938.6 533.3l2.7 4.6h-5.3zM938.7 526.8l2.7 4.6h-5.3zM938.7 536.1l2.7 4.6h-5.3zM939.4 522.9l2.7 4.6h-5.3zM939.5 520.7l2.7 4.6h-5.3zM940.2 524.5l2.7 4.6h-5.3zM940.8 513.2l2.7 4.6h-5.3zM941.4 526.3l2.7 4.6h-5.3zM942.9 511.7l2.7 4.6h-5.3zM943.0 512.5l2.7 4.6h-5.3zM943.1 525.2l2.7 4.6h-5.3zM943.8 525.9l2.7 4.6h-5.3zM944.4 530.8l2.7 4.6h-5.3zM944.5 513.3l2.7 4.6h-5.3zM944.6 529.6l2.7 4.6h-5.3zM944.7 528.3l2.7 4.6h-5.3zM944.8 526.2l2.7 4.6h-5.3zM946.1 512.4l2.7 4.6h-5.3zM946.3 510.1l2.7 4.6h-5.3zM946.4 510.0l2.7 4.6h-5.3zM946.8 513.4l2.7 4.6h-5.3zM947.1 516.8l2.7 4.6h-5.3zM947.3 525.0l2.7 4.6h-5.3zM947.7 515.4l2.7 4.6h-5.3zM948.1 524.2l2.7 4.6h-5.3zM948.2 522.5l2.7 4.6h-5.3zM948.5 519.4l2.7 4.6h-5.3zM948.6 515.8l2.7 4.6h-5.3zM949.4 523.9l2.7 4.6h-5.3zM949.9 516.6l2.7 4.6h-5.3zM950.1 514.7l2.7 4.6h-5.3zM951.0 501.9l2.7 4.6h-5.3zM951.1 512.5l2.7 4.6h-5.3zM951.2 512.7l2.7 4.6h-5.3zM951.4 512.8l2.7 4.6h-5.3zM952.3 507.4l2.7 4.6h-5.3zM952.5 511.9l2.7 4.6h-5.3zM952.8 508.7l2.7 4.6h-5.3zM953.0 510.7l2.7 4.6h-5.3zM953.4 506.7l2.7 4.6h-5.3zM953.5 506.7l2.7 4.6h-5.3zM953.7 514.3l2.7 4.6h-5.3zM953.9 518.5l2.7 4.6h-5.3zM954.0 520.7l2.7 4.6h-5.3zM954.1 506.1l2.7 4.6h-5.3zM955.3 516.9l2.7 4.6h-5.3zM955.5 504.3l2.7 4.6h-5.3zM955.9 516.5l2.7 4.6h-5.3zM956.1 522.6l2.7 4.6h-5.3zM956.5 525.5l2.7 4.6h-5.3zM956.6 512.9l2.7 4.6h-5.3zM956.7 509.8l2.7 4.6h-5.3zM957.2 508.8l2.7 4.6h-5.3zM957.4 517.7l2.7 4.6h-5.3zM957.7 512.5l2.7 4.6h-5.3zM957.9 517.4l2.7 4.6h-5.3zM958.9 511.2l2.7 4.6h-5.3zM959.6 506.5l2.7 4.6h-5.3zM959.9 502.8l2.7 4.6h-5.3zM960.3 525.5l2.7 4.6h-5.3zM960.5 507.2l2.7 4.6h-5.3zM961.0 513.2l2.7 4.6h-5.3zM961.0 501.3l2.7 4.6h-5.3zM961.4 514.1l2.7 4.6h-5.3zM962.6 507.2l2.7 4.6h-5.3zM963.4 508.8l2.7 4.6h-5.3zM963.5 501.5l2.7 4.6h-5.3zM964.0 509.2l2.7 4.6h-5.3zM964.3 511.6l2.7 4.6h-5.3zM964.7 511.6l2.7 4.6h-5.3zM964.7 515.4l2.7 4.6h-5.3zM964.7 516.3l2.7 4.6h-5.3zM964.9 516.5l2.7 4.6h-5.3zM965.2 494.4l2.7 4.6h-5.3zM966.1 514.3l2.7 4.6h-5.3zM966.1 506.0l2.7 4.6h-5.3zM966.2 509.8l2.7 4.6h-5.3zM966.3 507.7l2.7 4.6h-5.3zM966.7 499.7l2.7 4.6h-5.3zM967.5 499.9l2.7 4.6h-5.3zM967.7 509.9l2.7 4.6h-5.3zM968.3 502.6l2.7 4.6h-5.3zM968.7 517.2l2.7 4.6h-5.3zM968.9 506.3l2.7 4.6h-5.3zM969.1 503.8l2.7 4.6h-5.3zM969.3 507.5l2.7 4.6h-5.3zM969.3 499.9l2.7 4.6h-5.3zM969.4 491.7l2.7 4.6h-5.3zM969.9 503.0l2.7 4.6h-5.3zM970.7 515.8l2.7 4.6h-5.3zM970.7 505.9l2.7 4.6h-5.3zM970.9 505.7l2.7 4.6h-5.3zM972.8 515.6l2.7 4.6h-5.3zM973.0 504.0l2.7 4.6h-5.3zM974.2 503.4l2.7 4.6h-5.3zM974.3 490.6l2.7 4.6h-5.3zM974.4 504.3l2.7 4.6h-5.3zM974.5 498.2l2.7 4.6h-5.3zM974.9 493.7l2.7 4.6h-5.3zM974.9 496.0l2.7 4.6h-5.3zM975.6 500.2l2.7 4.6h-5.3zM976.1 494.5l2.7 4.6h-5.3zM976.5 499.5l2.7 4.6h-5.3zM976.5 512.4l2.7 4.6h-5.3zM976.6 493.7l2.7 4.6h-5.3zM976.9 508.4l2.7 4.6h-5.3zM978.0 506.5l2.7 4.6h-5.3zM978.5 494.8l2.7 4.6h-5.3zM979.7 505.6l2.7 4.6h-5.3zM980.2 487.3l2.7 4.6h-5.3zM980.6 504.3l2.7 4.6h-5.3zM981.2 505.6l2.7 4.6h-5.3zM981.2 508.7l2.7 4.6h-5.3zM981.5 505.3l2.7 4.6h-5.3zM981.9 495.7l2.7 4.6h-5.3zM982.0 497.6l2.7 4.6h-5.3zM982.4 485.6l2.7 4.6h-5.3zM982.6 507.5l2.7 4.6h-5.3zM983.0 498.1l2.7 4.6h-5.3zM983.7 487.2l2.7 4.6h-5.3zM984.5 497.4l2.7 4.6h-5.3zM984.8 506.8l2.7 4.6h-5.3zM985.0 486.8l2.7 4.6h-5.3zM985.3 496.2l2.7 4.6h-5.3zM985.6 486.0l2.7 4.6h-5.3zM986.0 504.8l2.7 4.6h-5.3zM986.1 485.0l2.7 4.6h-5.3zM987.1 498.9l2.7 4.6h-5.3zM987.1 496.0l2.7 4.6h-5.3zM987.5 484.5l2.7 4.6h-5.3zM987.6 499.4l2.7 4.6h-5.3zM987.7 483.7l2.7 4.6h-5.3zM987.9 502.0l2.7 4.6h-5.3zM988.0 499.4l2.7 4.6h-5.3zM988.2 497.4l2.7 4.6h-5.3zM988.4 483.8l2.7 4.6h-5.3zM988.6 485.6l2.7 4.6h-5.3zM988.9 499.6l2.7 4.6h-5.3zM989.0 490.3l2.7 4.6h-5.3zM989.4 487.6l2.7 4.6h-5.3zM989.7 483.4l2.7 4.6h-5.3zM990.3 503.3l2.7 4.6h-5.3zM990.4 486.9l2.7 4.6h-5.3zM991.9 494.3l2.7 4.6h-5.3zM992.7 495.8l2.7 4.6h-5.3zM993.3 493.8l2.7 4.6h-5.3zM994.8 500.0l2.7 4.6h-5.3zM994.8 497.9l2.7 4.6h-5.3zM995.5 479.6l2.7 4.6h-5.3zM995.6 487.5l2.7 4.6h-5.3zM995.7 482.2l2.7 4.6h-5.3zM996.7 502.3l2.7 4.6h-5.3zM996.9 486.6l2.7 4.6h-5.3zM997.0 484.4l2.7 4.6h-5.3zM998.1 486.7l2.7 4.6h-5.3zM998.2 495.9l2.7 4.6h-5.3zM998.3 479.0l2.7 4.6h-5.3zM1000.1 495.2l2.7 4.6h-5.3zM1000.5 480.9l2.7 4.6h-5.3zM1000.6 477.4l2.7 4.6h-5.3zM1002.1 475.6l2.7 4.6h-5.3zM1003.0 475.8l2.7 4.6h-5.3zM1003.4 483.6l2.7 4.6h-5.3zM1004.8 490.6l2.7 4.6h-5.3zM1005.0 492.7l2.7 4.6h-5.3zM1005.3 476.6l2.7 4.6h-5.3zM1005.4 483.7l2.7 4.6h-5.3zM1005.6 487.4l2.7 4.6h-5.3zM1005.7 475.8l2.7 4.6h-5.3zM1006.2 484.0l2.7 4.6h-5.3zM1006.2 474.7l2.7 4.6h-5.3zM1006.5 483.5l2.7 4.6h-5.3zM1006.5 479.4l2.7 4.6h-5.3zM1006.9 490.7l2.7 4.6h-5.3zM1007.1 473.0l2.7 4.6h-5.3zM1007.4 481.9l2.7 4.6h-5.3zM1007.5 467.9l2.7 4.6h-5.3zM1007.6 473.4l2.7 4.6h-5.3zM1007.6 467.7l2.7 4.6h-5.3zM1007.7 476.1l2.7 4.6h-5.3zM1007.8 478.3l2.7 4.6h-5.3zM1008.1 481.4l2.7 4.6h-5.3zM1008.5 491.0l2.7 4.6h-5.3zM1008.6 490.3l2.7 4.6h-5.3zM1009.4 483.5l2.7 4.6h-5.3zM1009.5 491.7l2.7 4.6h-5.3zM1009.9 490.4l2.7 4.6h-5.3zM1010.3 474.5l2.7 4.6h-5.3zM1010.6 491.6l2.7 4.6h-5.3zM1010.7 476.5l2.7 4.6h-5.3zM1011.2 470.5l2.7 4.6h-5.3zM1011.5 464.3l2.7 4.6h-5.3zM1012.2 480.1l2.7 4.6h-5.3zM1012.6 471.7l2.7 4.6h-5.3zM1012.9 466.9l2.7 4.6h-5.3zM1012.9 462.5l2.7 4.6h-5.3zM1013.0 481.3l2.7 4.6h-5.3zM1013.8 471.9l2.7 4.6h-5.3zM1014.0 485.9l2.7 4.6h-5.3zM1014.5 471.3l2.7 4.6h-5.3zM1014.5 475.8l2.7 4.6h-5.3zM1014.5 473.8l2.7 4.6h-5.3zM1014.8 487.9l2.7 4.6h-5.3zM1014.9 487.3l2.7 4.6h-5.3zM1015.0 477.8l2.7 4.6h-5.3zM1016.1 486.4l2.7 4.6h-5.3zM1016.2 476.4l2.7 4.6h-5.3zM1016.8 488.3l2.7 4.6h-5.3zM1016.8 467.1l2.7 4.6h-5.3zM1017.4 483.9l2.7 4.6h-5.3zM1018.0 480.6l2.7 4.6h-5.3zM1018.3 475.4l2.7 4.6h-5.3zM1018.8 485.0l2.7 4.6h-5.3zM1019.7 476.1l2.7 4.6h-5.3zM1020.7 465.5l2.7 4.6h-5.3zM1021.5 462.9l2.7 4.6h-5.3zM1022.0 462.6l2.7 4.6h-5.3zM1022.1 481.6l2.7 4.6h-5.3zM1022.2 462.2l2.7 4.6h-5.3zM1022.4 461.3l2.7 4.6h-5.3zM1022.4 472.0l2.7 4.6h-5.3zM1022.4 466.2l2.7 4.6h-5.3zM1023.7 463.2l2.7 4.6h-5.3zM1023.8 455.3l2.7 4.6h-5.3zM1023.8 470.8l2.7 4.6h-5.3zM1024.2 468.5l2.7 4.6h-5.3zM1024.3 480.2l2.7 4.6h-5.3zM1024.5 462.7l2.7 4.6h-5.3zM1024.6 466.7l2.7 4.6h-5.3zM1024.8 472.9l2.7 4.6h-5.3zM1025.6 466.3l2.7 4.6h-5.3zM1025.9 457.1l2.7 4.6h-5.3zM1025.9 472.7l2.7 4.6h-5.3zM1026.5 462.2l2.7 4.6h-5.3zM1026.6 480.2l2.7 4.6h-5.3zM1026.8 459.4l2.7 4.6h-5.3zM1026.8 464.6l2.7 4.6h-5.3zM1027.4 466.2l2.7 4.6h-5.3zM1027.6 462.6l2.7 4.6h-5.3zM1027.8 465.0l2.7 4.6h-5.3zM1027.9 475.7l2.7 4.6h-5.3zM1028.2 458.9l2.7 4.6h-5.3zM1028.2 460.4l2.7 4.6h-5.3zM1028.8 469.4l2.7 4.6h-5.3zM1029.2 460.8l2.7 4.6h-5.3zM1029.4 457.9l2.7 4.6h-5.3zM1029.6 468.7l2.7 4.6h-5.3zM1030.2 464.8l2.7 4.6h-5.3zM1030.2 471.8l2.7 4.6h-5.3zM1030.2 467.5l2.7 4.6h-5.3zM1031.0 476.5l2.7 4.6h-5.3zM1031.7 465.0l2.7 4.6h-5.3zM1031.7 456.5l2.7 4.6h-5.3zM1031.9 457.5l2.7 4.6h-5.3zM1032.0 471.2l2.7 4.6h-5.3zM1033.3 480.5l2.7 4.6h-5.3zM1033.5 464.1l2.7 4.6h-5.3zM1033.7 471.4l2.7 4.6h-5.3zM1034.0 471.2l2.7 4.6h-5.3zM1034.0 455.7l2.7 4.6h-5.3zM1034.1 459.0l2.7 4.6h-5.3zM1034.3 452.8l2.7 4.6h-5.3zM1034.6 473.4l2.7 4.6h-5.3zM1034.8 466.7l2.7 4.6h-5.3zM1034.9 474.6l2.7 4.6h-5.3zM1035.0 455.4l2.7 4.6h-5.3zM1035.2 464.4l2.7 4.6h-5.3zM1035.6 474.0l2.7 4.6h-5.3zM1035.6 482.6l2.7 4.6h-5.3zM1036.5 480.8l2.7 4.6h-5.3zM1037.2 464.5l2.7 4.6h-5.3zM1037.4 459.8l2.7 4.6h-5.3zM1037.4 459.6l2.7 4.6h-5.3zM1038.1 455.4l2.7 4.6h-5.3zM1038.8 467.4l2.7 4.6h-5.3zM1038.9 461.2l2.7 4.6h-5.3zM1038.9 476.2l2.7 4.6h-5.3zM1039.9 465.5l2.7 4.6h-5.3zM1040.7 476.9l2.7 4.6h-5.3zM1040.7 475.1l2.7 4.6h-5.3zM1040.9 475.5l2.7 4.6h-5.3zM1041.2 460.5l2.7 4.6h-5.3zM1041.4 465.6l2.7 4.6h-5.3zM1041.6 479.6l2.7 4.6h-5.3zM1042.1 457.1l2.7 4.6h-5.3zM1042.1 462.5l2.7 4.6h-5.3zM1043.0 479.8l2.7 4.6h-5.3zM1043.1 451.6l2.7 4.6h-5.3zM1043.2 453.4l2.7 4.6h-5.3zM1043.7 449.0l2.7 4.6h-5.3zM1044.6 466.7l2.7 4.6h-5.3zM1044.6 464.3l2.7 4.6h-5.3zM1044.7 470.9l2.7 4.6h-5.3zM1044.8 469.8l2.7 4.6h-5.3zM1044.8 460.1l2.7 4.6h-5.3zM1045.1 465.6l2.7 4.6h-5.3zM1046.0 474.0l2.7 4.6h-5.3zM1046.3 458.3l2.7 4.6h-5.3zM1046.3 468.0l2.7 4.6h-5.3zM1046.7 469.8l2.7 4.6h-5.3zM1047.1 449.9l2.7 4.6h-5.3zM1047.9 449.4l2.7 4.6h-5.3zM1048.1 459.2l2.7 4.6h-5.3zM1049.2 453.8l2.7 4.6h-5.3zM1049.3 463.3l2.7 4.6h-5.3zM1049.4 451.8l2.7 4.6h-5.3zM1049.8 465.6l2.7 4.6h-5.3zM1049.9 462.4l2.7 4.6h-5.3zM1050.0 451.9l2.7 4.6h-5.3zM1050.2 454.5l2.7 4.6h-5.3zM1050.2 478.1l2.7 4.6h-5.3zM1051.0 476.2l2.7 4.6h-5.3zM1051.0 463.0l2.7 4.6h-5.3zM1051.4 465.1l2.7 4.6h-5.3zM1051.5 476.2l2.7 4.6h-5.3zM1051.8 467.4l2.7 4.6h-5.3zM1052.1 447.1l2.7 4.6h-5.3zM1052.1 442.0l2.7 4.6h-5.3zM1052.2 462.3l2.7 4.6h-5.3zM1052.7 452.0l2.7 4.6h-5.3zM1052.8 466.4l2.7 4.6h-5.3zM1052.8 447.1l2.7 4.6h-5.3zM1053.0 461.3l2.7 4.6h-5.3zM1053.8 463.4l2.7 4.6h-5.3zM1053.8 462.4l2.7 4.6h-5.3zM1054.4 447.6l2.7 4.6h-5.3zM1054.4 467.4l2.7 4.6h-5.3zM1055.1 467.3l2.7 4.6h-5.3zM1055.3 471.7l2.7 4.6h-5.3zM1055.5 454.3l2.7 4.6h-5.3zM1056.3 445.4l2.7 4.6h-5.3zM1056.5 448.6l2.7 4.6h-5.3zM1056.7 456.5l2.7 4.6h-5.3zM1056.9 454.9l2.7 4.6h-5.3zM1058.1 452.1l2.7 4.6h-5.3zM1058.4 447.7l2.7 4.6h-5.3zM1058.4 465.0l2.7 4.6h-5.3zM1059.0 466.8l2.7 4.6h-5.3zM1059.4 447.0l2.7 4.6h-5.3zM1060.2 456.7l2.7 4.6h-5.3zM1060.7 464.3l2.7 4.6h-5.3zM1061.3 457.0l2.7 4.6h-5.3zM1061.9 451.6l2.7 4.6h-5.3zM1062.0 453.2l2.7 4.6h-5.3zM1062.1 449.1l2.7 4.6h-5.3zM1062.3 455.7l2.7 4.6h-5.3zM1062.3 442.1l2.7 4.6h-5.3zM1062.5 450.9l2.7 4.6h-5.3zM1062.5 440.1l2.7 4.6h-5.3zM1062.7 455.4l2.7 4.6h-5.3zM1063.2 467.0l2.7 4.6h-5.3zM1063.2 445.2l2.7 4.6h-5.3zM1063.4 461.8l2.7 4.6h-5.3zM1063.8 465.7l2.7 4.6h-5.3zM1063.9 440.0l2.7 4.6h-5.3zM1064.1 450.2l2.7 4.6h-5.3zM1064.5 461.9l2.7 4.6h-5.3zM1065.3 455.4l2.7 4.6h-5.3zM1065.5 448.6l2.7 4.6h-5.3zM1065.8 461.0l2.7 4.6h-5.3zM1066.2 464.4l2.7 4.6h-5.3zM1066.2 458.0l2.7 4.6h-5.3zM1066.3 459.0l2.7 4.6h-5.3zM1066.7 439.5l2.7 4.6h-5.3zM1066.7 459.1l2.7 4.6h-5.3zM1066.9 442.7l2.7 4.6h-5.3zM1066.9 441.3l2.7 4.6h-5.3zM1067.1 458.5l2.7 4.6h-5.3zM1067.7 439.6l2.7 4.6h-5.3zM1067.9 447.3l2.7 4.6h-5.3zM1068.1 452.2l2.7 4.6h-5.3zM1068.1 462.4l2.7 4.6h-5.3zM1068.2 442.6l2.7 4.6h-5.3zM1068.3 462.7l2.7 4.6h-5.3zM1068.4 440.3l2.7 4.6h-5.3zM1068.7 433.3l2.7 4.6h-5.3zM1069.1 448.7l2.7 4.6h-5.3zM1070.0 455.8l2.7 4.6h-5.3zM1070.1 439.4l2.7 4.6h-5.3zM1070.2 448.5l2.7 4.6h-5.3zM1070.8 436.1l2.7 4.6h-5.3zM1071.6 444.7l2.7 4.6h-5.3zM1072.4 438.3l2.7 4.6h-5.3zM1072.5 461.0l2.7 4.6h-5.3zM1072.9 444.0l2.7 4.6h-5.3zM1074.0 458.7l2.7 4.6h-5.3zM1074.2 462.4l2.7 4.6h-5.3zM1075.3 440.1l2.7 4.6h-5.3zM1075.5 433.0l2.7 4.6h-5.3zM1075.6 456.3l2.7 4.6h-5.3zM1075.7 445.5l2.7 4.6h-5.3zM1075.7 460.0l2.7 4.6h-5.3zM1075.9 450.2l2.7 4.6h-5.3zM1077.1 440.8l2.7 4.6h-5.3zM1077.7 461.5l2.7 4.6h-5.3zM1077.7 437.7l2.7 4.6h-5.3zM1078.5 444.6l2.7 4.6h-5.3zM1078.7 441.5l2.7 4.6h-5.3zM1078.7 454.9l2.7 4.6h-5.3zM1078.9 452.8l2.7 4.6h-5.3zM1078.9 431.1l2.7 4.6h-5.3zM1079.1 430.7l2.7 4.6h-5.3zM1079.1 441.4l2.7 4.6h-5.3zM1079.8 448.5l2.7 4.6h-5.3zM1080.1 453.7l2.7 4.6h-5.3zM1080.4 441.2l2.7 4.6h-5.3zM1080.4 438.4l2.7 4.6h-5.3zM1081.1 448.6l2.7 4.6h-5.3zM1081.3 426.2l2.7 4.6h-5.3zM1081.6 429.1l2.7 4.6h-5.3zM1081.7 443.4l2.7 4.6h-5.3zM1081.9 462.7l2.7 4.6h-5.3zM1081.9 445.6l2.7 4.6h-5.3zM1082.2 435.9l2.7 4.6h-5.3zM1082.6 430.5l2.7 4.6h-5.3zM1082.8 430.6l2.7 4.6h-5.3zM1082.8 443.7l2.7 4.6h-5.3zM1082.9 455.0l2.7 4.6h-5.3zM1083.1 458.9l2.7 4.6h-5.3zM1083.4 448.2l2.7 4.6h-5.3zM1083.7 441.0l2.7 4.6h-5.3zM1083.9 433.4l2.7 4.6h-5.3zM1084.2 457.7l2.7 4.6h-5.3zM1085.4 445.1l2.7 4.6h-5.3zM1085.9 434.6l2.7 4.6h-5.3zM1086.3 445.2l2.7 4.6h-5.3zM1086.4 446.8l2.7 4.6h-5.3zM1086.7 432.8l2.7 4.6h-5.3zM1087.0 450.9l2.7 4.6h-5.3zM1087.2 423.1l2.7 4.6h-5.3zM1087.3 442.4l2.7 4.6h-5.3zM1087.3 442.7l2.7 4.6h-5.3zM1087.4 443.7l2.7 4.6h-5.3zM1087.4 427.3l2.7 4.6h-5.3zM1088.0 452.7l2.7 4.6h-5.3zM1088.2 445.9l2.7 4.6h-5.3zM1088.3 433.5l2.7 4.6h-5.3zM1088.6 436.7l2.7 4.6h-5.3zM1089.2 453.3l2.7 4.6h-5.3z" fill="#5c70fa"/>
</g>
<rect x="112" y="41" width="421.3" height="630.0" fill="none" stroke="#000" stroke-width="2.2"/>
<path d="M112.0 670.7H124.0M112.0 544.7H124.0M112.0 418.7H124.0M112.0 292.7H124.0M112.0 166.7H124.0M112.0 40.7H124.0M111.8 671.0V659.0M217.2 671.0V659.0M322.6 671.0V659.0M428.0 671.0V659.0M533.4 671.0V659.0" stroke="#000" stroke-width="2.2" fill="none"/>
<rect x="122.6" y="44.5" width="215.1" height="181.1" fill="#fff"/>
<path d="M122.6 43.75V226.35" stroke="#000" stroke-width="1.5"/>
<path d="M121.85 44.5H338.45" stroke="#000" stroke-width="1.5"/>
<path d="M337.7 43.75V226.35" stroke="#000" stroke-width="1.5"/>
<path d="M121.85 225.6H338.45" stroke="#000" stroke-width="1.5"/>
<rect x="173.3" y="67.7" width="17.6" height="17.6" fill="#fadcb8"/>
<circle cx="181.9" cy="134.8" r="9.8" fill="#76fa6e"/>
<path d="M170.0 199.4L182.0 179.3L194.0 199.4Z" fill="#5c70fa"/>
<text x="247" y="93" font-size="47.5">BP</text>
<text x="247" y="150.9" font-size="47.5">BAs</text>
<text x="247" y="208.8" font-size="47.5">BSb</text>
<rect x="669.7" y="39.5" width="420.5" height="629.8" fill="none" stroke="#000" stroke-width="2.2"/>
<path d="M669.7 669.3H681.7M669.7 543.3H681.7M669.7 417.4H681.7M669.7 291.4H681.7M669.7 165.5H681.7M669.7 39.5H681.7M669.7 669.3V657.3M774.8 669.3V657.3M880.0 669.3V657.3M985.1 669.3V657.3M1090.2 669.3V657.3" stroke="#000" stroke-width="2.2" fill="none"/>
<rect x="686.1" y="46.8" width="214.7" height="180.9" fill="#fff"/>
<path d="M686.1 46.05V228.45" stroke="#333" stroke-width="1.5"/>
<path d="M685.35 46.8H901.55" stroke="#808080" stroke-width="1.5"/>
<path d="M900.8 46.05V228.45" stroke="#808080" stroke-width="1.5"/>
<path d="M685.35 227.7H901.55" stroke="#000" stroke-width="1.5"/>
<rect x="735.5" y="71.3" width="17.6" height="17.6" fill="#fadcb8"/>
<circle cx="745.2" cy="138" r="9.8" fill="#76fa6e"/>
<path d="M733.1 202.6L745.1 183.2L757.1 202.6Z" fill="#5c70fa"/>
<text x="809.6" y="94.8" font-size="47.5">BP</text>
<text x="809.6" y="152.7" font-size="47.5">BAs</text>
<text x="809.6" y="210.6" font-size="47.5">BSb</text>
<text transform="translate(97.8,683.2) scale(1,1.045)" text-anchor="end" font-size="41">0</text>
<text transform="translate(97.8,557.2) scale(1,1.045)" text-anchor="end" font-size="41">5</text>
<text transform="translate(97.8,431.2) scale(1,1.045)" text-anchor="end" font-size="41">10</text>
<text transform="translate(97.8,305.2) scale(1,1.045)" text-anchor="end" font-size="41">15</text>
<text transform="translate(97.8,179.2) scale(1,1.045)" text-anchor="end" font-size="41">20</text>
<text transform="translate(97.8,53.2) scale(1,1.045)" text-anchor="end" font-size="41">25</text>
<text transform="translate(111.8,715.5) scale(1,1.045)" text-anchor="middle" font-size="41">0.00</text>
<text transform="translate(217.2,715.5) scale(1,1.045)" text-anchor="middle" font-size="41">0.05</text>
<text transform="translate(322.6,715.5) scale(1,1.045)" text-anchor="middle" font-size="41">0.10</text>
<text transform="translate(428.0,715.5) scale(1,1.045)" text-anchor="middle" font-size="41">0.15</text>
<text transform="translate(533.4,715.5) scale(1,1.045)" text-anchor="middle" font-size="41">0.20</text>
<text x="323.7" y="752" text-anchor="middle" font-size="38.5">Energy(eV)</text>
<text transform="translate(37,665.5) rotate(-90)" font-size="52.7">Electron scattering rate (Thz)</text>
<text x="111" y="29" font-size="41">(a)</text>
<text transform="translate(655.5,681.8) scale(1,1.045)" text-anchor="end" font-size="41">0</text>
<text transform="translate(655.5,555.8) scale(1,1.045)" text-anchor="end" font-size="41">5</text>
<text transform="translate(655.5,429.9) scale(1,1.045)" text-anchor="end" font-size="41">10</text>
<text transform="translate(655.5,303.9) scale(1,1.045)" text-anchor="end" font-size="41">15</text>
<text transform="translate(655.5,178.0) scale(1,1.045)" text-anchor="end" font-size="41">20</text>
<text transform="translate(655.5,52.0) scale(1,1.045)" text-anchor="end" font-size="41">25</text>
<text transform="translate(669.7,714) scale(1,1.045)" text-anchor="middle" font-size="41">0.00</text>
<text transform="translate(774.8,714) scale(1,1.045)" text-anchor="middle" font-size="41">0.05</text>
<text transform="translate(880.0,714) scale(1,1.045)" text-anchor="middle" font-size="41">0.10</text>
<text transform="translate(985.1,714) scale(1,1.045)" text-anchor="middle" font-size="41">0.15</text>
<text transform="translate(1090.2,714) scale(1,1.045)" text-anchor="middle" font-size="41">0.20</text>
<text x="887.8" y="753" text-anchor="middle" font-size="38.5">Energy(eV)</text>
<text transform="translate(594.6,629.5) rotate(-90)" font-size="52.7">Hole scattering rate (Thz)</text>
<text x="667.5" y="29" font-size="41">(b)</text>
</svg>
</body></html>
